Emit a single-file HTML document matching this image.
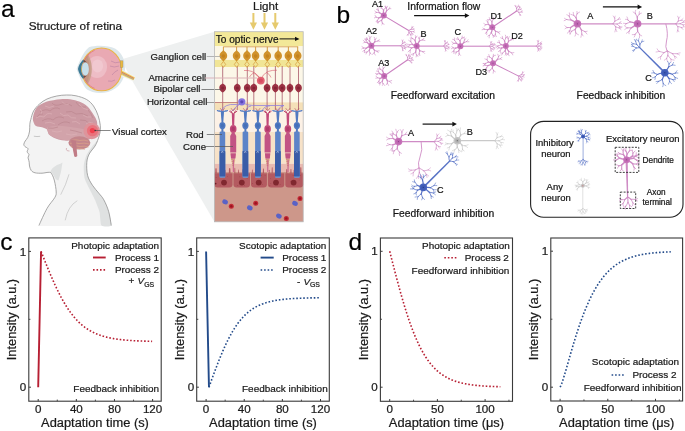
<!DOCTYPE html>
<html><head><meta charset="utf-8"><title>Retina adaptation figure</title>
<style>html,body{margin:0;padding:0;background:#fff;}svg{display:block;} text{stroke-width:0.22px;stroke:#1a1a1a;}</style></head>
<body>
<svg width="685" height="431" viewBox="0 0 685 431" font-family="&quot;Liberation Sans&quot;, Arial, sans-serif">
<rect width="685" height="431" fill="#fff"/>
<path d="M121,59.5 L214.4,31.7 L214.4,221.8 L133,82 Z" fill="#eef0f0"/>
<defs><radialGradient id="vc" cx="0.5" cy="0.5" r="0.5"><stop offset="0" stop-color="#e4233a"/><stop offset="0.3" stop-color="#ea5060"/><stop offset="0.62" stop-color="#ee8a95" stop-opacity="0.95"/><stop offset="1" stop-color="#f0a0a8" stop-opacity="0"/></radialGradient></defs>
<path d="M38.90,225.50 C40.27,222.63 44.47,212.93 47.10,208.30 C49.73,203.67 53.18,200.42 54.70,197.70 C56.22,194.98 56.23,194.78 56.20,192.00 C56.17,189.22 55.20,183.92 54.50,181.00 C53.80,178.08 52.83,175.95 52.00,174.50 C51.17,173.05 51.17,172.52 49.50,172.30 C47.83,172.08 44.40,173.12 42.00,173.20 C39.60,173.28 36.88,173.23 35.10,172.80 C33.32,172.37 32.23,171.73 31.30,170.60 C30.37,169.47 29.85,167.40 29.50,166.00 C29.15,164.60 29.38,163.37 29.20,162.20 C29.02,161.03 28.58,159.83 28.40,159.00 C28.22,158.17 28.00,157.93 28.10,157.20 C28.20,156.47 29.10,155.37 29.00,154.60 C28.90,153.83 27.80,153.17 27.50,152.60 C27.20,152.03 27.12,151.87 27.20,151.20 C27.28,150.53 28.37,149.37 28.00,148.60 C27.63,147.83 25.70,147.30 25.00,146.60 C24.30,145.90 23.77,145.33 23.80,144.40 C23.83,143.47 24.53,142.18 25.20,141.00 C25.87,139.82 27.07,138.97 27.80,137.30 C28.53,135.63 29.27,133.13 29.60,131.00 C29.93,128.87 29.60,126.43 29.80,124.50 C30.00,122.57 30.17,121.65 30.80,119.40 C31.43,117.15 32.15,113.57 33.60,111.00 C35.05,108.43 37.27,106.00 39.50,104.00 C41.73,102.00 44.12,100.33 47.00,99.00 C49.88,97.67 53.52,96.67 56.80,96.00 C60.08,95.33 63.50,95.03 66.70,95.00 C69.90,94.97 72.68,95.05 76.00,95.80 C79.32,96.55 83.68,97.80 86.60,99.50 C89.52,101.20 91.58,103.33 93.50,106.00 C95.42,108.67 96.97,112.25 98.10,115.50 C99.23,118.75 100.00,122.58 100.30,125.50 C100.60,128.42 100.35,130.50 99.90,133.00 C99.45,135.50 98.43,138.30 97.60,140.50 C96.77,142.70 96.30,143.95 94.90,146.20 C93.50,148.45 90.55,151.30 89.20,154.00 C87.85,156.70 87.07,158.83 86.80,162.40 C86.53,165.97 86.67,171.60 87.60,175.40 C88.53,179.20 90.52,182.22 92.40,185.20 C94.28,188.18 97.00,190.87 98.90,193.30 C100.80,195.73 102.18,196.80 103.80,199.80 C105.42,202.80 107.35,207.02 108.60,211.30 C109.85,215.58 110.85,223.13 111.30,225.50 L111.3,226 L38.9,226Z" fill="#f3f3f3"/>
<path d="M97.60,140.50 C97.84,140.52 95.74,144.85 94.90,146.20 C94.06,147.55 90.01,152.38 89.20,154.00 C88.39,155.62 86.96,160.26 86.80,162.40 C86.64,164.54 87.04,173.12 87.60,175.40 C88.16,177.68 91.27,183.41 92.40,185.20 C93.53,186.99 97.76,191.84 98.90,193.30 C100.04,194.76 102.83,198.00 103.80,199.80 C104.77,201.60 107.85,208.73 108.60,211.30 C109.35,213.87 112.01,224.08 111.30,225.50 C110.59,226.92 102.68,226.85 101.50,225.50 C100.32,224.15 100.15,214.55 99.50,212.00 C98.85,209.45 96.00,202.30 95.00,200.00 C94.00,197.70 90.55,191.20 89.50,189.00 C88.45,186.80 85.07,180.40 84.50,178.00 C83.93,175.60 83.60,167.30 83.80,165.00 C84.00,162.70 85.63,156.90 86.50,155.00 C87.37,153.10 91.39,147.45 92.50,146.00 C93.61,144.55 97.36,140.48 97.60,140.50Z" fill="#dfe1e1"/>
<path d="M50,172.3 Q52,167.5 57,165 Q61,163.5 62.5,162.5 Q61.5,172 58.5,180.5 Q55.5,180 54,176 Q52.5,173 50,172.3Z" fill="#dfe1e1"/>
<path d="M38.90,225.50 C40.27,222.63 44.47,212.93 47.10,208.30 C49.73,203.67 53.18,200.42 54.70,197.70 C56.22,194.98 56.23,194.78 56.20,192.00 C56.17,189.22 55.20,183.92 54.50,181.00 C53.80,178.08 52.83,175.95 52.00,174.50 C51.17,173.05 51.17,172.52 49.50,172.30 C47.83,172.08 44.40,173.12 42.00,173.20 C39.60,173.28 36.88,173.23 35.10,172.80 C33.32,172.37 32.23,171.73 31.30,170.60 C30.37,169.47 29.85,167.40 29.50,166.00 C29.15,164.60 29.38,163.37 29.20,162.20 C29.02,161.03 28.58,159.83 28.40,159.00 C28.22,158.17 28.00,157.93 28.10,157.20 C28.20,156.47 29.10,155.37 29.00,154.60 C28.90,153.83 27.80,153.17 27.50,152.60 C27.20,152.03 27.12,151.87 27.20,151.20 C27.28,150.53 28.37,149.37 28.00,148.60 C27.63,147.83 25.70,147.30 25.00,146.60 C24.30,145.90 23.77,145.33 23.80,144.40 C23.83,143.47 24.53,142.18 25.20,141.00 C25.87,139.82 27.07,138.97 27.80,137.30 C28.53,135.63 29.27,133.13 29.60,131.00 C29.93,128.87 29.60,126.43 29.80,124.50 C30.00,122.57 30.17,121.65 30.80,119.40 C31.43,117.15 32.15,113.57 33.60,111.00 C35.05,108.43 37.27,106.00 39.50,104.00 C41.73,102.00 44.12,100.33 47.00,99.00 C49.88,97.67 53.52,96.67 56.80,96.00 C60.08,95.33 63.50,95.03 66.70,95.00 C69.90,94.97 72.68,95.05 76.00,95.80 C79.32,96.55 83.68,97.80 86.60,99.50 C89.52,101.20 91.58,103.33 93.50,106.00 C95.42,108.67 96.97,112.25 98.10,115.50 C99.23,118.75 100.00,122.58 100.30,125.50 C100.60,128.42 100.35,130.50 99.90,133.00 C99.45,135.50 98.43,138.30 97.60,140.50 C96.77,142.70 96.30,143.95 94.90,146.20 C93.50,148.45 90.55,151.30 89.20,154.00 C87.85,156.70 87.07,158.83 86.80,162.40 C86.53,165.97 86.67,171.60 87.60,175.40 C88.53,179.20 90.52,182.22 92.40,185.20 C94.28,188.18 97.00,190.87 98.90,193.30 C100.80,195.73 102.18,196.80 103.80,199.80 C105.42,202.80 107.35,207.02 108.60,211.30 C109.85,215.58 110.85,223.13 111.30,225.50" fill="none" stroke="#8c8c8c" stroke-width="0.75"/>
<path d="M69,174.3 Q66,185 60.7,194.7" fill="none" stroke="#b4b4b4" stroke-width="0.55"/>
<path d="M77.3,200.7 Q68,206 65.2,220.3" fill="none" stroke="#b4b4b4" stroke-width="0.55"/>
<path d="M33.8,136.2 Q37,136.9 40.2,136.3" fill="none" stroke="#9a9a9a" stroke-width="0.5"/>
<path d="M33.00,117.60 C33.25,115.68 34.00,112.50 35.00,110.50 C36.00,108.50 37.00,107.10 39.00,105.60 C41.00,104.10 43.47,102.57 47.00,101.50 C50.53,100.43 56.37,99.57 60.20,99.20 C64.03,98.83 66.73,98.87 70.00,99.30 C73.27,99.73 76.88,100.60 79.80,101.80 C82.72,103.00 85.23,104.37 87.50,106.50 C89.77,108.63 91.85,112.18 93.40,114.60 C94.95,117.02 96.18,119.02 96.80,121.00 C97.42,122.98 97.32,124.50 97.10,126.50 C96.88,128.50 96.43,131.05 95.50,133.00 C94.57,134.95 93.08,137.07 91.50,138.20 C89.92,139.33 88.25,139.58 86.00,139.80 C83.75,140.02 80.67,139.37 78.00,139.50 C75.33,139.63 72.67,140.47 70.00,140.60 C67.33,140.73 64.50,140.68 62.00,140.30 C59.50,139.92 57.17,139.25 55.00,138.30 C52.83,137.35 50.33,136.07 49.00,134.60 C47.67,133.13 48.17,130.73 47.00,129.50 C45.83,128.27 43.83,127.78 42.00,127.20 C40.17,126.62 37.42,126.87 36.00,126.00 C34.58,125.13 34.00,123.40 33.50,122.00 C33.00,120.60 32.75,119.52 33.00,117.60Z" fill="#cc9aa3"/>
<path d="M46.6,127.4 Q56,124.5 67,126.5 Q79,128 90.5,130.5 Q92,135 88,138.5 Q78,139.5 66,140.3 Q56,139.3 49,134.6 Q47,130 46.6,127.4Z" fill="#d2a3aa"/>
<path d="M40,112 Q46,108 50,111 Q55,106 60,109 M52,103 Q55,107 62,104 Q68,102 72,106 M76,102 Q79,108 86,107 M42,121 Q48,117 53,120 Q58,115 64,118 M66,112 Q72,110 76,114 Q82,112 88,116 M58,125 Q64,120 70,123 M80,120 Q86,119 90,124 M37,117 Q39,113 43,114 M48,128 Q53,129 58,127 M70,130 Q76,131 82,133 M88,110 Q91,113 93,118" fill="none" stroke="#b8838c" stroke-width="0.6"/>
<path d="M36,118 Q40,115 44,117 Q47,112 52,114 M45,106 Q49,109 54,106 M62,101.5 Q64,105 69,104 M79,104 Q82,109 88,110 M45,123 Q50,121 55,124 M60,113 Q63,117 68,115 Q71,119 76,118 M72,122 Q76,120 80,124 M83,115 Q87,118 91,117 M86,124 Q89,121 93,123 M52,131 Q57,133 62,131 M66,134 Q71,136 77,134 M40,109 Q43,111 41,114" fill="none" stroke="#deb3b9" stroke-width="0.6"/>
<ellipse cx="79.4" cy="142.8" rx="11" ry="6.6" fill="#c4868c"/>
<path d="M71,140.5 Q76,139 80,140.5 Q84,139.5 88,141 M70,143.5 Q75,142 79,143.6 Q84,142.5 89.5,144 M71,146.5 Q76,145 80,146.6 Q84,145.6 88.5,147 M74,149 Q79,148 85,149.2" fill="none" stroke="#d9a088" stroke-width="0.75"/>
<path d="M71,140 Q73.5,139.5 76,141 L77.3,156 Q75.8,157.6 74.3,156.6 Z" fill="#c07c86"/>
<path d="M66.5,148 Q65.5,151 69.5,151" fill="none" stroke="#c48f97" stroke-width="0.6"/>
<circle cx="91.8" cy="131" r="8.3" fill="#de949b"/>
<circle cx="92.5" cy="130.7" r="5.6" fill="#e9737d"/>
<circle cx="92.4" cy="130.6" r="2.6" fill="#f0414f"/>
<circle cx="95.3" cy="130.5" r="0.8" fill="#222"/>
<path d="M89,47.2 C95,45.2 108,45 115,48.5 C123,53 125.5,62 125,70 C124.5,80 119,88.5 108,92 C99,94.5 91,92 87,89.5 C83,86 79.5,77 76.6,69 C79.5,61 83,52 89,47.2Z" fill="#dde7eb"/>
<path d="M117.5,67.5 L135.8,76.6 L133.6,81.4 L116.5,74Z" fill="#f2f2ee"/>
<path d="M118,68.6 L135,77.4 L133.3,80.3 L117,73Z" fill="#efd264"/>
<path d="M119,70.8 L134,78.4" stroke="#c84858" stroke-width="0.6"/><path d="M119,72 L133.6,79.4" stroke="#6070b8" stroke-width="0.45"/>
<ellipse cx="101.6" cy="69.4" rx="20.0" ry="21.4" fill="#e9a9b3" stroke="#e9b446" stroke-width="1.1"/>
<clipPath id="globe"><ellipse cx="101.6" cy="69.4" rx="19.4" ry="20.8"/></clipPath>
<g clip-path="url(#globe)">
<ellipse cx="97.1" cy="66.9" rx="10" ry="11" fill="#eebdc6"/>
<ellipse cx="97.6" cy="65.9" rx="5.5" ry="6.5" fill="#f1c8d0"/>
<path d="M78,45 C88,50 91.8,60 91.8,69 C91.8,78 88,88 78,94Z" fill="#c9a08e"/>
<path d="M78,45 C86,49 89.5,58 89.5,69 C89.5,80 86,89 78,94Z" fill="#c29480"/>
<path d="M94.33,50.11 L93.15,50.68 L92.00,51.33 L90.89,52.06 L89.83,52.86 L88.83,53.74 L87.88,54.69 L87.00,55.71 L86.17,56.79 L85.42,57.92 L84.74,59.10 L84.14,60.34 L83.61,61.61 M83.61,77.19 L84.14,78.46 L84.74,79.70 L85.42,80.88 L86.17,82.01 L87.00,83.09 L87.88,84.11 L88.83,85.06 L89.83,85.94 L90.89,86.74 L92.00,87.47 L93.15,88.12 L94.33,88.69" fill="none" stroke="#de6a74" stroke-width="1.3"/>
</g>
<path d="M83.5,59.5 L86.5,62 L86.5,63.5 L83.2,62Z M83.5,78.5 L86.5,76 L86.5,74.5 L83.2,76Z" fill="#7c4c3c"/>
<path d="M83.2,59.6 C80.2,63 78.4,66 78.0,69 C78.4,72 80.2,75.5 83.2,79 L83.8,77 C82,74.5 81.2,72 81.2,69 C81.2,66 82,63.5 83.8,61.5Z" fill="#3b7894"/>
<ellipse cx="85.4" cy="69" rx="3.5" ry="6.8" fill="#c7e0ea"/>
<path d="M120,62 Q115,64 111,61 M119,66 Q114,68 110,66 M118,70 Q114,72 112,75 M115,80 Q112,82 108,81" fill="none" stroke="#b07aa0" stroke-width="0.5"/>
<rect x="120.2" y="60.8" width="2.8" height="6.6" fill="#e8b840" stroke="#9a8a70" stroke-width="0.4"/>
<rect x="214.4" y="31.7" width="88.80" height="14.60" fill="#f3e898"/>
<rect x="214.4" y="46.3" width="88.80" height="13.60" fill="#fcf7e6"/>
<rect x="214.4" y="59.9" width="88.80" height="7.30" fill="#f1e596"/>
<rect x="214.4" y="67.2" width="88.80" height="35.10" fill="#fcf7e8"/>
<rect x="214.4" y="102.3" width="88.80" height="7.70" fill="#f5e0b8"/>
<rect x="214.4" y="110.0" width="88.80" height="22.00" fill="#fcf1e6"/>
<rect x="214.4" y="132.0" width="88.80" height="31.80" fill="#f7e2c8"/>
<rect x="214.4" y="163.8" width="88.80" height="8.20" fill="#e9bab0"/>
<rect x="214.4" y="172.0" width="88.80" height="49.80" fill="#cd978a"/>
<line x1="223.4" y1="46.8" x2="298.2" y2="46.8" stroke="#d7a24e" stroke-width="0.9"/>
<line x1="222.7" y1="66" x2="222.7" y2="110" stroke="#a85868" stroke-width="0.8"/>
<line x1="237.3" y1="66" x2="237.3" y2="110" stroke="#a85868" stroke-width="0.8"/>
<line x1="247.3" y1="66" x2="247.3" y2="110" stroke="#a85868" stroke-width="0.8"/>
<line x1="253.8" y1="66" x2="253.8" y2="110" stroke="#a85868" stroke-width="0.8"/>
<line x1="267.1" y1="66" x2="267.1" y2="110" stroke="#a85868" stroke-width="0.8"/>
<line x1="275.4" y1="66" x2="275.4" y2="110" stroke="#a85868" stroke-width="0.8"/>
<line x1="282.2" y1="66" x2="282.2" y2="110" stroke="#a85868" stroke-width="0.8"/>
<line x1="290.0" y1="66" x2="290.0" y2="110" stroke="#a85868" stroke-width="0.8"/>
<line x1="298.5" y1="66" x2="298.5" y2="110" stroke="#a85868" stroke-width="0.8"/>
<line x1="223.4" y1="46.8" x2="223.4" y2="52" stroke="#cf9230" stroke-width="0.9"/>
<path d="M223.4,50.0 C224.6,51.6 227.20000000000002,52.6 227.20000000000002,56.0 C227.20000000000002,58.6 225.0,59.6 223.4,61.6 C221.8,59.6 219.6,58.6 219.6,56.0 C219.6,52.6 222.20000000000002,51.6 223.4,50.0Z" fill="#d0922c"/>
<circle cx="223.4" cy="56.1" r="1.8" fill="#c4821e"/>
<path d="M223.4,61.4 L225.70000000000002,64.4 L223.4,67.4 L221.1,64.4Z" fill="none" stroke="#d9a040" stroke-width="0.75"/>
<line x1="236.6" y1="46.8" x2="236.6" y2="52" stroke="#cf9230" stroke-width="0.9"/>
<path d="M236.6,50.0 C237.79999999999998,51.6 240.4,52.6 240.4,56.0 C240.4,58.6 238.2,59.6 236.6,61.6 C235.0,59.6 232.79999999999998,58.6 232.79999999999998,56.0 C232.79999999999998,52.6 235.4,51.6 236.6,50.0Z" fill="#d0922c"/>
<circle cx="236.6" cy="56.1" r="1.8" fill="#c4821e"/>
<path d="M236.6,61.4 L238.9,64.4 L236.6,67.4 L234.29999999999998,64.4Z" fill="none" stroke="#d9a040" stroke-width="0.75"/>
<line x1="247.0" y1="46.8" x2="247.0" y2="52" stroke="#cf9230" stroke-width="0.9"/>
<path d="M247.0,50.0 C248.2,51.6 250.8,52.6 250.8,56.0 C250.8,58.6 248.6,59.6 247.0,61.6 C245.4,59.6 243.2,58.6 243.2,56.0 C243.2,52.6 245.8,51.6 247.0,50.0Z" fill="#d0922c"/>
<circle cx="247.0" cy="56.1" r="1.8" fill="#c4821e"/>
<path d="M247.0,61.4 L249.3,64.4 L247.0,67.4 L244.7,64.4Z" fill="none" stroke="#d9a040" stroke-width="0.75"/>
<line x1="255.6" y1="46.8" x2="255.6" y2="52" stroke="#cf9230" stroke-width="0.9"/>
<path d="M255.6,50.0 C256.8,51.6 259.4,52.6 259.4,56.0 C259.4,58.6 257.2,59.6 255.6,61.6 C254.0,59.6 251.79999999999998,58.6 251.79999999999998,56.0 C251.79999999999998,52.6 254.4,51.6 255.6,50.0Z" fill="#d0922c"/>
<circle cx="255.6" cy="56.1" r="1.8" fill="#c4821e"/>
<path d="M255.6,61.4 L257.9,64.4 L255.6,67.4 L253.29999999999998,64.4Z" fill="none" stroke="#d9a040" stroke-width="0.75"/>
<line x1="267.3" y1="46.8" x2="267.3" y2="52" stroke="#cf9230" stroke-width="0.9"/>
<path d="M267.3,50.0 C268.5,51.6 271.1,52.6 271.1,56.0 C271.1,58.6 268.90000000000003,59.6 267.3,61.6 C265.7,59.6 263.5,58.6 263.5,56.0 C263.5,52.6 266.1,51.6 267.3,50.0Z" fill="#d0922c"/>
<circle cx="267.3" cy="56.1" r="1.8" fill="#c4821e"/>
<path d="M267.3,61.4 L269.6,64.4 L267.3,67.4 L265.0,64.4Z" fill="none" stroke="#d9a040" stroke-width="0.75"/>
<line x1="278.2" y1="46.8" x2="278.2" y2="52" stroke="#cf9230" stroke-width="0.9"/>
<path d="M278.2,50.0 C279.4,51.6 282.0,52.6 282.0,56.0 C282.0,58.6 279.8,59.6 278.2,61.6 C276.59999999999997,59.6 274.4,58.6 274.4,56.0 C274.4,52.6 277.0,51.6 278.2,50.0Z" fill="#d0922c"/>
<circle cx="278.2" cy="56.1" r="1.8" fill="#c4821e"/>
<path d="M278.2,61.4 L280.5,64.4 L278.2,67.4 L275.9,64.4Z" fill="none" stroke="#d9a040" stroke-width="0.75"/>
<line x1="288.4" y1="46.8" x2="288.4" y2="52" stroke="#cf9230" stroke-width="0.9"/>
<path d="M288.4,50.0 C289.59999999999997,51.6 292.2,52.6 292.2,56.0 C292.2,58.6 290.0,59.6 288.4,61.6 C286.79999999999995,59.6 284.59999999999997,58.6 284.59999999999997,56.0 C284.59999999999997,52.6 287.2,51.6 288.4,50.0Z" fill="#d0922c"/>
<circle cx="288.4" cy="56.1" r="1.8" fill="#c4821e"/>
<path d="M288.4,61.4 L290.7,64.4 L288.4,67.4 L286.09999999999997,64.4Z" fill="none" stroke="#d9a040" stroke-width="0.75"/>
<line x1="297.7" y1="46.8" x2="297.7" y2="52" stroke="#cf9230" stroke-width="0.9"/>
<path d="M297.7,50.0 C298.9,51.6 301.5,52.6 301.5,56.0 C301.5,58.6 299.3,59.6 297.7,61.6 C296.09999999999997,59.6 293.9,58.6 293.9,56.0 C293.9,52.6 296.5,51.6 297.7,50.0Z" fill="#d0922c"/>
<circle cx="297.7" cy="56.1" r="1.8" fill="#c4821e"/>
<path d="M297.7,61.4 L300.0,64.4 L297.7,67.4 L295.4,64.4Z" fill="none" stroke="#d9a040" stroke-width="0.75"/>
<path d="M260.8,80 Q258,74 252,71.5 Q248,70 244,70.5 M254.5,72.6 Q251,74 249.5,77 M260.8,80 Q262.5,74 268,71.5 Q272,70 277,70.2 M266.5,72.4 Q270,74.5 271,77.5 M259.5,77 Q256,76 255,73" fill="none" stroke="#d65a6c" stroke-width="0.6"/>
<path d="M222.7,83.4 C223.7,84.2 226.1,84.6 226.1,87.9 C226.1,90.6 223.7,91.6 222.7,92.6 C221.7,91.6 219.29999999999998,90.6 219.29999999999998,87.9 C219.29999999999998,84.6 221.7,84.2 222.7,83.4Z" fill="#9b3243"/>
<circle cx="222.7" cy="87.9" r="1.5" fill="#852434"/>
<path d="M237.3,83.4 C238.3,84.2 240.70000000000002,84.6 240.70000000000002,87.9 C240.70000000000002,90.6 238.3,91.6 237.3,92.6 C236.3,91.6 233.9,90.6 233.9,87.9 C233.9,84.6 236.3,84.2 237.3,83.4Z" fill="#9b3243"/>
<circle cx="237.3" cy="87.9" r="1.5" fill="#852434"/>
<path d="M247.3,83.4 C248.3,84.2 250.70000000000002,84.6 250.70000000000002,87.9 C250.70000000000002,90.6 248.3,91.6 247.3,92.6 C246.3,91.6 243.9,90.6 243.9,87.9 C243.9,84.6 246.3,84.2 247.3,83.4Z" fill="#9b3243"/>
<circle cx="247.3" cy="87.9" r="1.5" fill="#852434"/>
<path d="M253.8,83.4 C254.8,84.2 257.2,84.6 257.2,87.9 C257.2,90.6 254.8,91.6 253.8,92.6 C252.8,91.6 250.4,90.6 250.4,87.9 C250.4,84.6 252.8,84.2 253.8,83.4Z" fill="#9b3243"/>
<circle cx="253.8" cy="87.9" r="1.5" fill="#852434"/>
<path d="M267.1,83.4 C268.1,84.2 270.5,84.6 270.5,87.9 C270.5,90.6 268.1,91.6 267.1,92.6 C266.1,91.6 263.70000000000005,90.6 263.70000000000005,87.9 C263.70000000000005,84.6 266.1,84.2 267.1,83.4Z" fill="#9b3243"/>
<circle cx="267.1" cy="87.9" r="1.5" fill="#852434"/>
<path d="M275.4,83.4 C276.4,84.2 278.79999999999995,84.6 278.79999999999995,87.9 C278.79999999999995,90.6 276.4,91.6 275.4,92.6 C274.4,91.6 272.0,90.6 272.0,87.9 C272.0,84.6 274.4,84.2 275.4,83.4Z" fill="#9b3243"/>
<circle cx="275.4" cy="87.9" r="1.5" fill="#852434"/>
<path d="M282.2,83.4 C283.2,84.2 285.59999999999997,84.6 285.59999999999997,87.9 C285.59999999999997,90.6 283.2,91.6 282.2,92.6 C281.2,91.6 278.8,90.6 278.8,87.9 C278.8,84.6 281.2,84.2 282.2,83.4Z" fill="#9b3243"/>
<circle cx="282.2" cy="87.9" r="1.5" fill="#852434"/>
<path d="M290.0,83.4 C291.0,84.2 293.4,84.6 293.4,87.9 C293.4,90.6 291.0,91.6 290.0,92.6 C289.0,91.6 286.6,90.6 286.6,87.9 C286.6,84.6 289.0,84.2 290.0,83.4Z" fill="#9b3243"/>
<circle cx="290.0" cy="87.9" r="1.5" fill="#852434"/>
<path d="M298.5,83.4 C299.5,84.2 301.9,84.6 301.9,87.9 C301.9,90.6 299.5,91.6 298.5,92.6 C297.5,91.6 295.1,90.6 295.1,87.9 C295.1,84.6 297.5,84.2 298.5,83.4Z" fill="#9b3243"/>
<circle cx="298.5" cy="87.9" r="1.5" fill="#852434"/>
<circle cx="260.8" cy="80.6" r="3.9" fill="#e06272"/>
<circle cx="260.8" cy="80.6" r="2.2" fill="#d64c60"/>
<path d="M221,111 Q225,103.5 235,104.5 Q240,105.5 241.8,101.8 M241.8,101.8 Q246,106 258,105.5 L284,105.5 M232,111 Q236,106 241.8,103 M246,111 Q246,107 251,106 M262,111 Q264,106 270,105.8 M277,111 Q280,106 284,105.5" fill="none" stroke="#8c7ee0" stroke-width="0.75"/>
<circle cx="241.8" cy="101.8" r="3.6" fill="#8674e0"/>
<circle cx="241.8" cy="101.8" r="1.6" fill="#5a48b8"/>
<path d="M214.40,173.2 L232.50,173.2 L232.50,184.20 Q232.50,187.4 229.30,187.4 L217.60,187.4 Q214.40,187.4 214.40,184.20Z" fill="#b45a60"/>
<path d="M215.20,173.5 L215.40,168.46 Q216.00,167.86 216.59,168.46 L216.79,173.5Z" fill="#b45a60"/>
<path d="M219.67,173.5 L219.87,167.56 Q220.46,166.96 221.06,167.56 L221.26,173.5Z" fill="#b45a60"/>
<path d="M224.33,173.5 L224.53,170.12 Q225.02,169.52 225.51,170.12 L225.71,173.5Z" fill="#b45a60"/>
<path d="M228.82,173.5 L229.02,168.38 Q229.68,167.78 230.34,168.38 L230.54,173.5Z" fill="#b45a60"/>
<circle cx="224.0" cy="182.6" r="2.9" fill="#80282f"/>
<circle cx="222.98" cy="177.71" r="0.35" fill="#8c3038"/>
<circle cx="224.11" cy="181.31" r="0.35" fill="#8c3038"/>
<circle cx="216.10" cy="177.38" r="0.35" fill="#8c3038"/>
<circle cx="220.12" cy="185.08" r="0.35" fill="#8c3038"/>
<circle cx="227.46" cy="176.76" r="0.35" fill="#8c3038"/>
<path d="M233.50,173.2 L250.00,173.2 L250.00,184.20 Q250.00,187.4 246.80,187.4 L236.70,187.4 Q233.50,187.4 233.50,184.20Z" fill="#b45a60"/>
<path d="M234.30,173.5 L234.50,167.97 Q234.86,167.37 235.21,167.97 L235.41,173.5Z" fill="#b45a60"/>
<path d="M238.00,173.5 L238.20,169.85 Q238.50,169.25 238.80,169.85 L239.00,173.5Z" fill="#b45a60"/>
<path d="M241.99,173.5 L242.19,169.61 Q242.58,169.01 242.97,169.61 L243.17,173.5Z" fill="#b45a60"/>
<path d="M246.34,173.5 L246.54,167.76 Q246.95,167.16 247.37,167.76 L247.57,173.5Z" fill="#b45a60"/>
<circle cx="241.8" cy="182.6" r="2.9" fill="#80282f"/>
<circle cx="242.28" cy="182.46" r="0.35" fill="#8c3038"/>
<circle cx="237.76" cy="185.35" r="0.35" fill="#8c3038"/>
<circle cx="244.32" cy="185.63" r="0.35" fill="#8c3038"/>
<circle cx="247.07" cy="178.29" r="0.35" fill="#8c3038"/>
<circle cx="239.88" cy="176.83" r="0.35" fill="#8c3038"/>
<path d="M251.00,173.2 L266.90,173.2 L266.90,184.20 Q266.90,187.4 263.70,187.4 L254.20,187.4 Q251.00,187.4 251.00,184.20Z" fill="#b45a60"/>
<path d="M251.80,173.5 L252.00,169.79 Q252.33,169.19 252.65,169.79 L252.85,173.5Z" fill="#b45a60"/>
<path d="M254.93,173.5 L255.13,168.51 Q255.44,167.91 255.74,168.51 L255.94,173.5Z" fill="#b45a60"/>
<path d="M258.62,173.5 L258.82,169.25 Q259.25,168.65 259.67,169.25 L259.87,173.5Z" fill="#b45a60"/>
<path d="M262.78,173.5 L262.98,168.85 Q263.41,168.25 263.83,168.85 L264.03,173.5Z" fill="#b45a60"/>
<circle cx="258.7" cy="182.6" r="2.9" fill="#80282f"/>
<circle cx="261.59" cy="175.63" r="0.35" fill="#8c3038"/>
<circle cx="265.08" cy="175.25" r="0.35" fill="#8c3038"/>
<circle cx="262.17" cy="184.29" r="0.35" fill="#8c3038"/>
<circle cx="252.73" cy="183.67" r="0.35" fill="#8c3038"/>
<circle cx="257.22" cy="181.36" r="0.35" fill="#8c3038"/>
<path d="M267.90,173.2 L284.30,173.2 L284.30,184.20 Q284.30,187.4 281.10,187.4 L271.10,187.4 Q267.90,187.4 267.90,184.20Z" fill="#b45a60"/>
<path d="M268.70,173.5 L268.90,170.17 Q269.22,169.57 269.54,170.17 L269.74,173.5Z" fill="#b45a60"/>
<path d="M271.63,173.5 L271.83,167.53 Q272.21,166.93 272.58,167.53 L272.78,173.5Z" fill="#b45a60"/>
<path d="M275.59,173.5 L275.79,167.60 Q276.47,167.00 277.15,167.60 L277.35,173.5Z" fill="#b45a60"/>
<path d="M279.50,173.5 L279.70,169.21 Q280.21,168.61 280.72,169.21 L280.92,173.5Z" fill="#b45a60"/>
<circle cx="276.0" cy="182.6" r="2.9" fill="#80282f"/>
<circle cx="270.85" cy="183.23" r="0.35" fill="#8c3038"/>
<circle cx="280.08" cy="184.46" r="0.35" fill="#8c3038"/>
<circle cx="269.89" cy="185.40" r="0.35" fill="#8c3038"/>
<circle cx="270.62" cy="178.75" r="0.35" fill="#8c3038"/>
<circle cx="277.59" cy="185.10" r="0.35" fill="#8c3038"/>
<path d="M285.30,173.2 L303.20,173.2 L303.20,184.20 Q303.20,187.4 300.00,187.4 L288.50,187.4 Q285.30,187.4 285.30,184.20Z" fill="#b45a60"/>
<path d="M286.10,173.5 L286.30,169.25 Q286.97,168.65 287.64,169.25 L287.84,173.5Z" fill="#b45a60"/>
<path d="M290.31,173.5 L290.51,169.33 Q290.94,168.73 291.37,169.33 L291.57,173.5Z" fill="#b45a60"/>
<path d="M293.45,173.5 L293.65,169.98 Q294.01,169.38 294.37,169.98 L294.57,173.5Z" fill="#b45a60"/>
<path d="M297.27,173.5 L297.47,167.41 Q297.84,166.81 298.20,167.41 L298.40,173.5Z" fill="#b45a60"/>
<path d="M300.08,173.5 L300.28,167.44 Q300.79,166.84 301.30,167.44 L301.50,173.5Z" fill="#b45a60"/>
<circle cx="293.6" cy="182.6" r="2.9" fill="#80282f"/>
<circle cx="290.34" cy="181.53" r="0.35" fill="#8c3038"/>
<circle cx="299.11" cy="180.01" r="0.35" fill="#8c3038"/>
<circle cx="293.08" cy="175.61" r="0.35" fill="#8c3038"/>
<circle cx="300.45" cy="175.36" r="0.35" fill="#8c3038"/>
<circle cx="294.15" cy="184.22" r="0.35" fill="#8c3038"/>
<circle cx="215.6" cy="183.6" r="0.9" fill="#6a1e26"/>
<ellipse cx="225.1" cy="201.9" rx="2.9" ry="2.3" transform="rotate(25 225.1 201.9)" fill="#5a62c6"/>
<ellipse cx="249.8" cy="207.9" rx="2.9" ry="2.3" transform="rotate(25 249.8 207.9)" fill="#5a62c6"/>
<ellipse cx="278.9" cy="216.1" rx="2.9" ry="2.3" transform="rotate(25 278.9 216.1)" fill="#5a62c6"/>
<ellipse cx="295.0" cy="203.4" rx="2.9" ry="2.3" transform="rotate(25 295.0 203.4)" fill="#5a62c6"/>
<circle cx="231.3" cy="206.3" r="2.5" fill="#c22a36"/><circle cx="231.3" cy="206.3" r="1.2" fill="#9a1420"/>
<circle cx="255.7" cy="203.2" r="2.5" fill="#c22a36"/><circle cx="255.7" cy="203.2" r="1.2" fill="#9a1420"/>
<circle cx="286.3" cy="218.4" r="2.5" fill="#c22a36"/><circle cx="286.3" cy="218.4" r="1.2" fill="#9a1420"/>
<circle cx="300.0" cy="198.5" r="2.5" fill="#c22a36"/><circle cx="300.0" cy="198.5" r="1.2" fill="#9a1420"/>
<path d="M216.9,110.6 Q222.4,112.5 227.9,110.6" fill="none" stroke="#5179c1" stroke-width="1.1"/>
<line x1="218.40" y1="111.6" x2="217.40" y2="110.0" stroke="#5179c1" stroke-width="0.6"/>
<line x1="219.84" y1="111.6" x2="219.20" y2="110.0" stroke="#5179c1" stroke-width="0.6"/>
<line x1="221.28" y1="111.6" x2="221.00" y2="110.0" stroke="#5179c1" stroke-width="0.6"/>
<line x1="223.52" y1="111.6" x2="223.80" y2="110.0" stroke="#5179c1" stroke-width="0.6"/>
<line x1="224.96" y1="111.6" x2="225.60" y2="110.0" stroke="#5179c1" stroke-width="0.6"/>
<line x1="226.40" y1="111.6" x2="227.40" y2="110.0" stroke="#5179c1" stroke-width="0.6"/>
<path d="M220.8,112 L224.0,112 L223.3,122 L221.5,122Z" fill="#5179c1"/>
<ellipse cx="222.4" cy="125.6" rx="3.1" ry="3.7" fill="#5179c1"/>
<ellipse cx="222.4" cy="125.6" rx="1.7" ry="2.1" fill="#4670b8"/>
<rect x="221.4" y="128" width="2.0" height="4" fill="#5179c1"/>
<rect x="219.6" y="131.5" width="5.6" height="20" rx="1.2" fill="#5c83c8"/>
<rect x="219.5" y="151" width="5.8" height="26.7" rx="1.0" fill="#6d9ad6"/>
<rect x="219.5" y="151" width="5.8" height="25.6" rx="0.6" fill="#3a5ca7"/>
<path d="M221.1,152.5 q1,-1.6 2.2,-0.3" fill="none" stroke="#e8eefa" stroke-width="0.7"/>
<path d="M239.9,110.6 Q245.4,112.5 250.9,110.6" fill="none" stroke="#5179c1" stroke-width="1.1"/>
<line x1="241.40" y1="111.6" x2="240.40" y2="110.0" stroke="#5179c1" stroke-width="0.6"/>
<line x1="242.84" y1="111.6" x2="242.20" y2="110.0" stroke="#5179c1" stroke-width="0.6"/>
<line x1="244.28" y1="111.6" x2="244.00" y2="110.0" stroke="#5179c1" stroke-width="0.6"/>
<line x1="246.52" y1="111.6" x2="246.80" y2="110.0" stroke="#5179c1" stroke-width="0.6"/>
<line x1="247.96" y1="111.6" x2="248.60" y2="110.0" stroke="#5179c1" stroke-width="0.6"/>
<line x1="249.40" y1="111.6" x2="250.40" y2="110.0" stroke="#5179c1" stroke-width="0.6"/>
<path d="M243.8,112 L247.0,112 L246.3,122 L244.5,122Z" fill="#5179c1"/>
<ellipse cx="245.4" cy="125.6" rx="3.1" ry="3.7" fill="#5179c1"/>
<ellipse cx="245.4" cy="125.6" rx="1.7" ry="2.1" fill="#4670b8"/>
<rect x="244.4" y="128" width="2.0" height="4" fill="#5179c1"/>
<rect x="242.6" y="131.5" width="5.6" height="20" rx="1.2" fill="#5c83c8"/>
<rect x="242.5" y="151" width="5.8" height="26.7" rx="1.0" fill="#6d9ad6"/>
<rect x="242.5" y="151" width="5.8" height="25.6" rx="0.6" fill="#3a5ca7"/>
<path d="M244.1,152.5 q1,-1.6 2.2,-0.3" fill="none" stroke="#e8eefa" stroke-width="0.7"/>
<path d="M252.39999999999998,110.6 Q257.9,112.5 263.4,110.6" fill="none" stroke="#5179c1" stroke-width="1.1"/>
<line x1="253.90" y1="111.6" x2="252.90" y2="110.0" stroke="#5179c1" stroke-width="0.6"/>
<line x1="255.34" y1="111.6" x2="254.70" y2="110.0" stroke="#5179c1" stroke-width="0.6"/>
<line x1="256.78" y1="111.6" x2="256.50" y2="110.0" stroke="#5179c1" stroke-width="0.6"/>
<line x1="259.02" y1="111.6" x2="259.30" y2="110.0" stroke="#5179c1" stroke-width="0.6"/>
<line x1="260.46" y1="111.6" x2="261.10" y2="110.0" stroke="#5179c1" stroke-width="0.6"/>
<line x1="261.90" y1="111.6" x2="262.90" y2="110.0" stroke="#5179c1" stroke-width="0.6"/>
<path d="M256.29999999999995,112 L259.5,112 L258.79999999999995,122 L257.0,122Z" fill="#5179c1"/>
<ellipse cx="257.9" cy="125.6" rx="3.1" ry="3.7" fill="#5179c1"/>
<ellipse cx="257.9" cy="125.6" rx="1.7" ry="2.1" fill="#4670b8"/>
<rect x="256.9" y="128" width="2.0" height="4" fill="#5179c1"/>
<rect x="255.09999999999997" y="131.5" width="5.6" height="20" rx="1.2" fill="#5c83c8"/>
<rect x="254.99999999999997" y="151" width="5.8" height="26.7" rx="1.0" fill="#6d9ad6"/>
<rect x="254.99999999999997" y="151" width="5.8" height="25.6" rx="0.6" fill="#3a5ca7"/>
<path d="M256.59999999999997,152.5 q1,-1.6 2.2,-0.3" fill="none" stroke="#e8eefa" stroke-width="0.7"/>
<path d="M272.4,110.6 Q277.9,112.5 283.4,110.6" fill="none" stroke="#5179c1" stroke-width="1.1"/>
<line x1="273.90" y1="111.6" x2="272.90" y2="110.0" stroke="#5179c1" stroke-width="0.6"/>
<line x1="275.34" y1="111.6" x2="274.70" y2="110.0" stroke="#5179c1" stroke-width="0.6"/>
<line x1="276.78" y1="111.6" x2="276.50" y2="110.0" stroke="#5179c1" stroke-width="0.6"/>
<line x1="279.02" y1="111.6" x2="279.30" y2="110.0" stroke="#5179c1" stroke-width="0.6"/>
<line x1="280.46" y1="111.6" x2="281.10" y2="110.0" stroke="#5179c1" stroke-width="0.6"/>
<line x1="281.90" y1="111.6" x2="282.90" y2="110.0" stroke="#5179c1" stroke-width="0.6"/>
<path d="M276.29999999999995,112 L279.5,112 L278.79999999999995,122 L277.0,122Z" fill="#5179c1"/>
<ellipse cx="277.9" cy="125.6" rx="3.1" ry="3.7" fill="#5179c1"/>
<ellipse cx="277.9" cy="125.6" rx="1.7" ry="2.1" fill="#4670b8"/>
<rect x="276.9" y="128" width="2.0" height="4" fill="#5179c1"/>
<rect x="275.09999999999997" y="131.5" width="5.6" height="20" rx="1.2" fill="#5c83c8"/>
<rect x="275.0" y="151" width="5.8" height="26.7" rx="1.0" fill="#6d9ad6"/>
<rect x="275.0" y="151" width="5.8" height="25.6" rx="0.6" fill="#3a5ca7"/>
<path d="M276.59999999999997,152.5 q1,-1.6 2.2,-0.3" fill="none" stroke="#e8eefa" stroke-width="0.7"/>
<path d="M291.4,110.6 Q296.9,112.5 302.4,110.6" fill="none" stroke="#5179c1" stroke-width="1.1"/>
<line x1="292.90" y1="111.6" x2="291.90" y2="110.0" stroke="#5179c1" stroke-width="0.6"/>
<line x1="294.34" y1="111.6" x2="293.70" y2="110.0" stroke="#5179c1" stroke-width="0.6"/>
<line x1="295.78" y1="111.6" x2="295.50" y2="110.0" stroke="#5179c1" stroke-width="0.6"/>
<line x1="298.02" y1="111.6" x2="298.30" y2="110.0" stroke="#5179c1" stroke-width="0.6"/>
<line x1="299.46" y1="111.6" x2="300.10" y2="110.0" stroke="#5179c1" stroke-width="0.6"/>
<line x1="300.90" y1="111.6" x2="301.90" y2="110.0" stroke="#5179c1" stroke-width="0.6"/>
<path d="M295.29999999999995,112 L298.5,112 L297.79999999999995,122 L296.0,122Z" fill="#5179c1"/>
<ellipse cx="296.9" cy="125.6" rx="3.1" ry="3.7" fill="#5179c1"/>
<ellipse cx="296.9" cy="125.6" rx="1.7" ry="2.1" fill="#4670b8"/>
<rect x="295.9" y="128" width="2.0" height="4" fill="#5179c1"/>
<rect x="294.09999999999997" y="131.5" width="5.6" height="20" rx="1.2" fill="#5c83c8"/>
<rect x="294.0" y="151" width="5.8" height="26.7" rx="1.0" fill="#6d9ad6"/>
<rect x="294.0" y="151" width="5.8" height="25.6" rx="0.6" fill="#3a5ca7"/>
<path d="M295.59999999999997,152.5 q1,-1.6 2.2,-0.3" fill="none" stroke="#e8eefa" stroke-width="0.7"/>
<path d="M220.20,108.2 L222.40,111 L224.60,108.2" fill="none" stroke="#b04a5a" stroke-width="0.6"/>
<path d="M243.20,108.2 L245.40,111 L247.60,108.2" fill="none" stroke="#b04a5a" stroke-width="0.6"/>
<path d="M255.70,108.2 L257.90,111 L260.10,108.2" fill="none" stroke="#b04a5a" stroke-width="0.6"/>
<path d="M275.70,108.2 L277.90,111 L280.10,108.2" fill="none" stroke="#b04a5a" stroke-width="0.6"/>
<path d="M294.70,108.2 L296.90,111 L299.10,108.2" fill="none" stroke="#b04a5a" stroke-width="0.6"/>
<path d="M231.00,108.2 L233.20,111 L235.40,108.2" fill="none" stroke="#b04a5a" stroke-width="0.6"/>
<path d="M265.40,108.2 L267.60,111 L269.80,108.2" fill="none" stroke="#b04a5a" stroke-width="0.6"/>
<path d="M285.70,108.2 L287.90,111 L290.10,108.2" fill="none" stroke="#b04a5a" stroke-width="0.6"/>
<path d="M229.2,111 L233.2,114 L237.2,111 M230.7,110.5 L232.2,113 M235.7,110.5 L234.2,113" fill="none" stroke="#b8325e" stroke-width="0.9"/>
<path d="M231.79999999999998,113.5 L234.6,113.5 L234.2,125 L232.2,125Z" fill="#c24879"/>
<ellipse cx="233.2" cy="128.9" rx="3.3" ry="4.0" fill="#c24879"/>
<ellipse cx="233.2" cy="128.9" rx="1.8" ry="2.2" fill="#b03a6a"/>
<path d="M232.0,132.5 L234.39999999999998,132.5 L236.2,136 L236.2,152.6 L230.2,152.6 L230.2,136Z" fill="#c25384"/>
<path d="M230.6,154 L235.79999999999998,154 L233.79999999999998,166 L233.6,173 L232.79999999999998,173 L232.39999999999998,166Z" fill="#dfa3a0"/>
<path d="M230.5,153.2 L235.89999999999998,153.2 L235.39999999999998,158.5 L231.0,158.5Z" fill="#c25282"/>
<line x1="231.20" y1="159.50" x2="235.20" y2="160.10" stroke="#c98a60" stroke-width="0.7"/>
<line x1="231.55" y1="161.40" x2="234.85" y2="162.00" stroke="#c98a60" stroke-width="0.7"/>
<line x1="231.90" y1="163.30" x2="234.50" y2="163.90" stroke="#c98a60" stroke-width="0.7"/>
<line x1="232.25" y1="165.20" x2="234.15" y2="165.80" stroke="#c98a60" stroke-width="0.7"/>
<line x1="233.39999999999998" y1="160" x2="233.39999999999998" y2="172" stroke="#c6508a" stroke-width="0.8"/>
<path d="M263.6,111 L267.6,114 L271.6,111 M265.1,110.5 L266.6,113 M270.1,110.5 L268.6,113" fill="none" stroke="#b8325e" stroke-width="0.9"/>
<path d="M266.20000000000005,113.5 L269.0,113.5 L268.6,125 L266.6,125Z" fill="#c24879"/>
<ellipse cx="267.6" cy="128.9" rx="3.3" ry="4.0" fill="#c24879"/>
<ellipse cx="267.6" cy="128.9" rx="1.8" ry="2.2" fill="#b03a6a"/>
<path d="M266.40000000000003,132.5 L268.8,132.5 L270.6,136 L270.6,152.6 L264.6,152.6 L264.6,136Z" fill="#c25384"/>
<path d="M265.0,154 L270.20000000000005,154 L268.20000000000005,166 L268.0,173 L267.20000000000005,173 L266.8,166Z" fill="#dfa3a0"/>
<path d="M264.90000000000003,153.2 L270.3,153.2 L269.8,158.5 L265.40000000000003,158.5Z" fill="#c25282"/>
<line x1="265.60" y1="159.50" x2="269.60" y2="160.10" stroke="#c98a60" stroke-width="0.7"/>
<line x1="265.95" y1="161.40" x2="269.25" y2="162.00" stroke="#c98a60" stroke-width="0.7"/>
<line x1="266.30" y1="163.30" x2="268.90" y2="163.90" stroke="#c98a60" stroke-width="0.7"/>
<line x1="266.65" y1="165.20" x2="268.55" y2="165.80" stroke="#c98a60" stroke-width="0.7"/>
<line x1="267.8" y1="160" x2="267.8" y2="172" stroke="#c6508a" stroke-width="0.8"/>
<path d="M283.9,111 L287.9,114 L291.9,111 M285.4,110.5 L286.9,113 M290.4,110.5 L288.9,113" fill="none" stroke="#b8325e" stroke-width="0.9"/>
<path d="M286.5,113.5 L289.29999999999995,113.5 L288.9,125 L286.9,125Z" fill="#c24879"/>
<ellipse cx="287.9" cy="128.9" rx="3.3" ry="4.0" fill="#c24879"/>
<ellipse cx="287.9" cy="128.9" rx="1.8" ry="2.2" fill="#b03a6a"/>
<path d="M286.7,132.5 L289.09999999999997,132.5 L290.9,136 L290.9,152.6 L284.9,152.6 L284.9,136Z" fill="#c25384"/>
<path d="M285.29999999999995,154 L290.5,154 L288.5,166 L288.29999999999995,173 L287.5,173 L287.09999999999997,166Z" fill="#dfa3a0"/>
<path d="M285.2,153.2 L290.59999999999997,153.2 L290.09999999999997,158.5 L285.7,158.5Z" fill="#c25282"/>
<line x1="285.90" y1="159.50" x2="289.90" y2="160.10" stroke="#c98a60" stroke-width="0.7"/>
<line x1="286.25" y1="161.40" x2="289.55" y2="162.00" stroke="#c98a60" stroke-width="0.7"/>
<line x1="286.60" y1="163.30" x2="289.20" y2="163.90" stroke="#c98a60" stroke-width="0.7"/>
<line x1="286.95" y1="165.20" x2="288.85" y2="165.80" stroke="#c98a60" stroke-width="0.7"/>
<line x1="288.09999999999997" y1="160" x2="288.09999999999997" y2="172" stroke="#c6508a" stroke-width="0.8"/>
<text x="253.00" y="9.60" font-size="11.6" text-anchor="start" fill="#1a1a1a">Light</text>
<path d="M252.4,13 L254.4,13 L254.4,22.5 L257.0,22.5 L253.4,29.8 L249.8,22.5 L252.4,22.5Z" fill="#e6ca6e"/>
<path d="M263.5,13 L265.5,13 L265.5,22.5 L268.1,22.5 L264.5,29.8 L260.9,22.5 L263.5,22.5Z" fill="#e6ca6e"/>
<path d="M274.3,13 L276.3,13 L276.3,22.5 L278.90000000000003,22.5 L275.3,29.8 L271.7,22.5 L274.3,22.5Z" fill="#e6ca6e"/>
<text x="215.70" y="42.90" font-size="10.1" text-anchor="start" fill="#111">To optic nerve</text>
<line x1="279.5" y1="38.9" x2="296" y2="38.9" stroke="#111" stroke-width="1"/>
<path d="M299.5,38.9 L295,36.8 L295,41Z" fill="#111"/>
<text x="150.60" y="60.20" font-size="9.65" text-anchor="start" fill="#1a1a1a">Ganglion cell</text>
<line x1="206.8" y1="56.5" x2="221" y2="56.5" stroke="#9a9a9a" stroke-width="0.7"/>
<text x="148.40" y="81.00" font-size="9.65" text-anchor="start" fill="#1a1a1a">Amacrine cell</text>
<line x1="205" y1="78.0" x2="257" y2="78.0" stroke="#dcb2b8" stroke-width="1.0"/>
<text x="153.40" y="92.00" font-size="9.65" text-anchor="start" fill="#1a1a1a">Bipolar cell</text>
<line x1="201.5" y1="89.5" x2="221" y2="89.5" stroke="#555" stroke-width="0.7"/>
<text x="146.90" y="104.70" font-size="9.65" text-anchor="start" fill="#1a1a1a">Horizontal cell</text>
<line x1="207" y1="102.5" x2="214.4" y2="102.5" stroke="#777" stroke-width="0.7"/><line x1="214.4" y1="102.5" x2="238" y2="102.5" stroke="#b86e70" stroke-width="0.8"/>
<text x="186.00" y="138.30" font-size="9.65" text-anchor="start" fill="#1a1a1a">Rod</text>
<line x1="206.8" y1="134.5" x2="222" y2="134.5" stroke="#555" stroke-width="0.7"/>
<text x="183.00" y="149.80" font-size="9.65" text-anchor="start" fill="#1a1a1a">Cone</text>
<line x1="206" y1="146.5" x2="233" y2="146.5" stroke="#555" stroke-width="0.7"/>
<text x="112.00" y="134.50" font-size="9.65" text-anchor="start" fill="#1a1a1a">Visual cortex</text>
<line x1="95.3" y1="130.5" x2="110.7" y2="130.5" stroke="#555" stroke-width="0.7"/>
<text x="28.70" y="30.20" font-size="11.75" text-anchor="start" fill="#1a1a1a">Structure of retina</text>
<rect x="214.4" y="31.7" width="88.80" height="190.10" fill="none" stroke="#b8b8b8" stroke-width="0.8"/>
<path d="M383.04,17.23Q382.31,18.93 381.55,20.42" stroke="#cf8cc5" stroke-width="1.25" fill="none" stroke-linecap="round"/>
<path d="M381.55,20.42Q382.14,22.17 382.41,23.22" stroke="#cf8cc5" stroke-width="0.85" fill="none" stroke-linecap="round"/>
<path d="M382.41,23.22Q382.76,24.13 384.09,24.29" stroke="#cf8cc5" stroke-width="0.60" fill="none" stroke-linecap="round"/>
<path d="M382.41,23.22Q382.70,24.61 381.84,24.89" stroke="#cf8cc5" stroke-width="0.60" fill="none" stroke-linecap="round"/>
<path d="M381.55,20.42Q379.77,20.51 378.82,21.77" stroke="#cf8cc5" stroke-width="0.85" fill="none" stroke-linecap="round"/>
<path d="M378.82,21.77Q377.97,22.21 377.87,23.27" stroke="#cf8cc5" stroke-width="0.60" fill="none" stroke-linecap="round"/>
<path d="M378.82,21.77Q377.68,22.25 376.69,21.92" stroke="#cf8cc5" stroke-width="0.60" fill="none" stroke-linecap="round"/>
<path d="M382.17,16.37Q380.47,17.36 378.76,17.97" stroke="#cf8cc5" stroke-width="1.25" fill="none" stroke-linecap="round"/>
<path d="M378.76,17.97Q378.73,19.73 377.50,20.30" stroke="#cf8cc5" stroke-width="0.85" fill="none" stroke-linecap="round"/>
<path d="M377.50,20.30Q377.21,21.15 377.36,22.64" stroke="#cf8cc5" stroke-width="0.60" fill="none" stroke-linecap="round"/>
<path d="M377.50,20.30Q377.08,20.68 376.02,21.30" stroke="#cf8cc5" stroke-width="0.60" fill="none" stroke-linecap="round"/>
<path d="M378.76,17.97Q377.99,17.96 376.11,17.13" stroke="#cf8cc5" stroke-width="0.85" fill="none" stroke-linecap="round"/>
<path d="M376.11,17.13Q375.73,17.49 374.38,17.93" stroke="#cf8cc5" stroke-width="0.60" fill="none" stroke-linecap="round"/>
<path d="M376.11,17.13Q375.07,16.39 375.05,15.35" stroke="#cf8cc5" stroke-width="0.60" fill="none" stroke-linecap="round"/>
<path d="M382.30,14.60Q380.46,13.50 379.61,12.81" stroke="#cf8cc5" stroke-width="1.25" fill="none" stroke-linecap="round"/>
<path d="M379.61,12.81Q377.56,12.29 376.42,12.37" stroke="#cf8cc5" stroke-width="0.85" fill="none" stroke-linecap="round"/>
<path d="M376.42,12.37Q376.03,12.46 374.92,13.33" stroke="#cf8cc5" stroke-width="0.60" fill="none" stroke-linecap="round"/>
<path d="M376.42,12.37Q375.25,11.96 374.83,10.99" stroke="#cf8cc5" stroke-width="0.60" fill="none" stroke-linecap="round"/>
<path d="M379.61,12.81Q378.42,11.36 378.14,10.09" stroke="#cf8cc5" stroke-width="0.85" fill="none" stroke-linecap="round"/>
<path d="M378.14,10.09Q377.81,10.06 376.35,9.31" stroke="#cf8cc5" stroke-width="0.60" fill="none" stroke-linecap="round"/>
<path d="M378.14,10.09Q377.79,8.72 378.12,7.60" stroke="#cf8cc5" stroke-width="0.60" fill="none" stroke-linecap="round"/>
<path d="M383.72,13.80Q383.15,12.51 383.54,10.04" stroke="#cf8cc5" stroke-width="1.25" fill="none" stroke-linecap="round"/>
<path d="M383.54,10.04Q382.95,8.89 381.70,8.15" stroke="#cf8cc5" stroke-width="0.85" fill="none" stroke-linecap="round"/>
<path d="M381.70,8.15Q380.33,8.10 379.94,7.85" stroke="#cf8cc5" stroke-width="0.60" fill="none" stroke-linecap="round"/>
<path d="M381.70,8.15Q381.21,7.02 381.03,6.01" stroke="#cf8cc5" stroke-width="0.60" fill="none" stroke-linecap="round"/>
<path d="M383.54,10.04Q384.60,9.41 385.49,7.90" stroke="#cf8cc5" stroke-width="0.85" fill="none" stroke-linecap="round"/>
<path d="M385.49,7.90Q386.04,7.35 385.61,6.04" stroke="#cf8cc5" stroke-width="0.60" fill="none" stroke-linecap="round"/>
<path d="M385.49,7.90Q386.66,8.09 387.25,7.22" stroke="#cf8cc5" stroke-width="0.60" fill="none" stroke-linecap="round"/>
<path d="M384.70,14.04Q386.20,12.34 386.79,10.39" stroke="#cf8cc5" stroke-width="1.25" fill="none" stroke-linecap="round"/>
<path d="M386.79,10.39Q386.08,9.73 386.48,7.96" stroke="#cf8cc5" stroke-width="0.85" fill="none" stroke-linecap="round"/>
<path d="M386.48,7.96Q385.37,7.52 384.84,6.30" stroke="#cf8cc5" stroke-width="0.60" fill="none" stroke-linecap="round"/>
<path d="M386.48,7.96Q386.54,7.34 387.37,6.19" stroke="#cf8cc5" stroke-width="0.60" fill="none" stroke-linecap="round"/>
<path d="M386.79,10.39Q387.95,10.10 388.96,8.96" stroke="#cf8cc5" stroke-width="0.85" fill="none" stroke-linecap="round"/>
<path d="M388.96,8.96Q389.91,7.72 389.85,7.20" stroke="#cf8cc5" stroke-width="0.60" fill="none" stroke-linecap="round"/>
<path d="M388.96,8.96Q389.86,8.24 390.88,8.57" stroke="#cf8cc5" stroke-width="0.60" fill="none" stroke-linecap="round"/>
<path d="M383.80,15.60L408.70,30.50" stroke="#ca80c0" stroke-width="1.05" fill="none"/>
<path d="M408.70,30.50Q409.67,29.54 411.04,29.30" stroke="#cf8cc5" stroke-width="0.85" fill="none" stroke-linecap="round"/>
<path d="M411.04,29.30Q411.55,28.36 412.12,27.51" stroke="#cf8cc5" stroke-width="0.70" fill="none" stroke-linecap="round"/>
<path d="M412.12,27.51Q412.32,26.66 412.07,26.23" stroke="#cf8cc5" stroke-width="0.55" fill="none" stroke-linecap="round"/>
<path d="M412.12,27.51Q413.26,27.69 413.53,26.79" stroke="#cf8cc5" stroke-width="0.55" fill="none" stroke-linecap="round"/>
<path d="M411.04,29.30Q412.26,29.37 412.91,29.26" stroke="#cf8cc5" stroke-width="0.70" fill="none" stroke-linecap="round"/>
<path d="M412.91,29.26Q413.98,29.22 414.15,28.37" stroke="#cf8cc5" stroke-width="0.55" fill="none" stroke-linecap="round"/>
<path d="M412.91,29.26Q412.93,30.07 414.13,29.74" stroke="#cf8cc5" stroke-width="0.55" fill="none" stroke-linecap="round"/>
<path d="M408.70,30.50Q409.94,31.24 411.09,31.75" stroke="#cf8cc5" stroke-width="0.85" fill="none" stroke-linecap="round"/>
<path d="M411.09,31.75Q412.38,31.45 413.44,31.62" stroke="#cf8cc5" stroke-width="0.70" fill="none" stroke-linecap="round"/>
<path d="M413.44,31.62Q414.50,30.74 414.53,30.72" stroke="#cf8cc5" stroke-width="0.55" fill="none" stroke-linecap="round"/>
<path d="M413.44,31.62Q413.69,31.63 414.76,32.34" stroke="#cf8cc5" stroke-width="0.55" fill="none" stroke-linecap="round"/>
<path d="M411.09,31.75Q411.44,32.64 412.01,33.57" stroke="#cf8cc5" stroke-width="0.70" fill="none" stroke-linecap="round"/>
<path d="M412.01,33.57Q412.81,33.95 413.39,34.26" stroke="#cf8cc5" stroke-width="0.55" fill="none" stroke-linecap="round"/>
<path d="M412.01,33.57Q412.42,34.42 412.06,35.17" stroke="#cf8cc5" stroke-width="0.55" fill="none" stroke-linecap="round"/>
<path d="M408.70,30.50Q408.46,31.04 409.05,32.59" stroke="#cf8cc5" stroke-width="0.85" fill="none" stroke-linecap="round"/>
<path d="M409.05,32.59Q409.34,33.93 410.35,34.27" stroke="#cf8cc5" stroke-width="0.70" fill="none" stroke-linecap="round"/>
<path d="M410.35,34.27Q411.44,34.85 411.78,34.98" stroke="#cf8cc5" stroke-width="0.55" fill="none" stroke-linecap="round"/>
<path d="M410.35,34.27Q410.04,35.34 410.61,35.95" stroke="#cf8cc5" stroke-width="0.55" fill="none" stroke-linecap="round"/>
<path d="M409.05,32.59Q408.91,33.11 408.01,34.39" stroke="#cf8cc5" stroke-width="0.70" fill="none" stroke-linecap="round"/>
<path d="M408.01,34.39Q407.89,35.28 408.01,35.68" stroke="#cf8cc5" stroke-width="0.55" fill="none" stroke-linecap="round"/>
<path d="M408.01,34.39Q407.91,34.57 406.97,35.22" stroke="#cf8cc5" stroke-width="0.55" fill="none" stroke-linecap="round"/>
<circle cx="383.80" cy="15.60" r="3.00" fill="#c772b9"/>
<circle cx="383.80" cy="15.60" r="1.80" fill="#8e3a88" opacity="0.18"/>
<circle cx="383.80" cy="15.60" r="0.48" fill="#8e3a88"/>
<path d="M372.41,47.29Q373.04,48.28 374.54,50.44" stroke="#cf8cc5" stroke-width="1.25" fill="none" stroke-linecap="round"/>
<path d="M374.54,50.44Q376.17,51.08 377.06,51.25" stroke="#cf8cc5" stroke-width="0.85" fill="none" stroke-linecap="round"/>
<path d="M377.06,51.25Q378.34,50.60 379.22,50.79" stroke="#cf8cc5" stroke-width="0.60" fill="none" stroke-linecap="round"/>
<path d="M377.06,51.25Q378.17,51.42 378.30,52.65" stroke="#cf8cc5" stroke-width="0.60" fill="none" stroke-linecap="round"/>
<path d="M374.54,50.44Q374.59,51.44 374.20,52.84" stroke="#cf8cc5" stroke-width="0.85" fill="none" stroke-linecap="round"/>
<path d="M374.20,52.84Q374.16,53.41 375.27,55.05" stroke="#cf8cc5" stroke-width="0.60" fill="none" stroke-linecap="round"/>
<path d="M374.20,52.84Q372.90,54.14 372.57,54.27" stroke="#cf8cc5" stroke-width="0.60" fill="none" stroke-linecap="round"/>
<path d="M370.62,47.42Q369.88,48.34 369.32,50.14" stroke="#cf8cc5" stroke-width="1.25" fill="none" stroke-linecap="round"/>
<path d="M369.32,50.14Q369.28,51.86 370.04,53.11" stroke="#cf8cc5" stroke-width="0.85" fill="none" stroke-linecap="round"/>
<path d="M370.04,53.11Q371.19,53.53 371.58,54.18" stroke="#cf8cc5" stroke-width="0.60" fill="none" stroke-linecap="round"/>
<path d="M370.04,53.11Q369.70,54.04 369.40,55.26" stroke="#cf8cc5" stroke-width="0.60" fill="none" stroke-linecap="round"/>
<path d="M369.32,50.14Q368.63,51.70 366.83,52.12" stroke="#cf8cc5" stroke-width="0.85" fill="none" stroke-linecap="round"/>
<path d="M366.83,52.12Q366.27,53.28 366.04,53.99" stroke="#cf8cc5" stroke-width="0.60" fill="none" stroke-linecap="round"/>
<path d="M366.83,52.12Q365.60,52.00 365.00,52.21" stroke="#cf8cc5" stroke-width="0.60" fill="none" stroke-linecap="round"/>
<path d="M369.77,46.57Q367.96,46.86 366.15,48.29" stroke="#cf8cc5" stroke-width="1.25" fill="none" stroke-linecap="round"/>
<path d="M366.15,48.29Q365.35,49.11 364.50,50.59" stroke="#cf8cc5" stroke-width="0.85" fill="none" stroke-linecap="round"/>
<path d="M364.50,50.59Q364.78,51.14 364.42,52.65" stroke="#cf8cc5" stroke-width="0.60" fill="none" stroke-linecap="round"/>
<path d="M364.50,50.59Q363.86,50.38 362.75,51.27" stroke="#cf8cc5" stroke-width="0.60" fill="none" stroke-linecap="round"/>
<path d="M366.15,48.29Q364.96,47.62 363.43,48.03" stroke="#cf8cc5" stroke-width="0.85" fill="none" stroke-linecap="round"/>
<path d="M363.43,48.03Q362.32,48.44 361.74,48.90" stroke="#cf8cc5" stroke-width="0.60" fill="none" stroke-linecap="round"/>
<path d="M363.43,48.03Q363.25,46.84 361.97,46.46" stroke="#cf8cc5" stroke-width="0.60" fill="none" stroke-linecap="round"/>
<path d="M369.98,44.70Q368.28,43.96 367.32,42.63" stroke="#cf8cc5" stroke-width="1.25" fill="none" stroke-linecap="round"/>
<path d="M367.32,42.63Q365.89,42.73 365.02,42.19" stroke="#cf8cc5" stroke-width="0.85" fill="none" stroke-linecap="round"/>
<path d="M365.02,42.19Q363.55,42.03 363.26,42.99" stroke="#cf8cc5" stroke-width="0.60" fill="none" stroke-linecap="round"/>
<path d="M365.02,42.19Q364.71,41.27 363.21,40.35" stroke="#cf8cc5" stroke-width="0.60" fill="none" stroke-linecap="round"/>
<path d="M367.32,42.63Q367.06,41.81 366.11,40.20" stroke="#cf8cc5" stroke-width="0.85" fill="none" stroke-linecap="round"/>
<path d="M366.11,40.20Q365.35,39.63 364.52,39.11" stroke="#cf8cc5" stroke-width="0.60" fill="none" stroke-linecap="round"/>
<path d="M366.11,40.20Q366.79,39.71 366.39,38.27" stroke="#cf8cc5" stroke-width="0.60" fill="none" stroke-linecap="round"/>
<path d="M370.71,44.14Q370.53,42.36 369.46,41.12" stroke="#cf8cc5" stroke-width="1.25" fill="none" stroke-linecap="round"/>
<path d="M369.46,41.12Q368.59,40.40 367.25,39.19" stroke="#cf8cc5" stroke-width="0.85" fill="none" stroke-linecap="round"/>
<path d="M367.25,39.19Q365.97,39.36 365.28,39.08" stroke="#cf8cc5" stroke-width="0.60" fill="none" stroke-linecap="round"/>
<path d="M367.25,39.19Q367.51,38.20 366.84,37.40" stroke="#cf8cc5" stroke-width="0.60" fill="none" stroke-linecap="round"/>
<path d="M369.46,41.12Q370.22,39.78 369.84,38.31" stroke="#cf8cc5" stroke-width="0.85" fill="none" stroke-linecap="round"/>
<path d="M369.84,38.31Q369.92,37.45 368.90,35.96" stroke="#cf8cc5" stroke-width="0.60" fill="none" stroke-linecap="round"/>
<path d="M369.84,38.31Q371.00,37.77 371.21,36.54" stroke="#cf8cc5" stroke-width="0.60" fill="none" stroke-linecap="round"/>
<path d="M372.58,44.44Q373.51,43.46 374.77,41.91" stroke="#cf8cc5" stroke-width="1.25" fill="none" stroke-linecap="round"/>
<path d="M374.77,41.91Q375.16,41.22 375.04,39.57" stroke="#cf8cc5" stroke-width="0.85" fill="none" stroke-linecap="round"/>
<path d="M375.04,39.57Q375.12,38.43 374.22,37.21" stroke="#cf8cc5" stroke-width="0.60" fill="none" stroke-linecap="round"/>
<path d="M375.04,39.57Q375.28,38.66 376.48,38.11" stroke="#cf8cc5" stroke-width="0.60" fill="none" stroke-linecap="round"/>
<path d="M374.77,41.91Q376.63,41.44 378.03,40.88" stroke="#cf8cc5" stroke-width="0.85" fill="none" stroke-linecap="round"/>
<path d="M378.03,40.88Q378.70,40.45 379.29,39.54" stroke="#cf8cc5" stroke-width="0.60" fill="none" stroke-linecap="round"/>
<path d="M378.03,40.88Q378.87,40.87 379.93,41.29" stroke="#cf8cc5" stroke-width="0.60" fill="none" stroke-linecap="round"/>
<path d="M371.40,45.80L400.70,45.80" stroke="#ca80c0" stroke-width="1.05" fill="none"/>
<path d="M400.70,45.80Q401.56,44.72 402.38,43.62" stroke="#cf8cc5" stroke-width="0.85" fill="none" stroke-linecap="round"/>
<path d="M402.38,43.62Q402.21,41.95 402.55,41.12" stroke="#cf8cc5" stroke-width="0.70" fill="none" stroke-linecap="round"/>
<path d="M402.55,41.12Q402.03,40.28 401.92,40.00" stroke="#cf8cc5" stroke-width="0.55" fill="none" stroke-linecap="round"/>
<path d="M402.55,41.12Q402.59,40.60 403.09,39.91" stroke="#cf8cc5" stroke-width="0.55" fill="none" stroke-linecap="round"/>
<path d="M402.38,43.62Q402.79,43.28 403.92,42.83" stroke="#cf8cc5" stroke-width="0.70" fill="none" stroke-linecap="round"/>
<path d="M403.92,42.83Q404.70,42.07 404.75,41.52" stroke="#cf8cc5" stroke-width="0.55" fill="none" stroke-linecap="round"/>
<path d="M403.92,42.83Q405.00,42.61 405.46,42.64" stroke="#cf8cc5" stroke-width="0.55" fill="none" stroke-linecap="round"/>
<path d="M400.70,45.80Q402.33,46.24 402.97,45.87" stroke="#cf8cc5" stroke-width="0.85" fill="none" stroke-linecap="round"/>
<path d="M402.97,45.87Q403.78,45.43 405.23,44.88" stroke="#cf8cc5" stroke-width="0.70" fill="none" stroke-linecap="round"/>
<path d="M405.23,44.88Q405.64,43.86 406.32,43.71" stroke="#cf8cc5" stroke-width="0.55" fill="none" stroke-linecap="round"/>
<path d="M405.23,44.88Q406.07,44.36 406.42,45.03" stroke="#cf8cc5" stroke-width="0.55" fill="none" stroke-linecap="round"/>
<path d="M402.97,45.87Q403.39,46.40 404.72,46.98" stroke="#cf8cc5" stroke-width="0.70" fill="none" stroke-linecap="round"/>
<path d="M404.72,46.98Q405.87,47.47 406.07,47.08" stroke="#cf8cc5" stroke-width="0.55" fill="none" stroke-linecap="round"/>
<path d="M404.72,46.98Q404.38,47.43 405.18,48.18" stroke="#cf8cc5" stroke-width="0.55" fill="none" stroke-linecap="round"/>
<path d="M400.70,45.80Q401.27,46.38 402.42,47.85" stroke="#cf8cc5" stroke-width="0.85" fill="none" stroke-linecap="round"/>
<path d="M402.42,47.85Q403.68,48.04 404.37,48.33" stroke="#cf8cc5" stroke-width="0.70" fill="none" stroke-linecap="round"/>
<path d="M404.37,48.33Q404.55,47.74 405.82,47.85" stroke="#cf8cc5" stroke-width="0.55" fill="none" stroke-linecap="round"/>
<path d="M404.37,48.33Q404.43,48.38 405.45,49.47" stroke="#cf8cc5" stroke-width="0.55" fill="none" stroke-linecap="round"/>
<path d="M402.42,47.85Q402.00,48.87 402.74,50.04" stroke="#cf8cc5" stroke-width="0.70" fill="none" stroke-linecap="round"/>
<path d="M402.74,50.04Q402.74,50.23 403.53,50.94" stroke="#cf8cc5" stroke-width="0.55" fill="none" stroke-linecap="round"/>
<path d="M402.74,50.04Q402.69,51.07 402.34,51.18" stroke="#cf8cc5" stroke-width="0.55" fill="none" stroke-linecap="round"/>
<circle cx="371.40" cy="45.80" r="3.00" fill="#c772b9"/>
<circle cx="371.40" cy="45.80" r="1.80" fill="#8e3a88" opacity="0.18"/>
<circle cx="371.40" cy="45.80" r="0.48" fill="#8e3a88"/>
<path d="M385.19,77.51Q386.66,78.73 387.29,80.70" stroke="#cf8cc5" stroke-width="1.25" fill="none" stroke-linecap="round"/>
<path d="M387.29,80.70Q388.16,81.32 389.70,81.38" stroke="#cf8cc5" stroke-width="0.85" fill="none" stroke-linecap="round"/>
<path d="M389.70,81.38Q390.35,80.69 391.70,80.49" stroke="#cf8cc5" stroke-width="0.60" fill="none" stroke-linecap="round"/>
<path d="M389.70,81.38Q390.68,81.68 391.39,83.15" stroke="#cf8cc5" stroke-width="0.60" fill="none" stroke-linecap="round"/>
<path d="M387.29,80.70Q387.78,82.33 387.39,83.21" stroke="#cf8cc5" stroke-width="0.85" fill="none" stroke-linecap="round"/>
<path d="M387.39,83.21Q388.26,84.82 388.54,85.36" stroke="#cf8cc5" stroke-width="0.60" fill="none" stroke-linecap="round"/>
<path d="M387.39,83.21Q387.24,83.98 386.25,84.79" stroke="#cf8cc5" stroke-width="0.60" fill="none" stroke-linecap="round"/>
<path d="M383.58,77.69Q382.87,79.24 382.32,81.12" stroke="#cf8cc5" stroke-width="1.25" fill="none" stroke-linecap="round"/>
<path d="M382.32,81.12Q382.25,82.80 383.10,83.70" stroke="#cf8cc5" stroke-width="0.85" fill="none" stroke-linecap="round"/>
<path d="M383.10,83.70Q384.20,84.72 384.85,85.60" stroke="#cf8cc5" stroke-width="0.60" fill="none" stroke-linecap="round"/>
<path d="M383.10,83.70Q382.99,84.50 382.46,85.43" stroke="#cf8cc5" stroke-width="0.60" fill="none" stroke-linecap="round"/>
<path d="M382.32,81.12Q381.38,81.67 380.38,82.81" stroke="#cf8cc5" stroke-width="0.85" fill="none" stroke-linecap="round"/>
<path d="M380.38,82.81Q379.94,83.44 379.75,84.97" stroke="#cf8cc5" stroke-width="0.60" fill="none" stroke-linecap="round"/>
<path d="M380.38,82.81Q379.11,82.59 378.47,83.11" stroke="#cf8cc5" stroke-width="0.60" fill="none" stroke-linecap="round"/>
<path d="M382.63,76.89Q381.53,78.16 380.06,78.34" stroke="#cf8cc5" stroke-width="1.25" fill="none" stroke-linecap="round"/>
<path d="M380.06,78.34Q379.97,79.26 378.84,81.27" stroke="#cf8cc5" stroke-width="0.85" fill="none" stroke-linecap="round"/>
<path d="M378.84,81.27Q379.59,82.60 379.54,83.59" stroke="#cf8cc5" stroke-width="0.60" fill="none" stroke-linecap="round"/>
<path d="M378.84,81.27Q378.51,82.44 377.30,82.68" stroke="#cf8cc5" stroke-width="0.60" fill="none" stroke-linecap="round"/>
<path d="M380.06,78.34Q379.23,77.92 377.55,77.80" stroke="#cf8cc5" stroke-width="0.85" fill="none" stroke-linecap="round"/>
<path d="M377.55,77.80Q377.23,78.17 375.77,78.29" stroke="#cf8cc5" stroke-width="0.60" fill="none" stroke-linecap="round"/>
<path d="M377.55,77.80Q377.06,77.18 376.29,76.36" stroke="#cf8cc5" stroke-width="0.60" fill="none" stroke-linecap="round"/>
<path d="M382.62,75.15Q381.41,74.16 379.65,73.55" stroke="#cf8cc5" stroke-width="1.25" fill="none" stroke-linecap="round"/>
<path d="M379.65,73.55Q378.64,73.33 377.18,74.05" stroke="#cf8cc5" stroke-width="0.85" fill="none" stroke-linecap="round"/>
<path d="M377.18,74.05Q376.77,74.79 376.01,75.40" stroke="#cf8cc5" stroke-width="0.60" fill="none" stroke-linecap="round"/>
<path d="M377.18,74.05Q376.29,73.54 375.54,73.41" stroke="#cf8cc5" stroke-width="0.60" fill="none" stroke-linecap="round"/>
<path d="M379.65,73.55Q379.59,72.13 378.33,71.63" stroke="#cf8cc5" stroke-width="0.85" fill="none" stroke-linecap="round"/>
<path d="M378.33,71.63Q377.52,70.79 376.48,70.98" stroke="#cf8cc5" stroke-width="0.60" fill="none" stroke-linecap="round"/>
<path d="M378.33,71.63Q378.67,70.01 378.22,69.58" stroke="#cf8cc5" stroke-width="0.60" fill="none" stroke-linecap="round"/>
<path d="M383.66,74.28Q383.68,72.61 382.58,70.89" stroke="#cf8cc5" stroke-width="1.25" fill="none" stroke-linecap="round"/>
<path d="M382.58,70.89Q381.08,69.41 380.07,69.05" stroke="#cf8cc5" stroke-width="0.85" fill="none" stroke-linecap="round"/>
<path d="M380.07,69.05Q379.11,68.66 377.57,68.85" stroke="#cf8cc5" stroke-width="0.60" fill="none" stroke-linecap="round"/>
<path d="M380.07,69.05Q379.41,67.98 379.32,66.70" stroke="#cf8cc5" stroke-width="0.60" fill="none" stroke-linecap="round"/>
<path d="M382.58,70.89Q382.66,69.27 383.26,68.36" stroke="#cf8cc5" stroke-width="0.85" fill="none" stroke-linecap="round"/>
<path d="M383.26,68.36Q382.83,67.04 382.65,66.71" stroke="#cf8cc5" stroke-width="0.60" fill="none" stroke-linecap="round"/>
<path d="M383.26,68.36Q383.55,68.00 385.03,66.99" stroke="#cf8cc5" stroke-width="0.60" fill="none" stroke-linecap="round"/>
<path d="M384.20,76.00L407.40,60.00" stroke="#ca80c0" stroke-width="1.05" fill="none"/>
<path d="M407.40,60.00Q407.85,59.16 407.66,57.36" stroke="#cf8cc5" stroke-width="0.85" fill="none" stroke-linecap="round"/>
<path d="M407.66,57.36Q407.58,56.86 406.53,55.47" stroke="#cf8cc5" stroke-width="0.70" fill="none" stroke-linecap="round"/>
<path d="M406.53,55.47Q405.90,55.73 405.49,54.81" stroke="#cf8cc5" stroke-width="0.55" fill="none" stroke-linecap="round"/>
<path d="M406.53,55.47Q406.95,54.76 406.29,54.17" stroke="#cf8cc5" stroke-width="0.55" fill="none" stroke-linecap="round"/>
<path d="M407.66,57.36Q408.65,56.33 408.66,55.70" stroke="#cf8cc5" stroke-width="0.70" fill="none" stroke-linecap="round"/>
<path d="M408.66,55.70Q409.04,54.94 408.69,54.20" stroke="#cf8cc5" stroke-width="0.55" fill="none" stroke-linecap="round"/>
<path d="M408.66,55.70Q408.67,54.75 409.80,54.77" stroke="#cf8cc5" stroke-width="0.55" fill="none" stroke-linecap="round"/>
<path d="M407.40,60.00Q408.19,59.41 409.49,58.36" stroke="#cf8cc5" stroke-width="0.85" fill="none" stroke-linecap="round"/>
<path d="M409.49,58.36Q409.13,57.74 409.90,56.63" stroke="#cf8cc5" stroke-width="0.70" fill="none" stroke-linecap="round"/>
<path d="M409.90,56.63Q409.51,55.42 409.74,55.38" stroke="#cf8cc5" stroke-width="0.55" fill="none" stroke-linecap="round"/>
<path d="M409.90,56.63Q409.93,56.34 410.83,55.70" stroke="#cf8cc5" stroke-width="0.55" fill="none" stroke-linecap="round"/>
<path d="M409.49,58.36Q410.10,58.44 411.53,58.19" stroke="#cf8cc5" stroke-width="0.70" fill="none" stroke-linecap="round"/>
<path d="M411.53,58.19Q411.72,58.34 412.71,57.46" stroke="#cf8cc5" stroke-width="0.55" fill="none" stroke-linecap="round"/>
<path d="M411.53,58.19Q412.78,58.69 412.84,58.99" stroke="#cf8cc5" stroke-width="0.55" fill="none" stroke-linecap="round"/>
<path d="M407.40,60.00Q408.52,60.35 409.39,60.65" stroke="#cf8cc5" stroke-width="0.85" fill="none" stroke-linecap="round"/>
<path d="M409.39,60.65Q411.00,59.87 411.81,60.01" stroke="#cf8cc5" stroke-width="0.70" fill="none" stroke-linecap="round"/>
<path d="M411.81,60.01Q412.46,59.46 412.74,59.35" stroke="#cf8cc5" stroke-width="0.55" fill="none" stroke-linecap="round"/>
<path d="M411.81,60.01Q412.64,60.59 413.40,60.54" stroke="#cf8cc5" stroke-width="0.55" fill="none" stroke-linecap="round"/>
<path d="M409.39,60.65Q409.78,61.32 411.09,62.09" stroke="#cf8cc5" stroke-width="0.70" fill="none" stroke-linecap="round"/>
<path d="M411.09,62.09Q411.97,61.69 412.26,62.27" stroke="#cf8cc5" stroke-width="0.55" fill="none" stroke-linecap="round"/>
<path d="M411.09,62.09Q411.54,62.39 411.61,63.16" stroke="#cf8cc5" stroke-width="0.55" fill="none" stroke-linecap="round"/>
<circle cx="384.20" cy="76.00" r="3.00" fill="#c772b9"/>
<circle cx="384.20" cy="76.00" r="1.80" fill="#8e3a88" opacity="0.18"/>
<circle cx="384.20" cy="76.00" r="0.48" fill="#8e3a88"/>
<path d="M417.67,47.61Q419.23,48.93 419.72,50.79" stroke="#cf8cc5" stroke-width="1.25" fill="none" stroke-linecap="round"/>
<path d="M419.72,50.79Q421.44,51.01 422.78,51.71" stroke="#cf8cc5" stroke-width="0.85" fill="none" stroke-linecap="round"/>
<path d="M422.78,51.71Q424.12,51.04 424.80,51.29" stroke="#cf8cc5" stroke-width="0.60" fill="none" stroke-linecap="round"/>
<path d="M422.78,51.71Q423.52,52.27 424.61,53.42" stroke="#cf8cc5" stroke-width="0.60" fill="none" stroke-linecap="round"/>
<path d="M419.72,50.79Q419.06,52.37 419.24,53.82" stroke="#cf8cc5" stroke-width="0.85" fill="none" stroke-linecap="round"/>
<path d="M419.24,53.82Q419.73,54.25 419.86,55.59" stroke="#cf8cc5" stroke-width="0.60" fill="none" stroke-linecap="round"/>
<path d="M419.24,53.82Q418.33,55.11 418.14,55.25" stroke="#cf8cc5" stroke-width="0.60" fill="none" stroke-linecap="round"/>
<path d="M416.38,47.87Q415.94,50.10 415.64,52.07" stroke="#cf8cc5" stroke-width="1.25" fill="none" stroke-linecap="round"/>
<path d="M415.64,52.07Q415.65,53.67 416.59,55.05" stroke="#cf8cc5" stroke-width="0.85" fill="none" stroke-linecap="round"/>
<path d="M416.59,55.05Q416.79,56.15 417.97,56.34" stroke="#cf8cc5" stroke-width="0.60" fill="none" stroke-linecap="round"/>
<path d="M416.59,55.05Q416.30,55.63 416.12,56.89" stroke="#cf8cc5" stroke-width="0.60" fill="none" stroke-linecap="round"/>
<path d="M415.64,52.07Q414.01,53.35 413.35,53.87" stroke="#cf8cc5" stroke-width="0.85" fill="none" stroke-linecap="round"/>
<path d="M413.35,53.87Q412.59,55.13 412.96,55.81" stroke="#cf8cc5" stroke-width="0.60" fill="none" stroke-linecap="round"/>
<path d="M413.35,53.87Q411.80,54.12 411.23,54.41" stroke="#cf8cc5" stroke-width="0.60" fill="none" stroke-linecap="round"/>
<path d="M415.01,46.73Q413.27,47.34 411.63,47.99" stroke="#cf8cc5" stroke-width="1.25" fill="none" stroke-linecap="round"/>
<path d="M411.63,47.99Q410.32,49.23 409.99,50.53" stroke="#cf8cc5" stroke-width="0.85" fill="none" stroke-linecap="round"/>
<path d="M409.99,50.53Q410.61,51.25 410.19,53.00" stroke="#cf8cc5" stroke-width="0.60" fill="none" stroke-linecap="round"/>
<path d="M409.99,50.53Q409.09,50.59 408.02,51.79" stroke="#cf8cc5" stroke-width="0.60" fill="none" stroke-linecap="round"/>
<path d="M411.63,47.99Q409.91,47.24 408.39,46.85" stroke="#cf8cc5" stroke-width="0.85" fill="none" stroke-linecap="round"/>
<path d="M408.39,46.85Q406.86,46.86 405.89,47.34" stroke="#cf8cc5" stroke-width="0.60" fill="none" stroke-linecap="round"/>
<path d="M408.39,46.85Q407.54,45.76 406.78,45.25" stroke="#cf8cc5" stroke-width="0.60" fill="none" stroke-linecap="round"/>
<path d="M415.04,45.41Q413.47,45.44 412.36,44.30" stroke="#cf8cc5" stroke-width="1.25" fill="none" stroke-linecap="round"/>
<path d="M412.36,44.30Q411.57,44.39 409.75,44.82" stroke="#cf8cc5" stroke-width="0.85" fill="none" stroke-linecap="round"/>
<path d="M409.75,44.82Q408.74,45.12 408.58,46.13" stroke="#cf8cc5" stroke-width="0.60" fill="none" stroke-linecap="round"/>
<path d="M409.75,44.82Q408.27,44.19 407.35,44.17" stroke="#cf8cc5" stroke-width="0.60" fill="none" stroke-linecap="round"/>
<path d="M412.36,44.30Q411.26,43.14 410.66,41.35" stroke="#cf8cc5" stroke-width="0.85" fill="none" stroke-linecap="round"/>
<path d="M410.66,41.35Q409.78,41.40 408.67,40.40" stroke="#cf8cc5" stroke-width="0.60" fill="none" stroke-linecap="round"/>
<path d="M410.66,41.35Q411.21,40.11 410.95,39.20" stroke="#cf8cc5" stroke-width="0.60" fill="none" stroke-linecap="round"/>
<path d="M416.20,44.37Q415.67,42.67 415.02,40.32" stroke="#cf8cc5" stroke-width="1.25" fill="none" stroke-linecap="round"/>
<path d="M415.02,40.32Q413.76,39.05 412.22,38.39" stroke="#cf8cc5" stroke-width="0.85" fill="none" stroke-linecap="round"/>
<path d="M412.22,38.39Q410.98,37.90 410.13,37.97" stroke="#cf8cc5" stroke-width="0.60" fill="none" stroke-linecap="round"/>
<path d="M412.22,38.39Q411.95,37.15 411.22,36.78" stroke="#cf8cc5" stroke-width="0.60" fill="none" stroke-linecap="round"/>
<path d="M415.02,40.32Q415.43,38.79 415.73,37.55" stroke="#cf8cc5" stroke-width="0.85" fill="none" stroke-linecap="round"/>
<path d="M415.73,37.55Q415.38,36.51 415.34,35.64" stroke="#cf8cc5" stroke-width="0.60" fill="none" stroke-linecap="round"/>
<path d="M415.73,37.55Q415.91,37.07 416.93,36.05" stroke="#cf8cc5" stroke-width="0.60" fill="none" stroke-linecap="round"/>
<path d="M417.56,44.52Q418.13,43.02 419.37,41.17" stroke="#cf8cc5" stroke-width="1.25" fill="none" stroke-linecap="round"/>
<path d="M419.37,41.17Q419.80,39.99 419.18,38.43" stroke="#cf8cc5" stroke-width="0.85" fill="none" stroke-linecap="round"/>
<path d="M419.18,38.43Q418.57,37.43 418.18,36.98" stroke="#cf8cc5" stroke-width="0.60" fill="none" stroke-linecap="round"/>
<path d="M419.18,38.43Q420.21,36.78 420.36,36.19" stroke="#cf8cc5" stroke-width="0.60" fill="none" stroke-linecap="round"/>
<path d="M419.37,41.17Q421.00,40.04 422.54,39.87" stroke="#cf8cc5" stroke-width="0.85" fill="none" stroke-linecap="round"/>
<path d="M422.54,39.87Q423.83,39.56 423.97,38.35" stroke="#cf8cc5" stroke-width="0.60" fill="none" stroke-linecap="round"/>
<path d="M422.54,39.87Q423.23,40.58 424.96,40.59" stroke="#cf8cc5" stroke-width="0.60" fill="none" stroke-linecap="round"/>
<path d="M416.70,46.10L443.80,46.10" stroke="#ca80c0" stroke-width="1.05" fill="none"/>
<path d="M443.80,46.10Q444.66,44.94 445.20,43.84" stroke="#cf8cc5" stroke-width="0.85" fill="none" stroke-linecap="round"/>
<path d="M445.20,43.84Q445.45,42.69 444.97,41.52" stroke="#cf8cc5" stroke-width="0.70" fill="none" stroke-linecap="round"/>
<path d="M444.97,41.52Q444.02,40.83 444.26,40.46" stroke="#cf8cc5" stroke-width="0.55" fill="none" stroke-linecap="round"/>
<path d="M444.97,41.52Q445.57,40.66 445.46,40.44" stroke="#cf8cc5" stroke-width="0.55" fill="none" stroke-linecap="round"/>
<path d="M445.20,43.84Q446.52,43.67 446.64,42.93" stroke="#cf8cc5" stroke-width="0.70" fill="none" stroke-linecap="round"/>
<path d="M446.64,42.93Q446.53,42.13 447.54,41.74" stroke="#cf8cc5" stroke-width="0.55" fill="none" stroke-linecap="round"/>
<path d="M446.64,42.93Q447.79,42.73 447.84,42.84" stroke="#cf8cc5" stroke-width="0.55" fill="none" stroke-linecap="round"/>
<path d="M443.80,46.10Q444.74,46.52 446.58,45.91" stroke="#cf8cc5" stroke-width="0.85" fill="none" stroke-linecap="round"/>
<path d="M446.58,45.91Q447.25,45.26 448.29,44.64" stroke="#cf8cc5" stroke-width="0.70" fill="none" stroke-linecap="round"/>
<path d="M448.29,44.64Q448.92,43.77 448.67,43.54" stroke="#cf8cc5" stroke-width="0.55" fill="none" stroke-linecap="round"/>
<path d="M448.29,44.64Q449.48,45.09 449.55,44.59" stroke="#cf8cc5" stroke-width="0.55" fill="none" stroke-linecap="round"/>
<path d="M446.58,45.91Q447.64,46.81 448.52,47.16" stroke="#cf8cc5" stroke-width="0.70" fill="none" stroke-linecap="round"/>
<path d="M448.52,47.16Q449.62,46.76 449.93,47.08" stroke="#cf8cc5" stroke-width="0.55" fill="none" stroke-linecap="round"/>
<path d="M448.52,47.16Q448.69,47.77 449.08,48.71" stroke="#cf8cc5" stroke-width="0.55" fill="none" stroke-linecap="round"/>
<path d="M443.80,46.10Q445.09,46.92 445.19,48.00" stroke="#cf8cc5" stroke-width="0.85" fill="none" stroke-linecap="round"/>
<path d="M445.19,48.00Q446.31,48.79 446.90,48.39" stroke="#cf8cc5" stroke-width="0.70" fill="none" stroke-linecap="round"/>
<path d="M446.90,48.39Q447.64,48.49 448.26,48.00" stroke="#cf8cc5" stroke-width="0.55" fill="none" stroke-linecap="round"/>
<path d="M446.90,48.39Q447.57,48.96 448.11,49.24" stroke="#cf8cc5" stroke-width="0.55" fill="none" stroke-linecap="round"/>
<path d="M445.19,48.00Q445.18,49.41 445.54,49.78" stroke="#cf8cc5" stroke-width="0.70" fill="none" stroke-linecap="round"/>
<path d="M445.54,49.78Q445.81,49.85 446.55,50.87" stroke="#cf8cc5" stroke-width="0.55" fill="none" stroke-linecap="round"/>
<path d="M445.54,49.78Q445.76,50.43 445.31,51.37" stroke="#cf8cc5" stroke-width="0.55" fill="none" stroke-linecap="round"/>
<circle cx="416.70" cy="46.10" r="3.00" fill="#c772b9"/>
<circle cx="416.70" cy="46.10" r="1.80" fill="#8e3a88" opacity="0.18"/>
<circle cx="416.70" cy="46.10" r="0.48" fill="#8e3a88"/>
<path d="M459.80,47.90Q459.86,48.76 458.76,50.79" stroke="#cf8cc5" stroke-width="1.25" fill="none" stroke-linecap="round"/>
<path d="M458.76,50.79Q459.41,52.94 459.20,53.89" stroke="#cf8cc5" stroke-width="0.85" fill="none" stroke-linecap="round"/>
<path d="M459.20,53.89Q460.17,54.34 460.64,55.31" stroke="#cf8cc5" stroke-width="0.60" fill="none" stroke-linecap="round"/>
<path d="M459.20,53.89Q459.32,55.25 458.58,55.71" stroke="#cf8cc5" stroke-width="0.60" fill="none" stroke-linecap="round"/>
<path d="M458.76,50.79Q458.14,51.43 456.49,52.04" stroke="#cf8cc5" stroke-width="0.85" fill="none" stroke-linecap="round"/>
<path d="M456.49,52.04Q455.96,52.51 455.63,53.98" stroke="#cf8cc5" stroke-width="0.60" fill="none" stroke-linecap="round"/>
<path d="M456.49,52.04Q455.56,52.47 454.46,51.88" stroke="#cf8cc5" stroke-width="0.60" fill="none" stroke-linecap="round"/>
<path d="M458.73,46.86Q457.57,48.08 455.54,48.12" stroke="#cf8cc5" stroke-width="1.25" fill="none" stroke-linecap="round"/>
<path d="M455.54,48.12Q454.03,49.13 453.68,51.01" stroke="#cf8cc5" stroke-width="0.85" fill="none" stroke-linecap="round"/>
<path d="M453.68,51.01Q454.04,52.53 453.94,53.53" stroke="#cf8cc5" stroke-width="0.60" fill="none" stroke-linecap="round"/>
<path d="M453.68,51.01Q453.21,51.06 451.81,52.08" stroke="#cf8cc5" stroke-width="0.60" fill="none" stroke-linecap="round"/>
<path d="M455.54,48.12Q454.31,48.40 453.16,47.87" stroke="#cf8cc5" stroke-width="0.85" fill="none" stroke-linecap="round"/>
<path d="M453.16,47.87Q452.22,47.92 451.28,48.74" stroke="#cf8cc5" stroke-width="0.60" fill="none" stroke-linecap="round"/>
<path d="M453.16,47.87Q452.15,46.89 451.78,46.37" stroke="#cf8cc5" stroke-width="0.60" fill="none" stroke-linecap="round"/>
<path d="M458.93,45.17Q458.06,44.02 456.22,43.27" stroke="#cf8cc5" stroke-width="1.25" fill="none" stroke-linecap="round"/>
<path d="M456.22,43.27Q455.50,43.66 453.80,43.34" stroke="#cf8cc5" stroke-width="0.85" fill="none" stroke-linecap="round"/>
<path d="M453.80,43.34Q453.04,43.71 452.29,44.37" stroke="#cf8cc5" stroke-width="0.60" fill="none" stroke-linecap="round"/>
<path d="M453.80,43.34Q453.08,42.32 451.79,41.81" stroke="#cf8cc5" stroke-width="0.60" fill="none" stroke-linecap="round"/>
<path d="M456.22,43.27Q455.94,41.38 454.59,40.32" stroke="#cf8cc5" stroke-width="0.85" fill="none" stroke-linecap="round"/>
<path d="M454.59,40.32Q454.22,39.25 452.71,39.27" stroke="#cf8cc5" stroke-width="0.60" fill="none" stroke-linecap="round"/>
<path d="M454.59,40.32Q454.54,39.05 454.33,37.87" stroke="#cf8cc5" stroke-width="0.60" fill="none" stroke-linecap="round"/>
<path d="M460.25,44.41Q460.32,42.27 459.93,40.72" stroke="#cf8cc5" stroke-width="1.25" fill="none" stroke-linecap="round"/>
<path d="M459.93,40.72Q458.85,40.13 458.16,39.19" stroke="#cf8cc5" stroke-width="0.85" fill="none" stroke-linecap="round"/>
<path d="M458.16,39.19Q457.30,39.32 456.15,38.95" stroke="#cf8cc5" stroke-width="0.60" fill="none" stroke-linecap="round"/>
<path d="M458.16,39.19Q458.29,38.58 457.64,37.26" stroke="#cf8cc5" stroke-width="0.60" fill="none" stroke-linecap="round"/>
<path d="M459.93,40.72Q460.40,39.61 462.04,38.09" stroke="#cf8cc5" stroke-width="0.85" fill="none" stroke-linecap="round"/>
<path d="M462.04,38.09Q462.13,36.63 462.17,36.03" stroke="#cf8cc5" stroke-width="0.60" fill="none" stroke-linecap="round"/>
<path d="M462.04,38.09Q463.01,38.05 464.39,37.02" stroke="#cf8cc5" stroke-width="0.60" fill="none" stroke-linecap="round"/>
<path d="M461.65,44.90Q462.57,43.84 463.93,42.52" stroke="#cf8cc5" stroke-width="1.25" fill="none" stroke-linecap="round"/>
<path d="M463.93,42.52Q463.70,40.80 464.52,39.86" stroke="#cf8cc5" stroke-width="0.85" fill="none" stroke-linecap="round"/>
<path d="M464.52,39.86Q463.81,39.11 464.03,37.55" stroke="#cf8cc5" stroke-width="0.60" fill="none" stroke-linecap="round"/>
<path d="M464.52,39.86Q465.72,38.71 465.98,38.46" stroke="#cf8cc5" stroke-width="0.60" fill="none" stroke-linecap="round"/>
<path d="M463.93,42.52Q465.51,42.14 466.52,41.64" stroke="#cf8cc5" stroke-width="0.85" fill="none" stroke-linecap="round"/>
<path d="M466.52,41.64Q467.18,41.00 468.09,39.68" stroke="#cf8cc5" stroke-width="0.60" fill="none" stroke-linecap="round"/>
<path d="M466.52,41.64Q467.31,41.88 468.92,41.76" stroke="#cf8cc5" stroke-width="0.60" fill="none" stroke-linecap="round"/>
<path d="M460.40,46.20L489.50,46.20" stroke="#ca80c0" stroke-width="1.05" fill="none"/>
<path d="M489.50,46.20Q489.62,46.00 490.88,44.60" stroke="#cf8cc5" stroke-width="0.85" fill="none" stroke-linecap="round"/>
<path d="M490.88,44.60Q491.11,43.53 490.97,42.83" stroke="#cf8cc5" stroke-width="0.70" fill="none" stroke-linecap="round"/>
<path d="M490.97,42.83Q491.33,42.01 490.59,41.62" stroke="#cf8cc5" stroke-width="0.55" fill="none" stroke-linecap="round"/>
<path d="M490.97,42.83Q491.65,42.64 491.88,41.43" stroke="#cf8cc5" stroke-width="0.55" fill="none" stroke-linecap="round"/>
<path d="M490.88,44.60Q492.17,44.51 492.55,44.20" stroke="#cf8cc5" stroke-width="0.70" fill="none" stroke-linecap="round"/>
<path d="M492.55,44.20Q493.40,43.86 493.42,43.31" stroke="#cf8cc5" stroke-width="0.55" fill="none" stroke-linecap="round"/>
<path d="M492.55,44.20Q493.82,44.60 493.99,44.85" stroke="#cf8cc5" stroke-width="0.55" fill="none" stroke-linecap="round"/>
<path d="M489.50,46.20Q490.50,46.80 492.08,46.30" stroke="#cf8cc5" stroke-width="0.85" fill="none" stroke-linecap="round"/>
<path d="M492.08,46.30Q493.60,45.85 494.03,45.03" stroke="#cf8cc5" stroke-width="0.70" fill="none" stroke-linecap="round"/>
<path d="M494.03,45.03Q494.52,43.90 494.61,43.53" stroke="#cf8cc5" stroke-width="0.55" fill="none" stroke-linecap="round"/>
<path d="M494.03,45.03Q494.17,45.37 495.43,44.68" stroke="#cf8cc5" stroke-width="0.55" fill="none" stroke-linecap="round"/>
<path d="M492.08,46.30Q492.84,47.08 493.83,47.48" stroke="#cf8cc5" stroke-width="0.70" fill="none" stroke-linecap="round"/>
<path d="M493.83,47.48Q494.31,47.74 495.10,47.80" stroke="#cf8cc5" stroke-width="0.55" fill="none" stroke-linecap="round"/>
<path d="M493.83,47.48Q494.27,48.02 494.61,48.73" stroke="#cf8cc5" stroke-width="0.55" fill="none" stroke-linecap="round"/>
<path d="M489.50,46.20Q489.70,47.84 490.88,48.28" stroke="#cf8cc5" stroke-width="0.85" fill="none" stroke-linecap="round"/>
<path d="M490.88,48.28Q491.71,49.18 492.77,49.04" stroke="#cf8cc5" stroke-width="0.70" fill="none" stroke-linecap="round"/>
<path d="M492.77,49.04Q493.36,48.59 494.20,49.11" stroke="#cf8cc5" stroke-width="0.55" fill="none" stroke-linecap="round"/>
<path d="M492.77,49.04Q493.15,49.39 493.42,50.09" stroke="#cf8cc5" stroke-width="0.55" fill="none" stroke-linecap="round"/>
<path d="M490.88,48.28Q490.61,48.71 491.07,50.24" stroke="#cf8cc5" stroke-width="0.70" fill="none" stroke-linecap="round"/>
<path d="M491.07,50.24Q491.69,50.55 491.95,51.57" stroke="#cf8cc5" stroke-width="0.55" fill="none" stroke-linecap="round"/>
<path d="M491.07,50.24Q490.70,51.16 490.55,51.29" stroke="#cf8cc5" stroke-width="0.55" fill="none" stroke-linecap="round"/>
<circle cx="460.40" cy="46.20" r="3.00" fill="#c772b9"/>
<circle cx="460.40" cy="46.20" r="1.80" fill="#8e3a88" opacity="0.18"/>
<circle cx="460.40" cy="46.20" r="0.48" fill="#8e3a88"/>
<path d="M493.44,28.70Q494.46,29.92 495.61,31.37" stroke="#cf8cc5" stroke-width="1.25" fill="none" stroke-linecap="round"/>
<path d="M495.61,31.37Q497.02,31.20 498.11,32.21" stroke="#cf8cc5" stroke-width="0.85" fill="none" stroke-linecap="round"/>
<path d="M498.11,32.21Q498.64,32.20 500.03,31.60" stroke="#cf8cc5" stroke-width="0.60" fill="none" stroke-linecap="round"/>
<path d="M498.11,32.21Q499.48,32.79 499.76,33.96" stroke="#cf8cc5" stroke-width="0.60" fill="none" stroke-linecap="round"/>
<path d="M495.61,31.37Q495.68,32.43 495.35,34.63" stroke="#cf8cc5" stroke-width="0.85" fill="none" stroke-linecap="round"/>
<path d="M495.35,34.63Q495.65,35.30 496.43,36.63" stroke="#cf8cc5" stroke-width="0.60" fill="none" stroke-linecap="round"/>
<path d="M495.35,34.63Q495.17,35.27 494.30,36.28" stroke="#cf8cc5" stroke-width="0.60" fill="none" stroke-linecap="round"/>
<path d="M491.97,29.07Q492.16,30.67 491.27,32.77" stroke="#cf8cc5" stroke-width="1.25" fill="none" stroke-linecap="round"/>
<path d="M491.27,32.77Q492.65,34.55 493.22,35.64" stroke="#cf8cc5" stroke-width="0.85" fill="none" stroke-linecap="round"/>
<path d="M493.22,35.64Q493.69,35.80 494.98,36.43" stroke="#cf8cc5" stroke-width="0.60" fill="none" stroke-linecap="round"/>
<path d="M493.22,35.64Q493.51,36.80 493.32,37.42" stroke="#cf8cc5" stroke-width="0.60" fill="none" stroke-linecap="round"/>
<path d="M491.27,32.77Q490.28,34.61 489.32,35.45" stroke="#cf8cc5" stroke-width="0.85" fill="none" stroke-linecap="round"/>
<path d="M489.32,35.45Q489.18,36.79 489.16,37.86" stroke="#cf8cc5" stroke-width="0.60" fill="none" stroke-linecap="round"/>
<path d="M489.32,35.45Q488.08,35.45 487.69,36.10" stroke="#cf8cc5" stroke-width="0.60" fill="none" stroke-linecap="round"/>
<path d="M490.72,28.16Q489.28,29.15 487.75,29.76" stroke="#cf8cc5" stroke-width="1.25" fill="none" stroke-linecap="round"/>
<path d="M487.75,29.76Q487.21,31.54 486.64,32.23" stroke="#cf8cc5" stroke-width="0.85" fill="none" stroke-linecap="round"/>
<path d="M486.64,32.23Q487.07,33.05 486.73,34.53" stroke="#cf8cc5" stroke-width="0.60" fill="none" stroke-linecap="round"/>
<path d="M486.64,32.23Q485.52,32.25 485.31,33.45" stroke="#cf8cc5" stroke-width="0.60" fill="none" stroke-linecap="round"/>
<path d="M487.75,29.76Q485.60,29.70 484.39,29.19" stroke="#cf8cc5" stroke-width="0.85" fill="none" stroke-linecap="round"/>
<path d="M484.39,29.19Q482.81,29.63 482.06,29.73" stroke="#cf8cc5" stroke-width="0.60" fill="none" stroke-linecap="round"/>
<path d="M484.39,29.19Q483.05,28.66 482.88,28.07" stroke="#cf8cc5" stroke-width="0.60" fill="none" stroke-linecap="round"/>
<path d="M490.88,26.20Q489.27,25.15 488.50,24.36" stroke="#cf8cc5" stroke-width="1.25" fill="none" stroke-linecap="round"/>
<path d="M488.50,24.36Q487.35,24.50 485.65,24.73" stroke="#cf8cc5" stroke-width="0.85" fill="none" stroke-linecap="round"/>
<path d="M485.65,24.73Q484.71,25.59 484.50,26.05" stroke="#cf8cc5" stroke-width="0.60" fill="none" stroke-linecap="round"/>
<path d="M485.65,24.73Q484.27,23.79 483.85,23.54" stroke="#cf8cc5" stroke-width="0.60" fill="none" stroke-linecap="round"/>
<path d="M488.50,24.36Q487.65,23.12 487.72,22.03" stroke="#cf8cc5" stroke-width="0.85" fill="none" stroke-linecap="round"/>
<path d="M487.72,22.03Q487.52,21.78 486.39,20.63" stroke="#cf8cc5" stroke-width="0.60" fill="none" stroke-linecap="round"/>
<path d="M487.72,22.03Q487.55,21.29 488.13,20.15" stroke="#cf8cc5" stroke-width="0.60" fill="none" stroke-linecap="round"/>
<path d="M492.19,25.50Q491.71,23.38 491.94,21.43" stroke="#cf8cc5" stroke-width="1.25" fill="none" stroke-linecap="round"/>
<path d="M491.94,21.43Q490.68,20.10 489.91,19.67" stroke="#cf8cc5" stroke-width="0.85" fill="none" stroke-linecap="round"/>
<path d="M489.91,19.67Q488.39,19.66 487.33,19.65" stroke="#cf8cc5" stroke-width="0.60" fill="none" stroke-linecap="round"/>
<path d="M489.91,19.67Q489.72,18.64 489.32,17.62" stroke="#cf8cc5" stroke-width="0.60" fill="none" stroke-linecap="round"/>
<path d="M491.94,21.43Q492.74,20.60 493.22,19.37" stroke="#cf8cc5" stroke-width="0.85" fill="none" stroke-linecap="round"/>
<path d="M493.22,19.37Q493.25,18.74 493.37,17.38" stroke="#cf8cc5" stroke-width="0.60" fill="none" stroke-linecap="round"/>
<path d="M493.22,19.37Q493.84,18.65 494.87,18.72" stroke="#cf8cc5" stroke-width="0.60" fill="none" stroke-linecap="round"/>
<path d="M492.30,27.30L516.30,11.20" stroke="#ca80c0" stroke-width="1.05" fill="none"/>
<path d="M516.30,11.20Q516.94,9.25 516.63,8.31" stroke="#cf8cc5" stroke-width="0.85" fill="none" stroke-linecap="round"/>
<path d="M516.63,8.31Q516.27,6.93 515.84,6.44" stroke="#cf8cc5" stroke-width="0.70" fill="none" stroke-linecap="round"/>
<path d="M515.84,6.44Q514.92,6.02 514.66,5.70" stroke="#cf8cc5" stroke-width="0.55" fill="none" stroke-linecap="round"/>
<path d="M515.84,6.44Q516.05,5.75 515.75,5.26" stroke="#cf8cc5" stroke-width="0.55" fill="none" stroke-linecap="round"/>
<path d="M516.63,8.31Q517.17,6.88 518.05,6.51" stroke="#cf8cc5" stroke-width="0.70" fill="none" stroke-linecap="round"/>
<path d="M518.05,6.51Q518.44,5.95 518.46,5.09" stroke="#cf8cc5" stroke-width="0.55" fill="none" stroke-linecap="round"/>
<path d="M518.05,6.51Q519.02,6.20 519.36,6.20" stroke="#cf8cc5" stroke-width="0.55" fill="none" stroke-linecap="round"/>
<path d="M516.30,11.20Q517.18,9.99 518.50,9.77" stroke="#cf8cc5" stroke-width="0.85" fill="none" stroke-linecap="round"/>
<path d="M518.50,9.77Q519.09,8.67 519.46,7.71" stroke="#cf8cc5" stroke-width="0.70" fill="none" stroke-linecap="round"/>
<path d="M519.46,7.71Q519.07,6.87 519.45,6.46" stroke="#cf8cc5" stroke-width="0.55" fill="none" stroke-linecap="round"/>
<path d="M519.46,7.71Q519.54,6.91 520.54,7.08" stroke="#cf8cc5" stroke-width="0.55" fill="none" stroke-linecap="round"/>
<path d="M518.50,9.77Q519.52,9.97 520.37,9.40" stroke="#cf8cc5" stroke-width="0.70" fill="none" stroke-linecap="round"/>
<path d="M520.37,9.40Q520.61,8.71 521.36,8.48" stroke="#cf8cc5" stroke-width="0.55" fill="none" stroke-linecap="round"/>
<path d="M520.37,9.40Q520.75,9.22 521.71,9.97" stroke="#cf8cc5" stroke-width="0.55" fill="none" stroke-linecap="round"/>
<path d="M516.30,11.20Q517.92,11.43 518.75,12.28" stroke="#cf8cc5" stroke-width="0.85" fill="none" stroke-linecap="round"/>
<path d="M518.75,12.28Q520.07,12.67 521.17,11.99" stroke="#cf8cc5" stroke-width="0.70" fill="none" stroke-linecap="round"/>
<path d="M521.17,11.99Q521.27,11.33 522.43,10.86" stroke="#cf8cc5" stroke-width="0.55" fill="none" stroke-linecap="round"/>
<path d="M521.17,11.99Q522.18,12.73 522.74,12.32" stroke="#cf8cc5" stroke-width="0.55" fill="none" stroke-linecap="round"/>
<path d="M518.75,12.28Q519.38,13.95 519.92,14.45" stroke="#cf8cc5" stroke-width="0.70" fill="none" stroke-linecap="round"/>
<path d="M519.92,14.45Q521.01,14.72 520.97,15.28" stroke="#cf8cc5" stroke-width="0.55" fill="none" stroke-linecap="round"/>
<path d="M519.92,14.45Q519.94,14.67 520.05,15.63" stroke="#cf8cc5" stroke-width="0.55" fill="none" stroke-linecap="round"/>
<circle cx="492.30" cy="27.30" r="3.00" fill="#c772b9"/>
<circle cx="492.30" cy="27.30" r="1.80" fill="#8e3a88" opacity="0.18"/>
<circle cx="492.30" cy="27.30" r="0.48" fill="#8e3a88"/>
<path d="M506.69,47.66Q507.49,49.81 508.79,51.33" stroke="#cf8cc5" stroke-width="1.25" fill="none" stroke-linecap="round"/>
<path d="M508.79,51.33Q509.68,51.51 511.51,52.83" stroke="#cf8cc5" stroke-width="0.85" fill="none" stroke-linecap="round"/>
<path d="M511.51,52.83Q512.39,52.71 513.87,52.60" stroke="#cf8cc5" stroke-width="0.60" fill="none" stroke-linecap="round"/>
<path d="M511.51,52.83Q512.71,53.74 512.84,54.89" stroke="#cf8cc5" stroke-width="0.60" fill="none" stroke-linecap="round"/>
<path d="M508.79,51.33Q508.83,52.93 508.13,53.64" stroke="#cf8cc5" stroke-width="0.85" fill="none" stroke-linecap="round"/>
<path d="M508.13,53.64Q508.66,55.26 509.05,55.79" stroke="#cf8cc5" stroke-width="0.60" fill="none" stroke-linecap="round"/>
<path d="M508.13,53.64Q507.85,54.62 506.66,55.27" stroke="#cf8cc5" stroke-width="0.60" fill="none" stroke-linecap="round"/>
<path d="M505.57,47.89Q505.91,49.33 505.19,50.83" stroke="#cf8cc5" stroke-width="1.25" fill="none" stroke-linecap="round"/>
<path d="M505.19,50.83Q505.95,52.39 505.95,53.21" stroke="#cf8cc5" stroke-width="0.85" fill="none" stroke-linecap="round"/>
<path d="M505.95,53.21Q506.38,53.32 507.10,54.52" stroke="#cf8cc5" stroke-width="0.60" fill="none" stroke-linecap="round"/>
<path d="M505.95,53.21Q506.17,54.02 505.28,55.13" stroke="#cf8cc5" stroke-width="0.60" fill="none" stroke-linecap="round"/>
<path d="M505.19,50.83Q503.62,52.00 502.68,53.04" stroke="#cf8cc5" stroke-width="0.85" fill="none" stroke-linecap="round"/>
<path d="M502.68,53.04Q502.03,53.74 501.72,55.00" stroke="#cf8cc5" stroke-width="0.60" fill="none" stroke-linecap="round"/>
<path d="M502.68,53.04Q501.86,53.17 500.79,53.16" stroke="#cf8cc5" stroke-width="0.60" fill="none" stroke-linecap="round"/>
<path d="M504.16,46.84Q502.96,47.96 501.39,48.08" stroke="#cf8cc5" stroke-width="1.25" fill="none" stroke-linecap="round"/>
<path d="M501.39,48.08Q501.27,49.39 500.17,50.51" stroke="#cf8cc5" stroke-width="0.85" fill="none" stroke-linecap="round"/>
<path d="M500.17,50.51Q500.63,51.19 500.48,52.22" stroke="#cf8cc5" stroke-width="0.60" fill="none" stroke-linecap="round"/>
<path d="M500.17,50.51Q499.50,51.31 498.51,51.56" stroke="#cf8cc5" stroke-width="0.60" fill="none" stroke-linecap="round"/>
<path d="M501.39,48.08Q500.77,48.42 498.99,47.77" stroke="#cf8cc5" stroke-width="0.85" fill="none" stroke-linecap="round"/>
<path d="M498.99,47.77Q498.30,48.28 497.16,49.02" stroke="#cf8cc5" stroke-width="0.60" fill="none" stroke-linecap="round"/>
<path d="M498.99,47.77Q498.18,46.75 497.15,45.99" stroke="#cf8cc5" stroke-width="0.60" fill="none" stroke-linecap="round"/>
<path d="M504.08,45.57Q502.12,44.64 501.01,44.64" stroke="#cf8cc5" stroke-width="1.25" fill="none" stroke-linecap="round"/>
<path d="M501.01,44.64Q499.54,45.69 497.99,46.01" stroke="#cf8cc5" stroke-width="0.85" fill="none" stroke-linecap="round"/>
<path d="M497.99,46.01Q496.63,47.42 496.36,47.81" stroke="#cf8cc5" stroke-width="0.60" fill="none" stroke-linecap="round"/>
<path d="M497.99,46.01Q497.20,46.22 495.60,46.05" stroke="#cf8cc5" stroke-width="0.60" fill="none" stroke-linecap="round"/>
<path d="M501.01,44.64Q499.74,43.87 499.47,42.77" stroke="#cf8cc5" stroke-width="0.85" fill="none" stroke-linecap="round"/>
<path d="M499.47,42.77Q498.12,42.11 497.34,42.27" stroke="#cf8cc5" stroke-width="0.60" fill="none" stroke-linecap="round"/>
<path d="M499.47,42.77Q499.22,41.49 498.99,40.46" stroke="#cf8cc5" stroke-width="0.60" fill="none" stroke-linecap="round"/>
<path d="M505.39,44.35Q504.99,42.51 504.55,40.80" stroke="#cf8cc5" stroke-width="1.25" fill="none" stroke-linecap="round"/>
<path d="M504.55,40.80Q503.22,39.34 502.53,38.31" stroke="#cf8cc5" stroke-width="0.85" fill="none" stroke-linecap="round"/>
<path d="M502.53,38.31Q500.96,38.39 500.53,37.87" stroke="#cf8cc5" stroke-width="0.60" fill="none" stroke-linecap="round"/>
<path d="M502.53,38.31Q502.90,37.07 502.32,36.23" stroke="#cf8cc5" stroke-width="0.60" fill="none" stroke-linecap="round"/>
<path d="M504.55,40.80Q505.31,39.38 505.94,37.68" stroke="#cf8cc5" stroke-width="0.85" fill="none" stroke-linecap="round"/>
<path d="M505.94,37.68Q506.00,36.17 505.45,35.13" stroke="#cf8cc5" stroke-width="0.60" fill="none" stroke-linecap="round"/>
<path d="M505.94,37.68Q506.85,37.03 507.72,36.33" stroke="#cf8cc5" stroke-width="0.60" fill="none" stroke-linecap="round"/>
<path d="M506.69,44.54Q507.85,43.26 508.52,41.35" stroke="#cf8cc5" stroke-width="1.25" fill="none" stroke-linecap="round"/>
<path d="M508.52,41.35Q508.35,39.98 508.18,38.52" stroke="#cf8cc5" stroke-width="0.85" fill="none" stroke-linecap="round"/>
<path d="M508.18,38.52Q507.34,38.43 507.08,37.17" stroke="#cf8cc5" stroke-width="0.60" fill="none" stroke-linecap="round"/>
<path d="M508.18,38.52Q509.04,37.27 509.30,36.71" stroke="#cf8cc5" stroke-width="0.60" fill="none" stroke-linecap="round"/>
<path d="M508.52,41.35Q510.03,40.06 511.07,39.90" stroke="#cf8cc5" stroke-width="0.85" fill="none" stroke-linecap="round"/>
<path d="M511.07,39.90Q511.79,39.38 512.25,37.68" stroke="#cf8cc5" stroke-width="0.60" fill="none" stroke-linecap="round"/>
<path d="M511.07,39.90Q512.73,39.21 513.57,39.65" stroke="#cf8cc5" stroke-width="0.60" fill="none" stroke-linecap="round"/>
<path d="M505.80,46.10L536.40,46.10" stroke="#ca80c0" stroke-width="1.05" fill="none"/>
<path d="M536.40,46.10Q536.88,45.59 538.13,43.89" stroke="#cf8cc5" stroke-width="0.85" fill="none" stroke-linecap="round"/>
<path d="M538.13,43.89Q537.64,43.08 538.13,41.66" stroke="#cf8cc5" stroke-width="0.70" fill="none" stroke-linecap="round"/>
<path d="M538.13,41.66Q537.96,41.35 537.24,40.40" stroke="#cf8cc5" stroke-width="0.55" fill="none" stroke-linecap="round"/>
<path d="M538.13,41.66Q539.09,40.47 538.88,40.21" stroke="#cf8cc5" stroke-width="0.55" fill="none" stroke-linecap="round"/>
<path d="M538.13,43.89Q539.58,43.40 540.45,43.04" stroke="#cf8cc5" stroke-width="0.70" fill="none" stroke-linecap="round"/>
<path d="M540.45,43.04Q540.46,42.68 541.47,41.70" stroke="#cf8cc5" stroke-width="0.55" fill="none" stroke-linecap="round"/>
<path d="M540.45,43.04Q540.83,42.97 541.64,43.36" stroke="#cf8cc5" stroke-width="0.55" fill="none" stroke-linecap="round"/>
<path d="M536.40,46.10Q538.04,46.62 538.74,46.12" stroke="#cf8cc5" stroke-width="0.85" fill="none" stroke-linecap="round"/>
<path d="M538.74,46.12Q539.22,44.95 540.73,44.74" stroke="#cf8cc5" stroke-width="0.70" fill="none" stroke-linecap="round"/>
<path d="M540.73,44.74Q541.51,44.64 541.53,43.36" stroke="#cf8cc5" stroke-width="0.55" fill="none" stroke-linecap="round"/>
<path d="M540.73,44.74Q541.66,45.26 542.02,44.76" stroke="#cf8cc5" stroke-width="0.55" fill="none" stroke-linecap="round"/>
<path d="M538.74,46.12Q539.28,46.11 540.65,46.95" stroke="#cf8cc5" stroke-width="0.70" fill="none" stroke-linecap="round"/>
<path d="M540.65,46.95Q541.98,46.44 542.17,46.82" stroke="#cf8cc5" stroke-width="0.55" fill="none" stroke-linecap="round"/>
<path d="M540.65,46.95Q541.49,47.67 541.70,48.30" stroke="#cf8cc5" stroke-width="0.55" fill="none" stroke-linecap="round"/>
<path d="M536.40,46.10Q536.92,47.29 538.02,48.13" stroke="#cf8cc5" stroke-width="0.85" fill="none" stroke-linecap="round"/>
<path d="M538.02,48.13Q539.29,48.41 539.86,48.92" stroke="#cf8cc5" stroke-width="0.70" fill="none" stroke-linecap="round"/>
<path d="M539.86,48.92Q540.36,48.45 541.46,48.75" stroke="#cf8cc5" stroke-width="0.55" fill="none" stroke-linecap="round"/>
<path d="M539.86,48.92Q540.73,49.17 540.69,50.02" stroke="#cf8cc5" stroke-width="0.55" fill="none" stroke-linecap="round"/>
<path d="M538.02,48.13Q538.10,48.76 538.31,49.83" stroke="#cf8cc5" stroke-width="0.70" fill="none" stroke-linecap="round"/>
<path d="M538.31,49.83Q538.25,51.03 539.30,51.05" stroke="#cf8cc5" stroke-width="0.55" fill="none" stroke-linecap="round"/>
<path d="M538.31,49.83Q538.04,50.66 537.68,51.30" stroke="#cf8cc5" stroke-width="0.55" fill="none" stroke-linecap="round"/>
<circle cx="505.80" cy="46.10" r="3.00" fill="#c772b9"/>
<circle cx="505.80" cy="46.10" r="1.80" fill="#8e3a88" opacity="0.18"/>
<circle cx="505.80" cy="46.10" r="0.48" fill="#8e3a88"/>
<path d="M492.75,65.08Q492.51,66.63 492.30,68.18" stroke="#cf8cc5" stroke-width="1.25" fill="none" stroke-linecap="round"/>
<path d="M492.30,68.18Q492.69,69.16 493.64,70.72" stroke="#cf8cc5" stroke-width="0.85" fill="none" stroke-linecap="round"/>
<path d="M493.64,70.72Q494.68,71.63 495.30,71.85" stroke="#cf8cc5" stroke-width="0.60" fill="none" stroke-linecap="round"/>
<path d="M493.64,70.72Q493.07,71.65 493.13,73.21" stroke="#cf8cc5" stroke-width="0.60" fill="none" stroke-linecap="round"/>
<path d="M492.30,68.18Q490.82,69.39 490.05,70.18" stroke="#cf8cc5" stroke-width="0.85" fill="none" stroke-linecap="round"/>
<path d="M490.05,70.18Q489.21,71.05 489.05,72.41" stroke="#cf8cc5" stroke-width="0.60" fill="none" stroke-linecap="round"/>
<path d="M490.05,70.18Q488.51,70.88 487.63,71.04" stroke="#cf8cc5" stroke-width="0.60" fill="none" stroke-linecap="round"/>
<path d="M491.36,64.05Q489.72,65.21 488.00,65.59" stroke="#cf8cc5" stroke-width="1.25" fill="none" stroke-linecap="round"/>
<path d="M488.00,65.59Q486.83,66.70 486.58,67.87" stroke="#cf8cc5" stroke-width="0.85" fill="none" stroke-linecap="round"/>
<path d="M486.58,67.87Q486.66,68.94 486.30,69.70" stroke="#cf8cc5" stroke-width="0.60" fill="none" stroke-linecap="round"/>
<path d="M486.58,67.87Q486.01,68.32 484.99,68.91" stroke="#cf8cc5" stroke-width="0.60" fill="none" stroke-linecap="round"/>
<path d="M488.00,65.59Q486.10,65.61 485.15,65.14" stroke="#cf8cc5" stroke-width="0.85" fill="none" stroke-linecap="round"/>
<path d="M485.15,65.14Q483.93,65.91 483.10,65.93" stroke="#cf8cc5" stroke-width="0.60" fill="none" stroke-linecap="round"/>
<path d="M485.15,65.14Q483.91,63.90 483.66,63.52" stroke="#cf8cc5" stroke-width="0.60" fill="none" stroke-linecap="round"/>
<path d="M491.27,62.81Q490.02,62.46 488.42,62.01" stroke="#cf8cc5" stroke-width="1.25" fill="none" stroke-linecap="round"/>
<path d="M488.42,62.01Q487.04,63.10 485.36,63.49" stroke="#cf8cc5" stroke-width="0.85" fill="none" stroke-linecap="round"/>
<path d="M485.36,63.49Q484.67,64.97 483.91,65.30" stroke="#cf8cc5" stroke-width="0.60" fill="none" stroke-linecap="round"/>
<path d="M485.36,63.49Q484.66,63.49 483.04,63.55" stroke="#cf8cc5" stroke-width="0.60" fill="none" stroke-linecap="round"/>
<path d="M488.42,62.01Q487.64,60.66 487.06,59.85" stroke="#cf8cc5" stroke-width="0.85" fill="none" stroke-linecap="round"/>
<path d="M487.06,59.85Q485.56,59.19 484.92,58.91" stroke="#cf8cc5" stroke-width="0.60" fill="none" stroke-linecap="round"/>
<path d="M487.06,59.85Q486.73,59.46 487.30,57.88" stroke="#cf8cc5" stroke-width="0.60" fill="none" stroke-linecap="round"/>
<path d="M492.64,61.54Q492.43,59.70 492.05,58.72" stroke="#cf8cc5" stroke-width="1.25" fill="none" stroke-linecap="round"/>
<path d="M492.05,58.72Q490.94,57.70 489.46,56.85" stroke="#cf8cc5" stroke-width="0.85" fill="none" stroke-linecap="round"/>
<path d="M489.46,56.85Q488.31,56.29 487.26,56.69" stroke="#cf8cc5" stroke-width="0.60" fill="none" stroke-linecap="round"/>
<path d="M489.46,56.85Q489.03,55.59 488.78,54.56" stroke="#cf8cc5" stroke-width="0.60" fill="none" stroke-linecap="round"/>
<path d="M492.05,58.72Q492.59,57.88 493.32,56.13" stroke="#cf8cc5" stroke-width="0.85" fill="none" stroke-linecap="round"/>
<path d="M493.32,56.13Q492.97,55.54 493.40,54.27" stroke="#cf8cc5" stroke-width="0.60" fill="none" stroke-linecap="round"/>
<path d="M493.32,56.13Q494.17,55.15 495.50,55.23" stroke="#cf8cc5" stroke-width="0.60" fill="none" stroke-linecap="round"/>
<path d="M494.34,62.09Q496.20,60.98 497.44,59.30" stroke="#cf8cc5" stroke-width="1.25" fill="none" stroke-linecap="round"/>
<path d="M497.44,59.30Q498.51,57.65 498.55,56.57" stroke="#cf8cc5" stroke-width="0.85" fill="none" stroke-linecap="round"/>
<path d="M498.55,56.57Q498.40,55.76 497.77,54.24" stroke="#cf8cc5" stroke-width="0.60" fill="none" stroke-linecap="round"/>
<path d="M498.55,56.57Q499.38,55.36 499.99,55.20" stroke="#cf8cc5" stroke-width="0.60" fill="none" stroke-linecap="round"/>
<path d="M497.44,59.30Q499.46,59.29 500.43,58.77" stroke="#cf8cc5" stroke-width="0.85" fill="none" stroke-linecap="round"/>
<path d="M500.43,58.77Q501.19,58.33 501.92,57.32" stroke="#cf8cc5" stroke-width="0.60" fill="none" stroke-linecap="round"/>
<path d="M500.43,58.77Q501.67,59.59 501.90,59.69" stroke="#cf8cc5" stroke-width="0.60" fill="none" stroke-linecap="round"/>
<path d="M493.00,63.30L518.70,76.10" stroke="#ca80c0" stroke-width="1.05" fill="none"/>
<path d="M518.70,76.10Q520.37,75.05 521.22,74.68" stroke="#cf8cc5" stroke-width="0.85" fill="none" stroke-linecap="round"/>
<path d="M521.22,74.68Q521.33,74.34 522.54,72.92" stroke="#cf8cc5" stroke-width="0.70" fill="none" stroke-linecap="round"/>
<path d="M522.54,72.92Q522.49,72.37 522.62,71.60" stroke="#cf8cc5" stroke-width="0.55" fill="none" stroke-linecap="round"/>
<path d="M522.54,72.92Q523.58,72.52 523.83,72.09" stroke="#cf8cc5" stroke-width="0.55" fill="none" stroke-linecap="round"/>
<path d="M521.22,74.68Q522.70,74.46 523.39,75.00" stroke="#cf8cc5" stroke-width="0.70" fill="none" stroke-linecap="round"/>
<path d="M523.39,75.00Q523.56,75.29 524.69,74.44" stroke="#cf8cc5" stroke-width="0.55" fill="none" stroke-linecap="round"/>
<path d="M523.39,75.00Q523.95,75.27 524.32,75.75" stroke="#cf8cc5" stroke-width="0.55" fill="none" stroke-linecap="round"/>
<path d="M518.70,76.10Q519.64,76.00 520.67,76.93" stroke="#cf8cc5" stroke-width="0.85" fill="none" stroke-linecap="round"/>
<path d="M520.67,76.93Q521.26,77.25 522.75,76.66" stroke="#cf8cc5" stroke-width="0.70" fill="none" stroke-linecap="round"/>
<path d="M522.75,76.66Q523.57,75.89 523.63,75.79" stroke="#cf8cc5" stroke-width="0.55" fill="none" stroke-linecap="round"/>
<path d="M522.75,76.66Q523.36,76.90 524.13,77.15" stroke="#cf8cc5" stroke-width="0.55" fill="none" stroke-linecap="round"/>
<path d="M520.67,76.93Q520.74,78.16 521.87,78.62" stroke="#cf8cc5" stroke-width="0.70" fill="none" stroke-linecap="round"/>
<path d="M521.87,78.62Q522.30,79.21 522.96,79.05" stroke="#cf8cc5" stroke-width="0.55" fill="none" stroke-linecap="round"/>
<path d="M521.87,78.62Q521.90,78.98 521.98,80.02" stroke="#cf8cc5" stroke-width="0.55" fill="none" stroke-linecap="round"/>
<path d="M518.70,76.10Q518.33,76.81 519.01,78.40" stroke="#cf8cc5" stroke-width="0.85" fill="none" stroke-linecap="round"/>
<path d="M519.01,78.40Q520.30,79.46 520.67,79.91" stroke="#cf8cc5" stroke-width="0.70" fill="none" stroke-linecap="round"/>
<path d="M520.67,79.91Q521.82,79.85 521.88,80.09" stroke="#cf8cc5" stroke-width="0.55" fill="none" stroke-linecap="round"/>
<path d="M520.67,79.91Q521.14,80.62 521.32,81.23" stroke="#cf8cc5" stroke-width="0.55" fill="none" stroke-linecap="round"/>
<path d="M519.01,78.40Q518.63,79.24 518.27,80.18" stroke="#cf8cc5" stroke-width="0.70" fill="none" stroke-linecap="round"/>
<path d="M518.27,80.18Q518.12,81.46 518.31,81.57" stroke="#cf8cc5" stroke-width="0.55" fill="none" stroke-linecap="round"/>
<path d="M518.27,80.18Q517.63,81.12 517.19,81.32" stroke="#cf8cc5" stroke-width="0.55" fill="none" stroke-linecap="round"/>
<circle cx="493.00" cy="63.30" r="3.00" fill="#c772b9"/>
<circle cx="493.00" cy="63.30" r="1.80" fill="#8e3a88" opacity="0.18"/>
<circle cx="493.00" cy="63.30" r="0.48" fill="#8e3a88"/>
<text x="372.00" y="7.40" font-size="9.1" text-anchor="start" fill="#111">A1</text>
<text x="366.00" y="34.00" font-size="9.1" text-anchor="start" fill="#111">A2</text>
<text x="378.20" y="65.70" font-size="9.1" text-anchor="start" fill="#111">A3</text>
<text x="420.60" y="36.60" font-size="9.1" text-anchor="start" fill="#111">B</text>
<text x="454.60" y="35.00" font-size="9.1" text-anchor="start" fill="#111">C</text>
<text x="490.50" y="18.50" font-size="9.1" text-anchor="start" fill="#111">D1</text>
<text x="511.20" y="38.50" font-size="9.1" text-anchor="start" fill="#111">D2</text>
<text x="475.50" y="75.00" font-size="9.1" text-anchor="start" fill="#111">D3</text>
<text x="407.30" y="9.60" font-size="10.35" text-anchor="start" fill="#111">Information flow</text>
<line x1="414.1" y1="15.6" x2="465.4" y2="15.6" stroke="#111" stroke-width="1.2"/><path d="M469.4,15.6 L464.9,13.3 L464.9,17.9Z" fill="#111"/>
<text x="390.80" y="98.70" font-size="10.3" text-anchor="start" fill="#111">Feedforward excitation</text>
<line x1="602.9" y1="6.9" x2="638.1" y2="6.9" stroke="#111" stroke-width="1.2"/><path d="M642.1,6.9 L637.6,4.6000000000000005 L637.6,9.2Z" fill="#111"/>
<path d="M578.65,25.71Q579.93,27.38 581.27,29.73" stroke="#cf8cc5" stroke-width="1.25" fill="none" stroke-linecap="round"/>
<path d="M581.27,29.73Q583.14,30.70 584.99,31.65" stroke="#cf8cc5" stroke-width="0.85" fill="none" stroke-linecap="round"/>
<path d="M584.99,31.65Q585.92,31.56 587.16,31.27" stroke="#cf8cc5" stroke-width="0.60" fill="none" stroke-linecap="round"/>
<path d="M584.99,31.65Q585.65,32.52 586.95,34.03" stroke="#cf8cc5" stroke-width="0.60" fill="none" stroke-linecap="round"/>
<path d="M581.27,29.73Q581.83,32.40 581.82,34.16" stroke="#cf8cc5" stroke-width="0.85" fill="none" stroke-linecap="round"/>
<path d="M581.82,34.16Q582.28,35.06 583.16,35.96" stroke="#cf8cc5" stroke-width="0.60" fill="none" stroke-linecap="round"/>
<path d="M581.82,34.16Q581.18,35.31 580.87,37.28" stroke="#cf8cc5" stroke-width="0.60" fill="none" stroke-linecap="round"/>
<path d="M576.55,25.91Q576.34,27.65 575.10,29.50" stroke="#cf8cc5" stroke-width="1.25" fill="none" stroke-linecap="round"/>
<path d="M575.10,29.50Q575.46,30.83 575.86,32.91" stroke="#cf8cc5" stroke-width="0.85" fill="none" stroke-linecap="round"/>
<path d="M575.86,32.91Q576.82,34.18 578.42,34.77" stroke="#cf8cc5" stroke-width="0.60" fill="none" stroke-linecap="round"/>
<path d="M575.86,32.91Q575.95,34.81 575.09,36.10" stroke="#cf8cc5" stroke-width="0.60" fill="none" stroke-linecap="round"/>
<path d="M575.10,29.50Q573.66,29.93 571.68,31.26" stroke="#cf8cc5" stroke-width="0.85" fill="none" stroke-linecap="round"/>
<path d="M571.68,31.26Q570.53,33.11 570.10,33.95" stroke="#cf8cc5" stroke-width="0.60" fill="none" stroke-linecap="round"/>
<path d="M571.68,31.26Q570.22,30.90 569.08,30.66" stroke="#cf8cc5" stroke-width="0.60" fill="none" stroke-linecap="round"/>
<path d="M575.41,24.90Q572.88,25.66 570.63,27.55" stroke="#cf8cc5" stroke-width="1.25" fill="none" stroke-linecap="round"/>
<path d="M570.63,27.55Q570.63,29.48 569.44,31.42" stroke="#cf8cc5" stroke-width="0.85" fill="none" stroke-linecap="round"/>
<path d="M569.44,31.42Q570.11,32.45 570.17,34.14" stroke="#cf8cc5" stroke-width="0.60" fill="none" stroke-linecap="round"/>
<path d="M569.44,31.42Q568.49,31.92 567.24,33.18" stroke="#cf8cc5" stroke-width="0.60" fill="none" stroke-linecap="round"/>
<path d="M570.63,27.55Q569.40,27.37 567.13,27.56" stroke="#cf8cc5" stroke-width="0.85" fill="none" stroke-linecap="round"/>
<path d="M567.13,27.56Q565.56,27.68 564.93,28.85" stroke="#cf8cc5" stroke-width="0.60" fill="none" stroke-linecap="round"/>
<path d="M567.13,27.56Q565.78,26.84 564.72,25.67" stroke="#cf8cc5" stroke-width="0.60" fill="none" stroke-linecap="round"/>
<path d="M575.44,22.63Q573.72,21.17 570.90,19.93" stroke="#cf8cc5" stroke-width="1.25" fill="none" stroke-linecap="round"/>
<path d="M570.90,19.93Q568.81,20.19 566.51,19.52" stroke="#cf8cc5" stroke-width="0.85" fill="none" stroke-linecap="round"/>
<path d="M566.51,19.52Q565.03,20.57 564.17,20.71" stroke="#cf8cc5" stroke-width="0.60" fill="none" stroke-linecap="round"/>
<path d="M566.51,19.52Q565.89,19.28 564.54,18.37" stroke="#cf8cc5" stroke-width="0.60" fill="none" stroke-linecap="round"/>
<path d="M570.90,19.93Q569.50,17.71 569.18,16.07" stroke="#cf8cc5" stroke-width="0.85" fill="none" stroke-linecap="round"/>
<path d="M569.18,16.07Q567.62,14.90 566.86,14.75" stroke="#cf8cc5" stroke-width="0.60" fill="none" stroke-linecap="round"/>
<path d="M569.18,16.07Q569.89,14.77 569.43,12.88" stroke="#cf8cc5" stroke-width="0.60" fill="none" stroke-linecap="round"/>
<path d="M576.87,21.58Q576.94,19.62 575.91,17.59" stroke="#cf8cc5" stroke-width="1.25" fill="none" stroke-linecap="round"/>
<path d="M575.91,17.59Q574.51,16.92 573.80,15.43" stroke="#cf8cc5" stroke-width="0.85" fill="none" stroke-linecap="round"/>
<path d="M573.80,15.43Q572.43,14.80 570.81,14.35" stroke="#cf8cc5" stroke-width="0.60" fill="none" stroke-linecap="round"/>
<path d="M573.80,15.43Q573.28,13.92 573.22,12.34" stroke="#cf8cc5" stroke-width="0.60" fill="none" stroke-linecap="round"/>
<path d="M575.91,17.59Q575.95,15.85 577.15,13.66" stroke="#cf8cc5" stroke-width="0.85" fill="none" stroke-linecap="round"/>
<path d="M577.15,13.66Q577.16,12.72 576.95,11.43" stroke="#cf8cc5" stroke-width="0.60" fill="none" stroke-linecap="round"/>
<path d="M577.15,13.66Q578.05,12.76 579.53,12.09" stroke="#cf8cc5" stroke-width="0.60" fill="none" stroke-linecap="round"/>
<path d="M577.40,23.80L613.10,23.80" stroke="#cf8cc5" stroke-width="1.25" fill="none"/>
<path d="M613.10,23.80Q614.12,22.08 614.90,21.14" stroke="#cf8cc5" stroke-width="0.85" fill="none" stroke-linecap="round"/>
<path d="M614.90,21.14Q614.66,19.23 614.62,18.00" stroke="#cf8cc5" stroke-width="0.70" fill="none" stroke-linecap="round"/>
<path d="M614.62,18.00Q613.45,16.63 613.17,16.00" stroke="#cf8cc5" stroke-width="0.55" fill="none" stroke-linecap="round"/>
<path d="M614.62,18.00Q614.36,17.64 615.07,16.11" stroke="#cf8cc5" stroke-width="0.55" fill="none" stroke-linecap="round"/>
<path d="M614.90,21.14Q616.13,20.72 618.25,19.33" stroke="#cf8cc5" stroke-width="0.70" fill="none" stroke-linecap="round"/>
<path d="M618.25,19.33Q619.09,18.08 619.55,17.37" stroke="#cf8cc5" stroke-width="0.55" fill="none" stroke-linecap="round"/>
<path d="M618.25,19.33Q618.97,18.63 620.58,19.10" stroke="#cf8cc5" stroke-width="0.55" fill="none" stroke-linecap="round"/>
<path d="M613.10,23.80Q614.79,23.93 617.06,24.02" stroke="#cf8cc5" stroke-width="0.85" fill="none" stroke-linecap="round"/>
<path d="M617.06,24.02Q617.98,23.42 619.80,23.02" stroke="#cf8cc5" stroke-width="0.70" fill="none" stroke-linecap="round"/>
<path d="M619.80,23.02Q619.83,22.49 620.97,21.33" stroke="#cf8cc5" stroke-width="0.55" fill="none" stroke-linecap="round"/>
<path d="M619.80,23.02Q620.65,22.99 621.80,23.55" stroke="#cf8cc5" stroke-width="0.55" fill="none" stroke-linecap="round"/>
<path d="M617.06,24.02Q618.58,24.90 619.71,26.57" stroke="#cf8cc5" stroke-width="0.70" fill="none" stroke-linecap="round"/>
<path d="M619.71,26.57Q620.52,26.98 622.09,26.94" stroke="#cf8cc5" stroke-width="0.55" fill="none" stroke-linecap="round"/>
<path d="M619.71,26.57Q619.64,27.89 620.29,28.23" stroke="#cf8cc5" stroke-width="0.55" fill="none" stroke-linecap="round"/>
<path d="M613.10,23.80Q614.72,25.21 615.72,26.87" stroke="#cf8cc5" stroke-width="0.85" fill="none" stroke-linecap="round"/>
<path d="M615.72,26.87Q617.73,27.46 619.19,28.00" stroke="#cf8cc5" stroke-width="0.70" fill="none" stroke-linecap="round"/>
<path d="M619.19,28.00Q620.15,28.03 621.29,27.65" stroke="#cf8cc5" stroke-width="0.55" fill="none" stroke-linecap="round"/>
<path d="M619.19,28.00Q619.88,28.49 621.07,29.63" stroke="#cf8cc5" stroke-width="0.55" fill="none" stroke-linecap="round"/>
<path d="M615.72,26.87Q615.59,28.22 615.69,29.44" stroke="#cf8cc5" stroke-width="0.70" fill="none" stroke-linecap="round"/>
<path d="M615.69,29.44Q616.50,30.52 616.88,31.59" stroke="#cf8cc5" stroke-width="0.55" fill="none" stroke-linecap="round"/>
<path d="M615.69,29.44Q615.11,30.50 614.86,31.90" stroke="#cf8cc5" stroke-width="0.55" fill="none" stroke-linecap="round"/>
<circle cx="577.40" cy="23.80" r="3.80" fill="#c772b9"/>
<circle cx="577.40" cy="23.80" r="2.28" fill="#8e3a88" opacity="0.18"/>
<circle cx="577.40" cy="23.80" r="0.61" fill="#8e3a88"/>
<path d="M637.63,26.08Q637.29,28.36 637.71,31.54" stroke="#cf8cc5" stroke-width="1.25" fill="none" stroke-linecap="round"/>
<path d="M637.71,31.54Q639.13,32.68 639.62,34.47" stroke="#cf8cc5" stroke-width="0.85" fill="none" stroke-linecap="round"/>
<path d="M639.62,34.47Q640.80,35.71 641.74,35.91" stroke="#cf8cc5" stroke-width="0.60" fill="none" stroke-linecap="round"/>
<path d="M639.62,34.47Q639.80,35.54 639.47,37.69" stroke="#cf8cc5" stroke-width="0.60" fill="none" stroke-linecap="round"/>
<path d="M637.71,31.54Q636.17,32.59 635.09,34.38" stroke="#cf8cc5" stroke-width="0.85" fill="none" stroke-linecap="round"/>
<path d="M635.09,34.38Q635.18,36.07 634.22,37.10" stroke="#cf8cc5" stroke-width="0.60" fill="none" stroke-linecap="round"/>
<path d="M635.09,34.38Q633.92,34.66 632.28,34.67" stroke="#cf8cc5" stroke-width="0.60" fill="none" stroke-linecap="round"/>
<path d="M635.68,25.03Q633.19,26.82 631.14,27.93" stroke="#cf8cc5" stroke-width="1.25" fill="none" stroke-linecap="round"/>
<path d="M631.14,27.93Q629.69,30.01 629.10,31.31" stroke="#cf8cc5" stroke-width="0.85" fill="none" stroke-linecap="round"/>
<path d="M629.10,31.31Q628.50,32.56 628.98,33.72" stroke="#cf8cc5" stroke-width="0.60" fill="none" stroke-linecap="round"/>
<path d="M629.10,31.31Q627.81,32.29 626.50,33.23" stroke="#cf8cc5" stroke-width="0.60" fill="none" stroke-linecap="round"/>
<path d="M631.14,27.93Q629.66,27.67 627.18,27.86" stroke="#cf8cc5" stroke-width="0.85" fill="none" stroke-linecap="round"/>
<path d="M627.18,27.86Q625.75,28.77 624.80,29.44" stroke="#cf8cc5" stroke-width="0.60" fill="none" stroke-linecap="round"/>
<path d="M627.18,27.86Q626.27,27.15 624.95,26.37" stroke="#cf8cc5" stroke-width="0.60" fill="none" stroke-linecap="round"/>
<path d="M635.39,23.25Q632.56,22.51 630.09,21.94" stroke="#cf8cc5" stroke-width="1.25" fill="none" stroke-linecap="round"/>
<path d="M630.09,21.94Q628.63,22.83 626.09,23.69" stroke="#cf8cc5" stroke-width="0.85" fill="none" stroke-linecap="round"/>
<path d="M626.09,23.69Q625.94,24.27 624.85,25.64" stroke="#cf8cc5" stroke-width="0.60" fill="none" stroke-linecap="round"/>
<path d="M626.09,23.69Q624.60,23.31 623.53,23.27" stroke="#cf8cc5" stroke-width="0.60" fill="none" stroke-linecap="round"/>
<path d="M630.09,21.94Q629.02,21.26 627.87,19.87" stroke="#cf8cc5" stroke-width="0.85" fill="none" stroke-linecap="round"/>
<path d="M627.87,19.87Q626.92,19.03 625.51,19.27" stroke="#cf8cc5" stroke-width="0.60" fill="none" stroke-linecap="round"/>
<path d="M627.87,19.87Q627.92,18.32 626.97,16.88" stroke="#cf8cc5" stroke-width="0.60" fill="none" stroke-linecap="round"/>
<path d="M637.48,21.52Q637.40,19.35 637.25,16.98" stroke="#cf8cc5" stroke-width="1.25" fill="none" stroke-linecap="round"/>
<path d="M637.25,16.98Q636.25,15.45 635.31,13.38" stroke="#cf8cc5" stroke-width="0.85" fill="none" stroke-linecap="round"/>
<path d="M635.31,13.38Q634.56,13.06 633.12,11.98" stroke="#cf8cc5" stroke-width="0.60" fill="none" stroke-linecap="round"/>
<path d="M635.31,13.38Q634.90,11.76 635.64,10.15" stroke="#cf8cc5" stroke-width="0.60" fill="none" stroke-linecap="round"/>
<path d="M637.25,16.98Q637.87,15.79 639.27,14.13" stroke="#cf8cc5" stroke-width="0.85" fill="none" stroke-linecap="round"/>
<path d="M639.27,14.13Q638.77,13.44 639.36,11.63" stroke="#cf8cc5" stroke-width="0.60" fill="none" stroke-linecap="round"/>
<path d="M639.27,14.13Q639.98,13.33 641.38,13.12" stroke="#cf8cc5" stroke-width="0.60" fill="none" stroke-linecap="round"/>
<path d="M637.60,23.80L676.00,23.80" stroke="#cf8cc5" stroke-width="1.25" fill="none"/>
<path d="M676.00,23.80Q677.53,22.17 678.23,21.05" stroke="#cf8cc5" stroke-width="0.85" fill="none" stroke-linecap="round"/>
<path d="M678.23,21.05Q678.32,20.14 678.63,18.09" stroke="#cf8cc5" stroke-width="0.70" fill="none" stroke-linecap="round"/>
<path d="M678.63,18.09Q677.78,16.97 677.60,16.22" stroke="#cf8cc5" stroke-width="0.55" fill="none" stroke-linecap="round"/>
<path d="M678.63,18.09Q679.49,17.29 680.09,16.69" stroke="#cf8cc5" stroke-width="0.55" fill="none" stroke-linecap="round"/>
<path d="M678.23,21.05Q679.34,20.57 681.25,20.26" stroke="#cf8cc5" stroke-width="0.70" fill="none" stroke-linecap="round"/>
<path d="M681.25,20.26Q682.18,19.03 682.96,18.54" stroke="#cf8cc5" stroke-width="0.55" fill="none" stroke-linecap="round"/>
<path d="M681.25,20.26Q682.21,20.21 683.16,20.85" stroke="#cf8cc5" stroke-width="0.55" fill="none" stroke-linecap="round"/>
<path d="M676.00,23.80Q678.12,24.07 680.20,23.73" stroke="#cf8cc5" stroke-width="0.85" fill="none" stroke-linecap="round"/>
<path d="M680.20,23.73Q681.84,22.85 683.14,22.21" stroke="#cf8cc5" stroke-width="0.70" fill="none" stroke-linecap="round"/>
<path d="M683.14,22.21Q683.38,21.77 684.58,20.28" stroke="#cf8cc5" stroke-width="0.55" fill="none" stroke-linecap="round"/>
<path d="M683.14,22.21Q683.65,22.00 685.00,22.16" stroke="#cf8cc5" stroke-width="0.55" fill="none" stroke-linecap="round"/>
<path d="M680.20,23.73Q681.52,24.47 683.05,24.85" stroke="#cf8cc5" stroke-width="0.70" fill="none" stroke-linecap="round"/>
<path d="M683.05,24.85Q684.50,24.47 685.58,24.52" stroke="#cf8cc5" stroke-width="0.55" fill="none" stroke-linecap="round"/>
<path d="M683.05,24.85Q684.23,26.13 684.30,26.84" stroke="#cf8cc5" stroke-width="0.55" fill="none" stroke-linecap="round"/>
<path d="M676.00,23.80Q676.64,25.76 677.82,26.59" stroke="#cf8cc5" stroke-width="0.85" fill="none" stroke-linecap="round"/>
<path d="M677.82,26.59Q680.11,26.65 681.41,27.58" stroke="#cf8cc5" stroke-width="0.70" fill="none" stroke-linecap="round"/>
<path d="M681.41,27.58Q683.15,27.59 683.79,26.72" stroke="#cf8cc5" stroke-width="0.55" fill="none" stroke-linecap="round"/>
<path d="M681.41,27.58Q681.98,27.89 683.00,29.38" stroke="#cf8cc5" stroke-width="0.55" fill="none" stroke-linecap="round"/>
<path d="M677.82,26.59Q678.32,28.44 677.75,30.26" stroke="#cf8cc5" stroke-width="0.70" fill="none" stroke-linecap="round"/>
<path d="M677.75,30.26Q678.26,30.69 678.90,31.76" stroke="#cf8cc5" stroke-width="0.55" fill="none" stroke-linecap="round"/>
<path d="M677.75,30.26Q677.43,30.71 677.11,32.06" stroke="#cf8cc5" stroke-width="0.55" fill="none" stroke-linecap="round"/>
<circle cx="637.60" cy="23.80" r="3.80" fill="#c772b9"/>
<circle cx="637.60" cy="23.80" r="2.28" fill="#8e3a88" opacity="0.18"/>
<circle cx="637.60" cy="23.80" r="0.61" fill="#8e3a88"/>
<path d="M665.8,23.8 Q668.5,34 666.5,41 Q664.8,47 667.2,51.5" stroke="#cf8cc5" stroke-width="0.9" fill="none"/>
<path d="M667.60,51.00Q670.34,52.82 672.37,53.58" stroke="#cf8cc5" stroke-width="0.85" fill="none" stroke-linecap="round"/>
<path d="M672.37,53.58Q674.24,53.61 677.25,53.73" stroke="#cf8cc5" stroke-width="0.70" fill="none" stroke-linecap="round"/>
<path d="M677.25,53.73Q679.17,52.81 680.13,52.83" stroke="#cf8cc5" stroke-width="0.55" fill="none" stroke-linecap="round"/>
<path d="M677.25,53.73Q678.42,54.45 679.48,54.99" stroke="#cf8cc5" stroke-width="0.55" fill="none" stroke-linecap="round"/>
<path d="M672.37,53.58Q673.30,55.49 674.76,56.41" stroke="#cf8cc5" stroke-width="0.70" fill="none" stroke-linecap="round"/>
<path d="M674.76,56.41Q676.21,56.53 676.95,57.53" stroke="#cf8cc5" stroke-width="0.55" fill="none" stroke-linecap="round"/>
<path d="M674.76,56.41Q674.36,58.05 675.15,58.80" stroke="#cf8cc5" stroke-width="0.55" fill="none" stroke-linecap="round"/>
<path d="M667.60,51.00Q668.31,53.63 667.85,55.37" stroke="#cf8cc5" stroke-width="0.85" fill="none" stroke-linecap="round"/>
<path d="M667.85,55.37Q669.47,57.50 670.98,59.21" stroke="#cf8cc5" stroke-width="0.70" fill="none" stroke-linecap="round"/>
<path d="M670.98,59.21Q672.82,60.24 674.20,60.15" stroke="#cf8cc5" stroke-width="0.55" fill="none" stroke-linecap="round"/>
<path d="M670.98,59.21Q670.88,60.12 671.11,61.83" stroke="#cf8cc5" stroke-width="0.55" fill="none" stroke-linecap="round"/>
<path d="M667.85,55.37Q667.00,57.11 666.62,58.60" stroke="#cf8cc5" stroke-width="0.70" fill="none" stroke-linecap="round"/>
<path d="M666.62,58.60Q666.89,59.82 667.55,61.50" stroke="#cf8cc5" stroke-width="0.55" fill="none" stroke-linecap="round"/>
<path d="M666.62,58.60Q665.23,59.37 664.28,60.19" stroke="#cf8cc5" stroke-width="0.55" fill="none" stroke-linecap="round"/>
<path d="M667.60,51.00Q666.32,51.27 663.91,52.69" stroke="#cf8cc5" stroke-width="0.85" fill="none" stroke-linecap="round"/>
<path d="M663.91,52.69Q661.83,54.89 660.91,56.39" stroke="#cf8cc5" stroke-width="0.70" fill="none" stroke-linecap="round"/>
<path d="M660.91,56.39Q660.12,57.30 660.51,59.30" stroke="#cf8cc5" stroke-width="0.55" fill="none" stroke-linecap="round"/>
<path d="M660.91,56.39Q659.08,57.52 657.97,58.03" stroke="#cf8cc5" stroke-width="0.55" fill="none" stroke-linecap="round"/>
<path d="M663.91,52.69Q661.35,51.85 659.17,51.36" stroke="#cf8cc5" stroke-width="0.70" fill="none" stroke-linecap="round"/>
<path d="M659.17,51.36Q657.15,51.99 656.08,52.02" stroke="#cf8cc5" stroke-width="0.55" fill="none" stroke-linecap="round"/>
<path d="M659.17,51.36Q657.57,50.64 657.09,48.85" stroke="#cf8cc5" stroke-width="0.55" fill="none" stroke-linecap="round"/>
<path d="M667.03,73.18Q670.12,73.25 672.28,74.31" stroke="#5873c6" stroke-width="1.25" fill="none" stroke-linecap="round"/>
<path d="M672.28,74.31Q674.00,73.21 675.64,72.99" stroke="#5873c6" stroke-width="0.85" fill="none" stroke-linecap="round"/>
<path d="M675.64,72.99Q675.99,71.77 677.00,70.66" stroke="#5873c6" stroke-width="0.60" fill="none" stroke-linecap="round"/>
<path d="M675.64,72.99Q677.04,72.91 677.94,73.02" stroke="#5873c6" stroke-width="0.60" fill="none" stroke-linecap="round"/>
<path d="M672.28,74.31Q673.47,75.30 675.01,77.34" stroke="#5873c6" stroke-width="0.85" fill="none" stroke-linecap="round"/>
<path d="M675.01,77.34Q676.52,78.02 677.66,78.40" stroke="#5873c6" stroke-width="0.60" fill="none" stroke-linecap="round"/>
<path d="M675.01,77.34Q675.33,78.49 675.02,79.95" stroke="#5873c6" stroke-width="0.60" fill="none" stroke-linecap="round"/>
<path d="M666.16,74.53Q667.38,75.98 669.04,78.43" stroke="#5873c6" stroke-width="1.25" fill="none" stroke-linecap="round"/>
<path d="M669.04,78.43Q671.08,78.97 672.90,79.64" stroke="#5873c6" stroke-width="0.85" fill="none" stroke-linecap="round"/>
<path d="M672.90,79.64Q673.70,79.19 675.26,79.16" stroke="#5873c6" stroke-width="0.60" fill="none" stroke-linecap="round"/>
<path d="M672.90,79.64Q673.12,80.16 674.26,81.65" stroke="#5873c6" stroke-width="0.60" fill="none" stroke-linecap="round"/>
<path d="M669.04,78.43Q669.44,80.48 669.66,81.76" stroke="#5873c6" stroke-width="0.85" fill="none" stroke-linecap="round"/>
<path d="M669.66,81.76Q670.34,82.44 671.54,83.58" stroke="#5873c6" stroke-width="0.60" fill="none" stroke-linecap="round"/>
<path d="M669.66,81.76Q668.72,82.54 668.37,84.27" stroke="#5873c6" stroke-width="0.60" fill="none" stroke-linecap="round"/>
<path d="M663.98,74.83Q663.49,76.82 662.22,79.43" stroke="#5873c6" stroke-width="1.25" fill="none" stroke-linecap="round"/>
<path d="M662.22,79.43Q662.84,82.08 663.24,83.66" stroke="#5873c6" stroke-width="0.85" fill="none" stroke-linecap="round"/>
<path d="M663.24,83.66Q664.01,84.56 665.84,85.66" stroke="#5873c6" stroke-width="0.60" fill="none" stroke-linecap="round"/>
<path d="M663.24,83.66Q663.23,85.76 662.78,86.73" stroke="#5873c6" stroke-width="0.60" fill="none" stroke-linecap="round"/>
<path d="M662.22,79.43Q660.31,81.02 658.31,81.44" stroke="#5873c6" stroke-width="0.85" fill="none" stroke-linecap="round"/>
<path d="M658.31,81.44Q658.12,82.34 656.79,83.54" stroke="#5873c6" stroke-width="0.60" fill="none" stroke-linecap="round"/>
<path d="M658.31,81.44Q657.12,81.11 656.02,81.50" stroke="#5873c6" stroke-width="0.60" fill="none" stroke-linecap="round"/>
<path d="M662.58,73.22Q659.62,73.37 657.35,74.46" stroke="#5873c6" stroke-width="1.25" fill="none" stroke-linecap="round"/>
<path d="M657.35,74.46Q656.33,76.04 655.20,76.87" stroke="#5873c6" stroke-width="0.85" fill="none" stroke-linecap="round"/>
<path d="M655.20,76.87Q655.57,78.14 654.98,79.54" stroke="#5873c6" stroke-width="0.60" fill="none" stroke-linecap="round"/>
<path d="M655.20,76.87Q654.07,77.88 652.19,77.94" stroke="#5873c6" stroke-width="0.60" fill="none" stroke-linecap="round"/>
<path d="M657.35,74.46Q655.97,74.06 654.12,72.88" stroke="#5873c6" stroke-width="0.85" fill="none" stroke-linecap="round"/>
<path d="M654.12,72.88Q652.64,72.83 651.65,73.01" stroke="#5873c6" stroke-width="0.60" fill="none" stroke-linecap="round"/>
<path d="M654.12,72.88Q653.56,72.00 652.87,70.35" stroke="#5873c6" stroke-width="0.60" fill="none" stroke-linecap="round"/>
<path d="M666.07,70.80Q667.77,68.57 668.66,66.93" stroke="#5873c6" stroke-width="1.25" fill="none" stroke-linecap="round"/>
<path d="M668.66,66.93Q668.94,65.44 669.07,63.86" stroke="#5873c6" stroke-width="0.85" fill="none" stroke-linecap="round"/>
<path d="M669.07,63.86Q668.33,62.57 667.66,61.41" stroke="#5873c6" stroke-width="0.60" fill="none" stroke-linecap="round"/>
<path d="M669.07,63.86Q669.69,63.41 670.60,62.27" stroke="#5873c6" stroke-width="0.60" fill="none" stroke-linecap="round"/>
<path d="M668.66,66.93Q670.19,66.14 672.43,64.92" stroke="#5873c6" stroke-width="0.85" fill="none" stroke-linecap="round"/>
<path d="M672.43,64.92Q672.87,63.17 673.49,62.43" stroke="#5873c6" stroke-width="0.60" fill="none" stroke-linecap="round"/>
<path d="M672.43,64.92Q674.01,65.15 675.14,65.30" stroke="#5873c6" stroke-width="0.60" fill="none" stroke-linecap="round"/>
<path d="M665.40,72.10 L640.14,47.16 L639.26,48.04 L664.20,73.30Z" fill="#5873c6"/>
<path d="M639.70,47.60Q637.42,47.97 636.27,47.97" stroke="#5873c6" stroke-width="0.85" fill="none" stroke-linecap="round"/>
<path d="M636.27,47.97Q635.10,49.13 634.18,49.95" stroke="#5873c6" stroke-width="0.70" fill="none" stroke-linecap="round"/>
<path d="M634.18,49.95Q634.27,51.49 633.17,51.84" stroke="#5873c6" stroke-width="0.55" fill="none" stroke-linecap="round"/>
<path d="M634.18,49.95Q632.93,50.68 632.49,50.59" stroke="#5873c6" stroke-width="0.55" fill="none" stroke-linecap="round"/>
<path d="M636.27,47.97Q635.18,47.30 632.96,46.25" stroke="#5873c6" stroke-width="0.70" fill="none" stroke-linecap="round"/>
<path d="M632.96,46.25Q631.49,46.62 631.17,46.26" stroke="#5873c6" stroke-width="0.55" fill="none" stroke-linecap="round"/>
<path d="M632.96,46.25Q632.43,45.43 631.74,44.18" stroke="#5873c6" stroke-width="0.55" fill="none" stroke-linecap="round"/>
<path d="M639.70,47.60Q637.73,46.01 636.70,44.43" stroke="#5873c6" stroke-width="0.85" fill="none" stroke-linecap="round"/>
<path d="M636.70,44.43Q635.38,43.78 633.16,43.73" stroke="#5873c6" stroke-width="0.70" fill="none" stroke-linecap="round"/>
<path d="M633.16,43.73Q632.06,44.48 631.40,44.58" stroke="#5873c6" stroke-width="0.55" fill="none" stroke-linecap="round"/>
<path d="M633.16,43.73Q631.97,43.03 631.26,42.27" stroke="#5873c6" stroke-width="0.55" fill="none" stroke-linecap="round"/>
<path d="M636.70,44.43Q636.18,43.26 635.64,41.22" stroke="#5873c6" stroke-width="0.70" fill="none" stroke-linecap="round"/>
<path d="M635.64,41.22Q634.45,40.88 634.30,39.48" stroke="#5873c6" stroke-width="0.55" fill="none" stroke-linecap="round"/>
<path d="M635.64,41.22Q635.97,40.73 636.34,39.19" stroke="#5873c6" stroke-width="0.55" fill="none" stroke-linecap="round"/>
<path d="M639.70,47.60Q640.05,46.11 639.92,44.21" stroke="#5873c6" stroke-width="0.85" fill="none" stroke-linecap="round"/>
<path d="M639.92,44.21Q639.21,42.46 638.46,40.91" stroke="#5873c6" stroke-width="0.70" fill="none" stroke-linecap="round"/>
<path d="M638.46,40.91Q637.49,40.31 636.83,39.89" stroke="#5873c6" stroke-width="0.55" fill="none" stroke-linecap="round"/>
<path d="M638.46,40.91Q638.66,39.64 638.83,38.66" stroke="#5873c6" stroke-width="0.55" fill="none" stroke-linecap="round"/>
<path d="M639.92,44.21Q641.21,43.18 641.79,41.81" stroke="#5873c6" stroke-width="0.70" fill="none" stroke-linecap="round"/>
<path d="M641.79,41.81Q642.05,41.07 642.27,39.80" stroke="#5873c6" stroke-width="0.55" fill="none" stroke-linecap="round"/>
<path d="M641.79,41.81Q642.64,41.76 643.92,41.26" stroke="#5873c6" stroke-width="0.55" fill="none" stroke-linecap="round"/>
<circle cx="664.80" cy="72.70" r="3.80" fill="#4461bd"/>
<circle cx="664.80" cy="72.70" r="2.28" fill="#253c8c" opacity="0.18"/>
<circle cx="664.80" cy="72.70" r="0.61" fill="#253c8c"/>
<text x="645.30" y="80.60" font-size="9.1" text-anchor="start" fill="#111">C</text>
<text x="587.20" y="18.60" font-size="9.1" text-anchor="start" fill="#111">A</text>
<text x="646.80" y="18.60" font-size="9.1" text-anchor="start" fill="#111">B</text>
<text x="576.60" y="98.90" font-size="10.3" text-anchor="start" fill="#111">Feedback inhibition</text>
<line x1="422.6" y1="124.1" x2="452.9" y2="124.1" stroke="#111" stroke-width="1.2"/><path d="M456.9,124.1 L452.4,121.8 L452.4,126.39999999999999Z" fill="#111"/>
<path d="M398.11,143.85Q397.26,145.79 397.28,148.66" stroke="#cf8cc5" stroke-width="1.25" fill="none" stroke-linecap="round"/>
<path d="M397.28,148.66Q397.92,150.71 399.41,152.18" stroke="#cf8cc5" stroke-width="0.85" fill="none" stroke-linecap="round"/>
<path d="M399.41,152.18Q400.48,152.71 401.46,153.36" stroke="#cf8cc5" stroke-width="0.60" fill="none" stroke-linecap="round"/>
<path d="M399.41,152.18Q398.96,153.26 399.48,155.48" stroke="#cf8cc5" stroke-width="0.60" fill="none" stroke-linecap="round"/>
<path d="M397.28,148.66Q395.46,149.50 394.37,150.75" stroke="#cf8cc5" stroke-width="0.85" fill="none" stroke-linecap="round"/>
<path d="M394.37,150.75Q393.47,151.95 393.27,153.82" stroke="#cf8cc5" stroke-width="0.60" fill="none" stroke-linecap="round"/>
<path d="M394.37,150.75Q393.51,151.20 391.56,150.84" stroke="#cf8cc5" stroke-width="0.60" fill="none" stroke-linecap="round"/>
<path d="M396.52,142.73Q395.19,144.32 393.04,144.73" stroke="#cf8cc5" stroke-width="1.25" fill="none" stroke-linecap="round"/>
<path d="M393.04,144.73Q392.96,146.88 391.99,148.67" stroke="#cf8cc5" stroke-width="0.85" fill="none" stroke-linecap="round"/>
<path d="M391.99,148.67Q392.87,149.73 393.19,151.52" stroke="#cf8cc5" stroke-width="0.60" fill="none" stroke-linecap="round"/>
<path d="M391.99,148.67Q390.50,149.27 390.12,150.25" stroke="#cf8cc5" stroke-width="0.60" fill="none" stroke-linecap="round"/>
<path d="M393.04,144.73Q391.43,145.07 389.47,144.59" stroke="#cf8cc5" stroke-width="0.85" fill="none" stroke-linecap="round"/>
<path d="M389.47,144.59Q388.52,145.51 386.39,145.73" stroke="#cf8cc5" stroke-width="0.60" fill="none" stroke-linecap="round"/>
<path d="M389.47,144.59Q388.58,144.04 387.40,143.38" stroke="#cf8cc5" stroke-width="0.60" fill="none" stroke-linecap="round"/>
<path d="M396.54,140.44Q394.53,139.97 393.26,138.49" stroke="#cf8cc5" stroke-width="1.25" fill="none" stroke-linecap="round"/>
<path d="M393.26,138.49Q390.77,138.46 389.25,138.68" stroke="#cf8cc5" stroke-width="0.85" fill="none" stroke-linecap="round"/>
<path d="M389.25,138.68Q388.53,138.96 386.62,139.97" stroke="#cf8cc5" stroke-width="0.60" fill="none" stroke-linecap="round"/>
<path d="M389.25,138.68Q387.82,138.29 386.53,137.21" stroke="#cf8cc5" stroke-width="0.60" fill="none" stroke-linecap="round"/>
<path d="M393.26,138.49Q392.18,137.61 392.05,135.57" stroke="#cf8cc5" stroke-width="0.85" fill="none" stroke-linecap="round"/>
<path d="M392.05,135.57Q390.78,135.26 389.91,134.45" stroke="#cf8cc5" stroke-width="0.60" fill="none" stroke-linecap="round"/>
<path d="M392.05,135.57Q392.45,134.61 392.84,132.95" stroke="#cf8cc5" stroke-width="0.60" fill="none" stroke-linecap="round"/>
<path d="M397.75,139.45Q397.17,137.57 396.33,135.37" stroke="#cf8cc5" stroke-width="1.25" fill="none" stroke-linecap="round"/>
<path d="M396.33,135.37Q394.47,134.95 393.49,134.00" stroke="#cf8cc5" stroke-width="0.85" fill="none" stroke-linecap="round"/>
<path d="M393.49,134.00Q392.17,133.77 390.21,134.13" stroke="#cf8cc5" stroke-width="0.60" fill="none" stroke-linecap="round"/>
<path d="M393.49,134.00Q392.57,131.94 392.00,131.06" stroke="#cf8cc5" stroke-width="0.60" fill="none" stroke-linecap="round"/>
<path d="M396.33,135.37Q396.34,133.17 397.13,132.06" stroke="#cf8cc5" stroke-width="0.85" fill="none" stroke-linecap="round"/>
<path d="M397.13,132.06Q395.90,130.78 395.75,129.22" stroke="#cf8cc5" stroke-width="0.60" fill="none" stroke-linecap="round"/>
<path d="M397.13,132.06Q398.29,130.89 398.68,130.20" stroke="#cf8cc5" stroke-width="0.60" fill="none" stroke-linecap="round"/>
<path d="M399.62,139.62Q400.96,137.70 401.83,135.72" stroke="#cf8cc5" stroke-width="1.25" fill="none" stroke-linecap="round"/>
<path d="M401.83,135.72Q401.90,134.20 401.91,132.15" stroke="#cf8cc5" stroke-width="0.85" fill="none" stroke-linecap="round"/>
<path d="M401.91,132.15Q401.09,130.43 400.35,129.58" stroke="#cf8cc5" stroke-width="0.60" fill="none" stroke-linecap="round"/>
<path d="M401.91,132.15Q402.87,131.29 403.24,129.38" stroke="#cf8cc5" stroke-width="0.60" fill="none" stroke-linecap="round"/>
<path d="M401.83,135.72Q403.22,135.46 405.41,134.34" stroke="#cf8cc5" stroke-width="0.85" fill="none" stroke-linecap="round"/>
<path d="M405.41,134.34Q405.63,133.03 406.72,132.01" stroke="#cf8cc5" stroke-width="0.60" fill="none" stroke-linecap="round"/>
<path d="M405.41,134.34Q407.00,134.56 408.07,134.67" stroke="#cf8cc5" stroke-width="0.60" fill="none" stroke-linecap="round"/>
<path d="M398.50,141.60L434.20,141.60" stroke="#cf8cc5" stroke-width="1.25" fill="none"/>
<path d="M434.20,141.60Q435.65,139.68 436.56,138.80" stroke="#cf8cc5" stroke-width="0.85" fill="none" stroke-linecap="round"/>
<path d="M436.56,138.80Q437.02,136.92 437.22,135.84" stroke="#cf8cc5" stroke-width="0.70" fill="none" stroke-linecap="round"/>
<path d="M437.22,135.84Q436.69,135.18 436.58,133.97" stroke="#cf8cc5" stroke-width="0.55" fill="none" stroke-linecap="round"/>
<path d="M437.22,135.84Q438.15,134.52 438.89,133.88" stroke="#cf8cc5" stroke-width="0.55" fill="none" stroke-linecap="round"/>
<path d="M436.56,138.80Q437.67,138.38 439.65,137.90" stroke="#cf8cc5" stroke-width="0.70" fill="none" stroke-linecap="round"/>
<path d="M439.65,137.90Q440.30,137.28 440.85,136.22" stroke="#cf8cc5" stroke-width="0.55" fill="none" stroke-linecap="round"/>
<path d="M439.65,137.90Q440.14,138.29 441.77,138.74" stroke="#cf8cc5" stroke-width="0.55" fill="none" stroke-linecap="round"/>
<path d="M434.20,141.60Q436.74,141.00 438.34,141.39" stroke="#cf8cc5" stroke-width="0.85" fill="none" stroke-linecap="round"/>
<path d="M438.34,141.39Q439.24,140.63 440.90,139.98" stroke="#cf8cc5" stroke-width="0.70" fill="none" stroke-linecap="round"/>
<path d="M440.90,139.98Q441.13,139.05 441.93,138.28" stroke="#cf8cc5" stroke-width="0.55" fill="none" stroke-linecap="round"/>
<path d="M440.90,139.98Q441.69,139.73 442.78,140.10" stroke="#cf8cc5" stroke-width="0.55" fill="none" stroke-linecap="round"/>
<path d="M438.34,141.39Q439.82,141.62 440.73,142.97" stroke="#cf8cc5" stroke-width="0.70" fill="none" stroke-linecap="round"/>
<path d="M440.73,142.97Q442.29,143.55 442.80,143.42" stroke="#cf8cc5" stroke-width="0.55" fill="none" stroke-linecap="round"/>
<path d="M440.73,142.97Q441.35,143.82 441.37,144.62" stroke="#cf8cc5" stroke-width="0.55" fill="none" stroke-linecap="round"/>
<path d="M434.20,141.60Q435.10,143.69 436.36,144.81" stroke="#cf8cc5" stroke-width="0.85" fill="none" stroke-linecap="round"/>
<path d="M436.36,144.81Q437.10,145.54 438.70,146.42" stroke="#cf8cc5" stroke-width="0.70" fill="none" stroke-linecap="round"/>
<path d="M438.70,146.42Q439.73,146.63 440.55,146.73" stroke="#cf8cc5" stroke-width="0.55" fill="none" stroke-linecap="round"/>
<path d="M438.70,146.42Q438.59,147.32 439.36,148.17" stroke="#cf8cc5" stroke-width="0.55" fill="none" stroke-linecap="round"/>
<path d="M436.36,144.81Q436.58,146.17 436.21,148.11" stroke="#cf8cc5" stroke-width="0.70" fill="none" stroke-linecap="round"/>
<path d="M436.21,148.11Q437.06,148.49 437.56,150.02" stroke="#cf8cc5" stroke-width="0.55" fill="none" stroke-linecap="round"/>
<path d="M436.21,148.11Q435.96,148.84 435.31,150.27" stroke="#cf8cc5" stroke-width="0.55" fill="none" stroke-linecap="round"/>
<circle cx="398.50" cy="141.60" r="3.80" fill="#c772b9"/>
<circle cx="398.50" cy="141.60" r="2.28" fill="#8e3a88" opacity="0.18"/>
<circle cx="398.50" cy="141.60" r="0.61" fill="#8e3a88"/>
<path d="M458.96,142.26Q460.97,143.69 462.02,145.13" stroke="#c9c9c9" stroke-width="1.25" fill="none" stroke-linecap="round"/>
<path d="M462.02,145.13Q463.56,145.88 465.08,145.80" stroke="#c9c9c9" stroke-width="0.85" fill="none" stroke-linecap="round"/>
<path d="M465.08,145.80Q467.07,145.11 468.15,144.73" stroke="#c9c9c9" stroke-width="0.60" fill="none" stroke-linecap="round"/>
<path d="M465.08,145.80Q465.89,146.06 467.60,147.50" stroke="#c9c9c9" stroke-width="0.60" fill="none" stroke-linecap="round"/>
<path d="M462.02,145.13Q462.66,147.78 462.50,149.34" stroke="#c9c9c9" stroke-width="0.85" fill="none" stroke-linecap="round"/>
<path d="M462.50,149.34Q462.85,150.74 464.11,150.98" stroke="#c9c9c9" stroke-width="0.60" fill="none" stroke-linecap="round"/>
<path d="M462.50,149.34Q461.56,149.94 461.78,151.62" stroke="#c9c9c9" stroke-width="0.60" fill="none" stroke-linecap="round"/>
<path d="M457.31,142.98Q456.92,144.89 457.34,147.27" stroke="#c9c9c9" stroke-width="1.25" fill="none" stroke-linecap="round"/>
<path d="M457.34,147.27Q458.45,148.99 458.81,150.14" stroke="#c9c9c9" stroke-width="0.85" fill="none" stroke-linecap="round"/>
<path d="M458.81,150.14Q460.34,151.01 461.21,151.67" stroke="#c9c9c9" stroke-width="0.60" fill="none" stroke-linecap="round"/>
<path d="M458.81,150.14Q458.52,151.31 458.84,152.71" stroke="#c9c9c9" stroke-width="0.60" fill="none" stroke-linecap="round"/>
<path d="M457.34,147.27Q455.54,148.51 454.78,149.81" stroke="#c9c9c9" stroke-width="0.85" fill="none" stroke-linecap="round"/>
<path d="M454.78,149.81Q454.56,150.59 453.87,152.36" stroke="#c9c9c9" stroke-width="0.60" fill="none" stroke-linecap="round"/>
<path d="M454.78,149.81Q452.87,150.12 452.05,150.91" stroke="#c9c9c9" stroke-width="0.60" fill="none" stroke-linecap="round"/>
<path d="M455.31,141.81Q453.00,142.18 451.81,143.74" stroke="#c9c9c9" stroke-width="1.25" fill="none" stroke-linecap="round"/>
<path d="M451.81,143.74Q451.21,145.38 449.53,147.04" stroke="#c9c9c9" stroke-width="0.85" fill="none" stroke-linecap="round"/>
<path d="M449.53,147.04Q449.34,148.61 448.86,150.13" stroke="#c9c9c9" stroke-width="0.60" fill="none" stroke-linecap="round"/>
<path d="M449.53,147.04Q448.25,147.79 447.27,148.00" stroke="#c9c9c9" stroke-width="0.60" fill="none" stroke-linecap="round"/>
<path d="M451.81,143.74Q449.70,143.86 447.56,143.73" stroke="#c9c9c9" stroke-width="0.85" fill="none" stroke-linecap="round"/>
<path d="M447.56,143.73Q445.81,144.05 444.92,144.97" stroke="#c9c9c9" stroke-width="0.60" fill="none" stroke-linecap="round"/>
<path d="M447.56,143.73Q447.07,143.42 445.49,142.89" stroke="#c9c9c9" stroke-width="0.60" fill="none" stroke-linecap="round"/>
<path d="M455.53,139.26Q453.35,138.22 451.60,136.06" stroke="#c9c9c9" stroke-width="1.25" fill="none" stroke-linecap="round"/>
<path d="M451.60,136.06Q449.32,135.45 448.03,135.28" stroke="#c9c9c9" stroke-width="0.85" fill="none" stroke-linecap="round"/>
<path d="M448.03,135.28Q446.36,136.12 445.69,136.45" stroke="#c9c9c9" stroke-width="0.60" fill="none" stroke-linecap="round"/>
<path d="M448.03,135.28Q447.65,134.39 446.60,133.30" stroke="#c9c9c9" stroke-width="0.60" fill="none" stroke-linecap="round"/>
<path d="M451.60,136.06Q450.87,134.36 450.43,131.89" stroke="#c9c9c9" stroke-width="0.85" fill="none" stroke-linecap="round"/>
<path d="M450.43,131.89Q448.67,130.41 447.68,130.12" stroke="#c9c9c9" stroke-width="0.60" fill="none" stroke-linecap="round"/>
<path d="M450.43,131.89Q451.26,130.84 451.66,129.15" stroke="#c9c9c9" stroke-width="0.60" fill="none" stroke-linecap="round"/>
<path d="M456.66,138.51Q455.90,137.21 455.57,134.82" stroke="#c9c9c9" stroke-width="1.25" fill="none" stroke-linecap="round"/>
<path d="M455.57,134.82Q454.39,133.52 453.35,132.35" stroke="#c9c9c9" stroke-width="0.85" fill="none" stroke-linecap="round"/>
<path d="M453.35,132.35Q452.74,131.59 451.33,131.43" stroke="#c9c9c9" stroke-width="0.60" fill="none" stroke-linecap="round"/>
<path d="M453.35,132.35Q452.67,131.64 452.98,130.02" stroke="#c9c9c9" stroke-width="0.60" fill="none" stroke-linecap="round"/>
<path d="M455.57,134.82Q456.74,133.03 457.03,130.63" stroke="#c9c9c9" stroke-width="0.85" fill="none" stroke-linecap="round"/>
<path d="M457.03,130.63Q457.10,129.31 455.98,127.98" stroke="#c9c9c9" stroke-width="0.60" fill="none" stroke-linecap="round"/>
<path d="M457.03,130.63Q458.43,130.31 458.65,128.85" stroke="#c9c9c9" stroke-width="0.60" fill="none" stroke-linecap="round"/>
<path d="M458.49,138.75Q459.84,136.96 460.68,135.14" stroke="#c9c9c9" stroke-width="1.25" fill="none" stroke-linecap="round"/>
<path d="M460.68,135.14Q460.41,132.80 459.86,130.77" stroke="#c9c9c9" stroke-width="0.85" fill="none" stroke-linecap="round"/>
<path d="M459.86,130.77Q459.06,129.54 457.66,129.09" stroke="#c9c9c9" stroke-width="0.60" fill="none" stroke-linecap="round"/>
<path d="M459.86,130.77Q460.69,129.16 460.52,127.84" stroke="#c9c9c9" stroke-width="0.60" fill="none" stroke-linecap="round"/>
<path d="M460.68,135.14Q462.50,133.91 464.28,133.56" stroke="#c9c9c9" stroke-width="0.85" fill="none" stroke-linecap="round"/>
<path d="M464.28,133.56Q464.52,132.01 465.48,131.45" stroke="#c9c9c9" stroke-width="0.60" fill="none" stroke-linecap="round"/>
<path d="M464.28,133.56Q465.91,133.48 466.72,133.82" stroke="#c9c9c9" stroke-width="0.60" fill="none" stroke-linecap="round"/>
<path d="M457.30,140.70L494.90,140.70" stroke="#c9c9c9" stroke-width="1.25" fill="none"/>
<path d="M494.90,140.70Q495.57,139.10 496.97,137.76" stroke="#c9c9c9" stroke-width="0.85" fill="none" stroke-linecap="round"/>
<path d="M496.97,137.76Q496.82,135.90 497.26,134.39" stroke="#c9c9c9" stroke-width="0.70" fill="none" stroke-linecap="round"/>
<path d="M497.26,134.39Q496.40,133.79 496.03,132.28" stroke="#c9c9c9" stroke-width="0.55" fill="none" stroke-linecap="round"/>
<path d="M497.26,134.39Q497.53,133.50 497.98,132.80" stroke="#c9c9c9" stroke-width="0.55" fill="none" stroke-linecap="round"/>
<path d="M496.97,137.76Q498.72,136.95 500.45,136.62" stroke="#c9c9c9" stroke-width="0.70" fill="none" stroke-linecap="round"/>
<path d="M500.45,136.62Q500.95,135.68 502.03,135.18" stroke="#c9c9c9" stroke-width="0.55" fill="none" stroke-linecap="round"/>
<path d="M500.45,136.62Q501.08,136.24 502.80,136.61" stroke="#c9c9c9" stroke-width="0.55" fill="none" stroke-linecap="round"/>
<path d="M494.90,140.70Q497.02,140.91 498.85,140.79" stroke="#c9c9c9" stroke-width="0.85" fill="none" stroke-linecap="round"/>
<path d="M498.85,140.79Q501.13,139.90 502.28,139.27" stroke="#c9c9c9" stroke-width="0.70" fill="none" stroke-linecap="round"/>
<path d="M502.28,139.27Q502.73,138.11 503.34,137.74" stroke="#c9c9c9" stroke-width="0.55" fill="none" stroke-linecap="round"/>
<path d="M502.28,139.27Q503.13,139.78 504.61,139.82" stroke="#c9c9c9" stroke-width="0.55" fill="none" stroke-linecap="round"/>
<path d="M498.85,140.79Q500.29,141.88 500.99,142.41" stroke="#c9c9c9" stroke-width="0.70" fill="none" stroke-linecap="round"/>
<path d="M500.99,142.41Q501.76,142.03 503.53,142.76" stroke="#c9c9c9" stroke-width="0.55" fill="none" stroke-linecap="round"/>
<path d="M500.99,142.41Q500.79,143.62 501.78,144.58" stroke="#c9c9c9" stroke-width="0.55" fill="none" stroke-linecap="round"/>
<path d="M494.90,140.70Q495.54,142.51 497.08,143.55" stroke="#c9c9c9" stroke-width="0.85" fill="none" stroke-linecap="round"/>
<path d="M497.08,143.55Q498.17,144.39 499.93,145.14" stroke="#c9c9c9" stroke-width="0.70" fill="none" stroke-linecap="round"/>
<path d="M499.93,145.14Q501.38,144.88 502.11,145.29" stroke="#c9c9c9" stroke-width="0.55" fill="none" stroke-linecap="round"/>
<path d="M499.93,145.14Q499.97,145.72 500.91,147.29" stroke="#c9c9c9" stroke-width="0.55" fill="none" stroke-linecap="round"/>
<path d="M497.08,143.55Q497.56,145.55 497.09,146.52" stroke="#c9c9c9" stroke-width="0.70" fill="none" stroke-linecap="round"/>
<path d="M497.09,146.52Q497.40,147.52 498.39,148.52" stroke="#c9c9c9" stroke-width="0.55" fill="none" stroke-linecap="round"/>
<path d="M497.09,146.52Q496.20,148.16 496.18,148.78" stroke="#c9c9c9" stroke-width="0.55" fill="none" stroke-linecap="round"/>
<circle cx="457.30" cy="140.70" r="3.80" fill="#c4c4c4"/>
<circle cx="457.30" cy="140.70" r="2.28" fill="#666" opacity="0.18"/>
<circle cx="457.30" cy="140.70" r="0.61" fill="#666"/>
<path d="M421.1,141.6 Q423,150 420,157 Q417.5,163 419,168.5" stroke="#cf8cc5" stroke-width="0.9" fill="none"/>
<path d="M419.00,168.00Q421.39,169.12 423.81,170.82" stroke="#cf8cc5" stroke-width="0.85" fill="none" stroke-linecap="round"/>
<path d="M423.81,170.82Q425.96,170.68 428.18,169.93" stroke="#cf8cc5" stroke-width="0.70" fill="none" stroke-linecap="round"/>
<path d="M428.18,169.93Q429.07,169.23 430.51,167.80" stroke="#cf8cc5" stroke-width="0.55" fill="none" stroke-linecap="round"/>
<path d="M428.18,169.93Q429.50,170.66 430.73,170.94" stroke="#cf8cc5" stroke-width="0.55" fill="none" stroke-linecap="round"/>
<path d="M423.81,170.82Q425.39,172.29 426.23,174.34" stroke="#cf8cc5" stroke-width="0.70" fill="none" stroke-linecap="round"/>
<path d="M426.23,174.34Q427.92,174.98 428.79,176.02" stroke="#cf8cc5" stroke-width="0.55" fill="none" stroke-linecap="round"/>
<path d="M426.23,174.34Q427.00,175.82 427.03,177.43" stroke="#cf8cc5" stroke-width="0.55" fill="none" stroke-linecap="round"/>
<path d="M419.00,168.00Q419.34,169.91 419.35,172.33" stroke="#cf8cc5" stroke-width="0.85" fill="none" stroke-linecap="round"/>
<path d="M419.35,172.33Q419.97,174.44 421.31,176.19" stroke="#cf8cc5" stroke-width="0.70" fill="none" stroke-linecap="round"/>
<path d="M421.31,176.19Q423.22,177.09 424.15,177.96" stroke="#cf8cc5" stroke-width="0.55" fill="none" stroke-linecap="round"/>
<path d="M421.31,176.19Q421.55,178.29 421.07,179.25" stroke="#cf8cc5" stroke-width="0.55" fill="none" stroke-linecap="round"/>
<path d="M419.35,172.33Q418.89,173.98 418.19,176.10" stroke="#cf8cc5" stroke-width="0.70" fill="none" stroke-linecap="round"/>
<path d="M418.19,176.10Q418.84,177.31 418.58,178.45" stroke="#cf8cc5" stroke-width="0.55" fill="none" stroke-linecap="round"/>
<path d="M418.19,176.10Q417.04,176.94 416.34,178.51" stroke="#cf8cc5" stroke-width="0.55" fill="none" stroke-linecap="round"/>
<path d="M419.00,168.00Q416.77,169.40 415.24,169.93" stroke="#cf8cc5" stroke-width="0.85" fill="none" stroke-linecap="round"/>
<path d="M415.24,169.93Q414.60,170.72 413.29,172.67" stroke="#cf8cc5" stroke-width="0.70" fill="none" stroke-linecap="round"/>
<path d="M413.29,172.67Q413.33,174.09 413.08,175.98" stroke="#cf8cc5" stroke-width="0.55" fill="none" stroke-linecap="round"/>
<path d="M413.29,172.67Q411.65,173.93 410.90,173.98" stroke="#cf8cc5" stroke-width="0.55" fill="none" stroke-linecap="round"/>
<path d="M415.24,169.93Q413.52,169.98 411.20,170.27" stroke="#cf8cc5" stroke-width="0.70" fill="none" stroke-linecap="round"/>
<path d="M411.20,170.27Q410.60,171.25 408.85,171.28" stroke="#cf8cc5" stroke-width="0.55" fill="none" stroke-linecap="round"/>
<path d="M411.20,170.27Q409.67,169.92 408.27,168.77" stroke="#cf8cc5" stroke-width="0.55" fill="none" stroke-linecap="round"/>
<path d="M425.58,187.48Q428.35,187.30 430.37,187.65" stroke="#5873c6" stroke-width="1.25" fill="none" stroke-linecap="round"/>
<path d="M430.37,187.65Q432.72,186.18 434.09,185.47" stroke="#5873c6" stroke-width="0.85" fill="none" stroke-linecap="round"/>
<path d="M434.09,185.47Q434.83,184.79 435.57,182.99" stroke="#5873c6" stroke-width="0.60" fill="none" stroke-linecap="round"/>
<path d="M434.09,185.47Q435.97,185.68 436.79,185.57" stroke="#5873c6" stroke-width="0.60" fill="none" stroke-linecap="round"/>
<path d="M430.37,187.65Q431.80,188.06 433.24,189.55" stroke="#5873c6" stroke-width="0.85" fill="none" stroke-linecap="round"/>
<path d="M433.24,189.55Q434.66,190.06 436.26,189.74" stroke="#5873c6" stroke-width="0.60" fill="none" stroke-linecap="round"/>
<path d="M433.24,189.55Q433.84,190.44 434.01,192.26" stroke="#5873c6" stroke-width="0.60" fill="none" stroke-linecap="round"/>
<path d="M425.08,188.83Q426.94,190.18 429.32,192.22" stroke="#5873c6" stroke-width="1.25" fill="none" stroke-linecap="round"/>
<path d="M429.32,192.22Q430.87,192.41 433.33,193.03" stroke="#5873c6" stroke-width="0.85" fill="none" stroke-linecap="round"/>
<path d="M433.33,193.03Q433.87,192.51 435.59,191.93" stroke="#5873c6" stroke-width="0.60" fill="none" stroke-linecap="round"/>
<path d="M433.33,193.03Q433.98,193.40 435.38,194.70" stroke="#5873c6" stroke-width="0.60" fill="none" stroke-linecap="round"/>
<path d="M429.32,192.22Q430.53,194.23 431.15,196.09" stroke="#5873c6" stroke-width="0.85" fill="none" stroke-linecap="round"/>
<path d="M431.15,196.09Q431.77,196.37 433.30,197.09" stroke="#5873c6" stroke-width="0.60" fill="none" stroke-linecap="round"/>
<path d="M431.15,196.09Q430.85,196.97 431.26,198.60" stroke="#5873c6" stroke-width="0.60" fill="none" stroke-linecap="round"/>
<path d="M422.62,189.58Q421.93,191.54 421.29,193.85" stroke="#5873c6" stroke-width="1.25" fill="none" stroke-linecap="round"/>
<path d="M421.29,193.85Q421.69,195.32 422.54,197.81" stroke="#5873c6" stroke-width="0.85" fill="none" stroke-linecap="round"/>
<path d="M422.54,197.81Q423.88,198.19 424.55,199.51" stroke="#5873c6" stroke-width="0.60" fill="none" stroke-linecap="round"/>
<path d="M422.54,197.81Q422.17,198.77 421.70,199.87" stroke="#5873c6" stroke-width="0.60" fill="none" stroke-linecap="round"/>
<path d="M421.29,193.85Q419.91,194.86 418.05,196.68" stroke="#5873c6" stroke-width="0.85" fill="none" stroke-linecap="round"/>
<path d="M418.05,196.68Q417.07,197.56 417.21,199.44" stroke="#5873c6" stroke-width="0.60" fill="none" stroke-linecap="round"/>
<path d="M418.05,196.68Q416.51,196.77 415.06,197.04" stroke="#5873c6" stroke-width="0.60" fill="none" stroke-linecap="round"/>
<path d="M421.24,188.38Q419.84,189.82 417.53,190.16" stroke="#5873c6" stroke-width="1.25" fill="none" stroke-linecap="round"/>
<path d="M417.53,190.16Q416.68,191.84 416.09,192.80" stroke="#5873c6" stroke-width="0.85" fill="none" stroke-linecap="round"/>
<path d="M416.09,192.80Q415.85,194.21 416.37,195.11" stroke="#5873c6" stroke-width="0.60" fill="none" stroke-linecap="round"/>
<path d="M416.09,192.80Q415.11,193.68 413.83,193.94" stroke="#5873c6" stroke-width="0.60" fill="none" stroke-linecap="round"/>
<path d="M417.53,190.16Q415.46,189.82 413.55,188.74" stroke="#5873c6" stroke-width="0.85" fill="none" stroke-linecap="round"/>
<path d="M413.55,188.74Q412.27,188.94 410.39,188.94" stroke="#5873c6" stroke-width="0.60" fill="none" stroke-linecap="round"/>
<path d="M413.55,188.74Q412.73,187.77 411.61,186.26" stroke="#5873c6" stroke-width="0.60" fill="none" stroke-linecap="round"/>
<path d="M421.13,186.70Q419.04,186.21 417.50,185.53" stroke="#5873c6" stroke-width="1.25" fill="none" stroke-linecap="round"/>
<path d="M417.50,185.53Q415.56,186.52 414.36,186.43" stroke="#5873c6" stroke-width="0.85" fill="none" stroke-linecap="round"/>
<path d="M414.36,186.43Q413.80,187.88 412.59,189.14" stroke="#5873c6" stroke-width="0.60" fill="none" stroke-linecap="round"/>
<path d="M414.36,186.43Q412.44,186.31 411.70,185.13" stroke="#5873c6" stroke-width="0.60" fill="none" stroke-linecap="round"/>
<path d="M417.50,185.53Q416.53,183.39 414.81,182.12" stroke="#5873c6" stroke-width="0.85" fill="none" stroke-linecap="round"/>
<path d="M414.81,182.12Q414.05,182.27 412.61,181.72" stroke="#5873c6" stroke-width="0.60" fill="none" stroke-linecap="round"/>
<path d="M414.81,182.12Q414.41,181.33 414.32,179.83" stroke="#5873c6" stroke-width="0.60" fill="none" stroke-linecap="round"/>
<path d="M423.06,185.13Q423.35,182.84 422.52,179.94" stroke="#5873c6" stroke-width="1.25" fill="none" stroke-linecap="round"/>
<path d="M422.52,179.94Q421.08,179.14 420.82,177.46" stroke="#5873c6" stroke-width="0.85" fill="none" stroke-linecap="round"/>
<path d="M420.82,177.46Q419.21,176.70 418.51,176.34" stroke="#5873c6" stroke-width="0.60" fill="none" stroke-linecap="round"/>
<path d="M420.82,177.46Q420.61,175.74 420.53,174.72" stroke="#5873c6" stroke-width="0.60" fill="none" stroke-linecap="round"/>
<path d="M422.52,179.94Q422.66,177.92 423.69,176.87" stroke="#5873c6" stroke-width="0.85" fill="none" stroke-linecap="round"/>
<path d="M423.69,176.87Q423.79,175.78 423.17,174.58" stroke="#5873c6" stroke-width="0.60" fill="none" stroke-linecap="round"/>
<path d="M423.69,176.87Q424.53,175.40 425.99,175.08" stroke="#5873c6" stroke-width="0.60" fill="none" stroke-linecap="round"/>
<path d="M423.90,188.00 L449.94,161.64 L449.06,160.76 L422.70,186.80Z" fill="#5873c6"/>
<path d="M449.50,161.20Q448.67,158.79 448.97,156.89" stroke="#5873c6" stroke-width="0.85" fill="none" stroke-linecap="round"/>
<path d="M448.97,156.89Q447.70,155.22 447.32,153.92" stroke="#5873c6" stroke-width="0.70" fill="none" stroke-linecap="round"/>
<path d="M447.32,153.92Q445.94,153.71 445.70,152.54" stroke="#5873c6" stroke-width="0.55" fill="none" stroke-linecap="round"/>
<path d="M447.32,153.92Q447.30,152.74 446.99,151.65" stroke="#5873c6" stroke-width="0.55" fill="none" stroke-linecap="round"/>
<path d="M448.97,156.89Q449.87,155.28 450.52,154.59" stroke="#5873c6" stroke-width="0.70" fill="none" stroke-linecap="round"/>
<path d="M450.52,154.59Q450.78,154.09 451.01,152.79" stroke="#5873c6" stroke-width="0.55" fill="none" stroke-linecap="round"/>
<path d="M450.52,154.59Q451.83,154.69 452.24,153.97" stroke="#5873c6" stroke-width="0.55" fill="none" stroke-linecap="round"/>
<path d="M449.50,161.20Q450.59,159.26 452.33,158.15" stroke="#5873c6" stroke-width="0.85" fill="none" stroke-linecap="round"/>
<path d="M452.33,158.15Q452.83,156.64 452.56,155.22" stroke="#5873c6" stroke-width="0.70" fill="none" stroke-linecap="round"/>
<path d="M452.56,155.22Q451.91,153.92 451.95,152.77" stroke="#5873c6" stroke-width="0.55" fill="none" stroke-linecap="round"/>
<path d="M452.56,155.22Q453.14,154.29 453.46,153.16" stroke="#5873c6" stroke-width="0.55" fill="none" stroke-linecap="round"/>
<path d="M452.33,158.15Q453.38,157.88 455.37,156.79" stroke="#5873c6" stroke-width="0.70" fill="none" stroke-linecap="round"/>
<path d="M455.37,156.79Q456.49,156.60 456.46,155.33" stroke="#5873c6" stroke-width="0.55" fill="none" stroke-linecap="round"/>
<path d="M455.37,156.79Q456.39,156.85 457.92,156.83" stroke="#5873c6" stroke-width="0.55" fill="none" stroke-linecap="round"/>
<path d="M449.50,161.20Q451.07,160.92 453.67,161.74" stroke="#5873c6" stroke-width="0.85" fill="none" stroke-linecap="round"/>
<path d="M453.67,161.74Q455.33,161.22 456.27,160.16" stroke="#5873c6" stroke-width="0.70" fill="none" stroke-linecap="round"/>
<path d="M456.27,160.16Q456.35,158.48 457.17,157.96" stroke="#5873c6" stroke-width="0.55" fill="none" stroke-linecap="round"/>
<path d="M456.27,160.16Q458.02,160.01 458.80,160.01" stroke="#5873c6" stroke-width="0.55" fill="none" stroke-linecap="round"/>
<path d="M453.67,161.74Q454.25,163.28 455.65,163.72" stroke="#5873c6" stroke-width="0.70" fill="none" stroke-linecap="round"/>
<path d="M455.65,163.72Q456.34,164.38 457.42,164.38" stroke="#5873c6" stroke-width="0.55" fill="none" stroke-linecap="round"/>
<path d="M455.65,163.72Q456.43,164.26 456.47,165.44" stroke="#5873c6" stroke-width="0.55" fill="none" stroke-linecap="round"/>
<circle cx="423.30" cy="187.40" r="3.80" fill="#4461bd"/>
<circle cx="423.30" cy="187.40" r="2.28" fill="#253c8c" opacity="0.18"/>
<circle cx="423.30" cy="187.40" r="0.61" fill="#253c8c"/>
<text x="408.00" y="135.70" font-size="9.1" text-anchor="start" fill="#111">A</text>
<text x="466.80" y="135.00" font-size="9.1" text-anchor="start" fill="#111">B</text>
<text x="437.00" y="193.30" font-size="9.1" text-anchor="start" fill="#111">C</text>
<text x="392.80" y="217.10" font-size="10.3" text-anchor="start" fill="#111">Feedforward inhibition</text>
<rect x="530.6" y="121.4" width="152.4" height="95.8" rx="13" ry="13" fill="none" stroke="#222" stroke-width="1.1"/>
<text x="535.50" y="146.40" font-size="9.45" text-anchor="start" fill="#111">Inhibitory</text>
<text x="541.20" y="157.30" font-size="9.45" text-anchor="start" fill="#111">neuron</text>
<text x="546.60" y="189.70" font-size="9.45" text-anchor="start" fill="#111">Any</text>
<text x="541.30" y="201.00" font-size="9.45" text-anchor="start" fill="#111">neuron</text>
<text x="606.00" y="141.70" font-size="9.45" text-anchor="start" fill="#111">Excitatory neuron</text>
<text x="642.60" y="162.90" font-size="8.25" text-anchor="start" fill="#111">Dendrite</text>
<text x="646.80" y="195.40" font-size="8.25" text-anchor="start" fill="#111">Axon</text>
<text x="642.50" y="205.20" font-size="8.25" text-anchor="start" fill="#111">terminal</text>
<path d="M584.30,136.33Q585.10,136.75 586.71,136.19" stroke="#5873c6" stroke-width="0.94" fill="none" stroke-linecap="round"/>
<path d="M586.71,136.19Q587.72,135.32 588.60,134.74" stroke="#5873c6" stroke-width="0.64" fill="none" stroke-linecap="round"/>
<path d="M588.60,134.74Q589.30,134.17 589.33,133.21" stroke="#5873c6" stroke-width="0.45" fill="none" stroke-linecap="round"/>
<path d="M588.60,134.74Q588.99,134.34 590.20,134.79" stroke="#5873c6" stroke-width="0.45" fill="none" stroke-linecap="round"/>
<path d="M586.71,136.19Q587.66,136.90 588.25,137.33" stroke="#5873c6" stroke-width="0.64" fill="none" stroke-linecap="round"/>
<path d="M588.25,137.33Q588.60,137.70 590.07,137.19" stroke="#5873c6" stroke-width="0.45" fill="none" stroke-linecap="round"/>
<path d="M588.25,137.33Q588.70,138.32 588.61,138.74" stroke="#5873c6" stroke-width="0.45" fill="none" stroke-linecap="round"/>
<path d="M584.01,137.18Q584.65,138.62 586.20,139.07" stroke="#5873c6" stroke-width="0.94" fill="none" stroke-linecap="round"/>
<path d="M586.20,139.07Q586.97,139.06 588.81,139.48" stroke="#5873c6" stroke-width="0.64" fill="none" stroke-linecap="round"/>
<path d="M588.81,139.48Q589.23,139.65 590.41,138.88" stroke="#5873c6" stroke-width="0.45" fill="none" stroke-linecap="round"/>
<path d="M588.81,139.48Q588.89,140.25 589.81,140.61" stroke="#5873c6" stroke-width="0.45" fill="none" stroke-linecap="round"/>
<path d="M586.20,139.07Q586.51,140.08 586.84,141.34" stroke="#5873c6" stroke-width="0.64" fill="none" stroke-linecap="round"/>
<path d="M586.84,141.34Q587.38,141.99 588.02,142.09" stroke="#5873c6" stroke-width="0.45" fill="none" stroke-linecap="round"/>
<path d="M586.84,141.34Q586.66,142.66 586.38,143.08" stroke="#5873c6" stroke-width="0.45" fill="none" stroke-linecap="round"/>
<path d="M582.07,137.01Q580.55,137.06 580.08,138.20" stroke="#5873c6" stroke-width="0.94" fill="none" stroke-linecap="round"/>
<path d="M580.08,138.20Q579.72,138.82 578.76,140.38" stroke="#5873c6" stroke-width="0.64" fill="none" stroke-linecap="round"/>
<path d="M578.76,140.38Q579.20,141.26 578.70,141.77" stroke="#5873c6" stroke-width="0.45" fill="none" stroke-linecap="round"/>
<path d="M578.76,140.38Q577.87,141.11 577.18,141.01" stroke="#5873c6" stroke-width="0.45" fill="none" stroke-linecap="round"/>
<path d="M580.08,138.20Q579.04,138.24 578.16,137.71" stroke="#5873c6" stroke-width="0.64" fill="none" stroke-linecap="round"/>
<path d="M578.16,137.71Q577.33,138.47 576.62,138.10" stroke="#5873c6" stroke-width="0.45" fill="none" stroke-linecap="round"/>
<path d="M578.16,137.71Q577.84,136.96 577.07,136.75" stroke="#5873c6" stroke-width="0.45" fill="none" stroke-linecap="round"/>
<path d="M582.14,135.68Q581.65,134.77 580.14,134.16" stroke="#5873c6" stroke-width="0.94" fill="none" stroke-linecap="round"/>
<path d="M580.14,134.16Q579.21,133.61 577.73,133.75" stroke="#5873c6" stroke-width="0.64" fill="none" stroke-linecap="round"/>
<path d="M577.73,133.75Q576.77,134.28 576.57,134.41" stroke="#5873c6" stroke-width="0.45" fill="none" stroke-linecap="round"/>
<path d="M577.73,133.75Q577.19,132.95 576.49,132.97" stroke="#5873c6" stroke-width="0.45" fill="none" stroke-linecap="round"/>
<path d="M580.14,134.16Q579.99,132.78 579.43,132.31" stroke="#5873c6" stroke-width="0.64" fill="none" stroke-linecap="round"/>
<path d="M579.43,132.31Q579.11,131.75 578.28,131.06" stroke="#5873c6" stroke-width="0.45" fill="none" stroke-linecap="round"/>
<path d="M579.43,132.31Q580.09,131.74 579.80,130.40" stroke="#5873c6" stroke-width="0.45" fill="none" stroke-linecap="round"/>
<path d="M582.57,135.32Q582.48,134.23 581.32,132.81" stroke="#5873c6" stroke-width="0.94" fill="none" stroke-linecap="round"/>
<path d="M581.32,132.81Q579.91,132.53 579.26,131.70" stroke="#5873c6" stroke-width="0.64" fill="none" stroke-linecap="round"/>
<path d="M579.26,131.70Q578.59,131.78 577.90,131.64" stroke="#5873c6" stroke-width="0.45" fill="none" stroke-linecap="round"/>
<path d="M579.26,131.70Q579.29,131.44 578.31,130.21" stroke="#5873c6" stroke-width="0.45" fill="none" stroke-linecap="round"/>
<path d="M581.32,132.81Q581.84,132.00 581.50,130.91" stroke="#5873c6" stroke-width="0.64" fill="none" stroke-linecap="round"/>
<path d="M581.50,130.91Q580.91,130.13 580.86,129.15" stroke="#5873c6" stroke-width="0.45" fill="none" stroke-linecap="round"/>
<path d="M581.50,130.91Q582.23,129.83 582.50,129.38" stroke="#5873c6" stroke-width="0.45" fill="none" stroke-linecap="round"/>
<path d="M583.85,135.46Q584.40,133.98 585.60,133.27" stroke="#5873c6" stroke-width="0.94" fill="none" stroke-linecap="round"/>
<path d="M585.60,133.27Q585.63,132.88 585.68,131.43" stroke="#5873c6" stroke-width="0.64" fill="none" stroke-linecap="round"/>
<path d="M585.68,131.43Q585.81,131.07 585.16,130.19" stroke="#5873c6" stroke-width="0.45" fill="none" stroke-linecap="round"/>
<path d="M585.68,131.43Q586.41,130.55 586.51,130.40" stroke="#5873c6" stroke-width="0.45" fill="none" stroke-linecap="round"/>
<path d="M585.60,133.27Q586.45,132.70 587.63,132.92" stroke="#5873c6" stroke-width="0.64" fill="none" stroke-linecap="round"/>
<path d="M587.63,132.92Q588.68,132.53 588.83,132.11" stroke="#5873c6" stroke-width="0.45" fill="none" stroke-linecap="round"/>
<path d="M587.63,132.92Q588.50,132.58 589.31,133.37" stroke="#5873c6" stroke-width="0.45" fill="none" stroke-linecap="round"/>
<path d="M583.10,136.40L583.10,159.50" stroke="#5873c6" stroke-width="0.6" fill="none"/>
<path d="M583.10,159.50Q584.17,159.93 584.74,160.83" stroke="#5873c6" stroke-width="0.64" fill="none" stroke-linecap="round"/>
<path d="M584.74,160.83Q585.93,160.68 586.49,161.35" stroke="#5873c6" stroke-width="0.52" fill="none" stroke-linecap="round"/>
<path d="M586.49,161.35Q586.84,161.49 588.13,161.28" stroke="#5873c6" stroke-width="0.41" fill="none" stroke-linecap="round"/>
<path d="M586.49,161.35Q587.47,161.38 587.61,162.25" stroke="#5873c6" stroke-width="0.41" fill="none" stroke-linecap="round"/>
<path d="M584.74,160.83Q584.58,161.61 585.48,162.39" stroke="#5873c6" stroke-width="0.52" fill="none" stroke-linecap="round"/>
<path d="M585.48,162.39Q586.25,162.44 586.54,162.99" stroke="#5873c6" stroke-width="0.41" fill="none" stroke-linecap="round"/>
<path d="M585.48,162.39Q585.89,162.78 585.49,163.72" stroke="#5873c6" stroke-width="0.41" fill="none" stroke-linecap="round"/>
<path d="M583.10,159.50Q583.14,160.69 583.01,162.40" stroke="#5873c6" stroke-width="0.64" fill="none" stroke-linecap="round"/>
<path d="M583.01,162.40Q583.30,163.16 584.36,164.16" stroke="#5873c6" stroke-width="0.52" fill="none" stroke-linecap="round"/>
<path d="M584.36,164.16Q584.77,164.41 585.72,164.98" stroke="#5873c6" stroke-width="0.41" fill="none" stroke-linecap="round"/>
<path d="M584.36,164.16Q584.50,164.34 584.66,165.44" stroke="#5873c6" stroke-width="0.41" fill="none" stroke-linecap="round"/>
<path d="M583.01,162.40Q582.43,163.25 582.25,164.02" stroke="#5873c6" stroke-width="0.52" fill="none" stroke-linecap="round"/>
<path d="M582.25,164.02Q582.66,165.05 582.41,165.40" stroke="#5873c6" stroke-width="0.41" fill="none" stroke-linecap="round"/>
<path d="M582.25,164.02Q581.00,164.63 580.95,165.03" stroke="#5873c6" stroke-width="0.41" fill="none" stroke-linecap="round"/>
<path d="M583.10,159.50Q582.06,159.91 581.19,160.91" stroke="#5873c6" stroke-width="0.64" fill="none" stroke-linecap="round"/>
<path d="M581.19,160.91Q580.84,161.98 580.33,162.53" stroke="#5873c6" stroke-width="0.52" fill="none" stroke-linecap="round"/>
<path d="M580.33,162.53Q579.84,162.95 580.16,164.19" stroke="#5873c6" stroke-width="0.41" fill="none" stroke-linecap="round"/>
<path d="M580.33,162.53Q579.80,163.31 579.08,163.54" stroke="#5873c6" stroke-width="0.41" fill="none" stroke-linecap="round"/>
<path d="M581.19,160.91Q580.71,160.89 579.08,161.13" stroke="#5873c6" stroke-width="0.52" fill="none" stroke-linecap="round"/>
<path d="M579.08,161.13Q578.91,162.06 577.86,162.02" stroke="#5873c6" stroke-width="0.41" fill="none" stroke-linecap="round"/>
<path d="M579.08,161.13Q578.06,160.34 578.01,160.68" stroke="#5873c6" stroke-width="0.41" fill="none" stroke-linecap="round"/>
<circle cx="583.10" cy="136.40" r="2.00" fill="#4461bd"/>
<circle cx="583.10" cy="136.40" r="1.20" fill="#253c8c" opacity="0.18"/>
<circle cx="583.10" cy="136.40" r="0.45" fill="#253c8c"/>
<path d="M584.00,185.78Q584.82,185.53 586.18,185.94" stroke="#c9c9c9" stroke-width="0.94" fill="none" stroke-linecap="round"/>
<path d="M586.18,185.94Q587.71,184.91 588.30,184.87" stroke="#c9c9c9" stroke-width="0.64" fill="none" stroke-linecap="round"/>
<path d="M588.30,184.87Q588.30,184.30 588.96,183.72" stroke="#c9c9c9" stroke-width="0.45" fill="none" stroke-linecap="round"/>
<path d="M588.30,184.87Q589.20,184.87 589.74,184.76" stroke="#c9c9c9" stroke-width="0.45" fill="none" stroke-linecap="round"/>
<path d="M586.18,185.94Q587.51,185.98 588.09,187.21" stroke="#c9c9c9" stroke-width="0.64" fill="none" stroke-linecap="round"/>
<path d="M588.09,187.21Q588.77,186.92 589.84,187.46" stroke="#c9c9c9" stroke-width="0.45" fill="none" stroke-linecap="round"/>
<path d="M588.09,187.21Q587.80,187.47 588.48,188.69" stroke="#c9c9c9" stroke-width="0.45" fill="none" stroke-linecap="round"/>
<path d="M581.65,186.05Q580.28,187.05 578.83,186.91" stroke="#c9c9c9" stroke-width="0.94" fill="none" stroke-linecap="round"/>
<path d="M578.83,186.91Q578.57,187.98 577.53,188.76" stroke="#c9c9c9" stroke-width="0.64" fill="none" stroke-linecap="round"/>
<path d="M577.53,188.76Q577.62,189.05 577.22,190.42" stroke="#c9c9c9" stroke-width="0.45" fill="none" stroke-linecap="round"/>
<path d="M577.53,188.76Q576.36,188.80 576.21,189.48" stroke="#c9c9c9" stroke-width="0.45" fill="none" stroke-linecap="round"/>
<path d="M578.83,186.91Q578.00,186.56 576.84,186.55" stroke="#c9c9c9" stroke-width="0.64" fill="none" stroke-linecap="round"/>
<path d="M576.84,186.55Q575.90,187.37 575.52,187.14" stroke="#c9c9c9" stroke-width="0.45" fill="none" stroke-linecap="round"/>
<path d="M576.84,186.55Q575.85,186.21 575.64,185.33" stroke="#c9c9c9" stroke-width="0.45" fill="none" stroke-linecap="round"/>
<path d="M581.65,185.37Q581.00,185.18 579.17,184.65" stroke="#c9c9c9" stroke-width="0.94" fill="none" stroke-linecap="round"/>
<path d="M579.17,184.65Q578.45,185.36 576.91,185.40" stroke="#c9c9c9" stroke-width="0.64" fill="none" stroke-linecap="round"/>
<path d="M576.91,185.40Q576.32,185.67 576.17,186.50" stroke="#c9c9c9" stroke-width="0.45" fill="none" stroke-linecap="round"/>
<path d="M576.91,185.40Q576.41,185.05 575.00,185.14" stroke="#c9c9c9" stroke-width="0.45" fill="none" stroke-linecap="round"/>
<path d="M579.17,184.65Q579.06,183.74 577.95,182.92" stroke="#c9c9c9" stroke-width="0.64" fill="none" stroke-linecap="round"/>
<path d="M577.95,182.92Q577.32,182.41 576.55,182.47" stroke="#c9c9c9" stroke-width="0.45" fill="none" stroke-linecap="round"/>
<path d="M577.95,182.92Q577.80,181.63 577.90,181.02" stroke="#c9c9c9" stroke-width="0.45" fill="none" stroke-linecap="round"/>
<path d="M582.83,184.50Q582.37,182.60 582.90,181.78" stroke="#c9c9c9" stroke-width="0.94" fill="none" stroke-linecap="round"/>
<path d="M582.90,181.78Q582.46,180.83 581.33,180.06" stroke="#c9c9c9" stroke-width="0.64" fill="none" stroke-linecap="round"/>
<path d="M581.33,180.06Q581.15,180.00 579.78,179.87" stroke="#c9c9c9" stroke-width="0.45" fill="none" stroke-linecap="round"/>
<path d="M581.33,180.06Q580.74,179.39 581.32,178.18" stroke="#c9c9c9" stroke-width="0.45" fill="none" stroke-linecap="round"/>
<path d="M582.90,181.78Q583.35,181.10 584.36,180.08" stroke="#c9c9c9" stroke-width="0.64" fill="none" stroke-linecap="round"/>
<path d="M584.36,180.08Q584.31,179.83 584.38,178.48" stroke="#c9c9c9" stroke-width="0.45" fill="none" stroke-linecap="round"/>
<path d="M584.36,180.08Q585.09,179.57 585.82,179.83" stroke="#c9c9c9" stroke-width="0.45" fill="none" stroke-linecap="round"/>
<path d="M583.72,184.93Q584.68,184.11 586.12,182.95" stroke="#c9c9c9" stroke-width="0.94" fill="none" stroke-linecap="round"/>
<path d="M586.12,182.95Q586.71,182.09 586.68,181.13" stroke="#c9c9c9" stroke-width="0.64" fill="none" stroke-linecap="round"/>
<path d="M586.68,181.13Q585.95,180.10 586.42,179.49" stroke="#c9c9c9" stroke-width="0.45" fill="none" stroke-linecap="round"/>
<path d="M586.68,181.13Q587.74,180.79 587.89,179.64" stroke="#c9c9c9" stroke-width="0.45" fill="none" stroke-linecap="round"/>
<path d="M586.12,182.95Q587.47,183.36 587.92,182.70" stroke="#c9c9c9" stroke-width="0.64" fill="none" stroke-linecap="round"/>
<path d="M587.92,182.70Q587.95,182.40 589.00,181.48" stroke="#c9c9c9" stroke-width="0.45" fill="none" stroke-linecap="round"/>
<path d="M587.92,182.70Q588.50,183.10 589.14,183.38" stroke="#c9c9c9" stroke-width="0.45" fill="none" stroke-linecap="round"/>
<path d="M582.80,185.70L582.80,208.50" stroke="#c9c9c9" stroke-width="0.6" fill="none"/>
<path d="M582.80,208.50Q583.33,209.46 584.79,209.81" stroke="#c9c9c9" stroke-width="0.64" fill="none" stroke-linecap="round"/>
<path d="M584.79,209.81Q585.10,210.13 586.50,209.88" stroke="#c9c9c9" stroke-width="0.52" fill="none" stroke-linecap="round"/>
<path d="M586.50,209.88Q587.31,209.46 587.80,209.02" stroke="#c9c9c9" stroke-width="0.41" fill="none" stroke-linecap="round"/>
<path d="M586.50,209.88Q587.17,210.22 587.67,210.79" stroke="#c9c9c9" stroke-width="0.41" fill="none" stroke-linecap="round"/>
<path d="M584.79,209.81Q585.15,210.44 585.69,211.36" stroke="#c9c9c9" stroke-width="0.52" fill="none" stroke-linecap="round"/>
<path d="M585.69,211.36Q586.08,212.28 586.72,212.14" stroke="#c9c9c9" stroke-width="0.41" fill="none" stroke-linecap="round"/>
<path d="M585.69,211.36Q585.90,212.61 585.67,212.88" stroke="#c9c9c9" stroke-width="0.41" fill="none" stroke-linecap="round"/>
<path d="M582.80,208.50Q582.36,209.57 582.96,211.23" stroke="#c9c9c9" stroke-width="0.64" fill="none" stroke-linecap="round"/>
<path d="M582.96,211.23Q583.47,211.71 584.01,212.86" stroke="#c9c9c9" stroke-width="0.52" fill="none" stroke-linecap="round"/>
<path d="M584.01,212.86Q584.78,213.37 585.29,213.42" stroke="#c9c9c9" stroke-width="0.41" fill="none" stroke-linecap="round"/>
<path d="M584.01,212.86Q584.63,213.87 584.12,214.21" stroke="#c9c9c9" stroke-width="0.41" fill="none" stroke-linecap="round"/>
<path d="M582.96,211.23Q582.02,211.80 581.93,213.09" stroke="#c9c9c9" stroke-width="0.52" fill="none" stroke-linecap="round"/>
<path d="M581.93,213.09Q582.43,213.40 582.15,214.75" stroke="#c9c9c9" stroke-width="0.41" fill="none" stroke-linecap="round"/>
<path d="M581.93,213.09Q581.53,213.34 580.74,213.73" stroke="#c9c9c9" stroke-width="0.41" fill="none" stroke-linecap="round"/>
<path d="M582.80,208.50Q581.65,209.08 581.24,209.83" stroke="#c9c9c9" stroke-width="0.64" fill="none" stroke-linecap="round"/>
<path d="M581.24,209.83Q580.82,211.22 580.55,211.49" stroke="#c9c9c9" stroke-width="0.52" fill="none" stroke-linecap="round"/>
<path d="M580.55,211.49Q581.14,212.34 580.88,212.83" stroke="#c9c9c9" stroke-width="0.41" fill="none" stroke-linecap="round"/>
<path d="M580.55,211.49Q580.08,211.54 579.26,212.23" stroke="#c9c9c9" stroke-width="0.41" fill="none" stroke-linecap="round"/>
<path d="M581.24,209.83Q580.65,210.23 579.17,210.22" stroke="#c9c9c9" stroke-width="0.52" fill="none" stroke-linecap="round"/>
<path d="M579.17,210.22Q578.69,211.04 577.94,211.32" stroke="#c9c9c9" stroke-width="0.41" fill="none" stroke-linecap="round"/>
<path d="M579.17,210.22Q578.65,210.02 577.90,209.98" stroke="#c9c9c9" stroke-width="0.41" fill="none" stroke-linecap="round"/>
<circle cx="582.80" cy="185.70" r="2.00" fill="#c4c4c4"/>
<circle cx="582.80" cy="185.70" r="1.20" fill="#c07070" opacity="0.18"/>
<circle cx="582.80" cy="185.70" r="0.45" fill="#c07070"/>
<path d="M628.59,159.33Q630.50,158.74 633.26,158.23" stroke="#cf8cc5" stroke-width="1.50" fill="none" stroke-linecap="round"/>
<path d="M633.26,158.23Q634.64,156.79 636.13,155.35" stroke="#cf8cc5" stroke-width="1.02" fill="none" stroke-linecap="round"/>
<path d="M636.13,155.35Q636.05,154.46 636.27,152.72" stroke="#cf8cc5" stroke-width="0.72" fill="none" stroke-linecap="round"/>
<path d="M636.13,155.35Q637.51,154.64 639.04,154.71" stroke="#cf8cc5" stroke-width="0.72" fill="none" stroke-linecap="round"/>
<path d="M633.26,158.23Q634.90,158.76 636.84,160.26" stroke="#cf8cc5" stroke-width="1.02" fill="none" stroke-linecap="round"/>
<path d="M636.84,160.26Q638.51,160.33 639.53,160.16" stroke="#cf8cc5" stroke-width="0.72" fill="none" stroke-linecap="round"/>
<path d="M636.84,160.26Q637.35,160.94 638.16,162.71" stroke="#cf8cc5" stroke-width="0.72" fill="none" stroke-linecap="round"/>
<path d="M628.32,160.89Q630.94,162.06 632.75,163.71" stroke="#cf8cc5" stroke-width="1.50" fill="none" stroke-linecap="round"/>
<path d="M632.75,163.71Q634.10,164.29 636.41,164.02" stroke="#cf8cc5" stroke-width="1.02" fill="none" stroke-linecap="round"/>
<path d="M636.41,164.02Q638.06,162.86 639.27,162.67" stroke="#cf8cc5" stroke-width="0.72" fill="none" stroke-linecap="round"/>
<path d="M636.41,164.02Q638.05,164.77 638.74,165.93" stroke="#cf8cc5" stroke-width="0.72" fill="none" stroke-linecap="round"/>
<path d="M632.75,163.71Q633.07,165.96 634.19,167.37" stroke="#cf8cc5" stroke-width="1.02" fill="none" stroke-linecap="round"/>
<path d="M634.19,167.37Q635.11,167.96 635.82,168.86" stroke="#cf8cc5" stroke-width="0.72" fill="none" stroke-linecap="round"/>
<path d="M634.19,167.37Q634.65,168.84 633.99,170.18" stroke="#cf8cc5" stroke-width="0.72" fill="none" stroke-linecap="round"/>
<path d="M625.16,161.25Q623.96,163.26 621.67,164.76" stroke="#cf8cc5" stroke-width="1.50" fill="none" stroke-linecap="round"/>
<path d="M621.67,164.76Q621.80,166.42 621.68,169.08" stroke="#cf8cc5" stroke-width="1.02" fill="none" stroke-linecap="round"/>
<path d="M621.68,169.08Q622.60,169.53 623.12,170.81" stroke="#cf8cc5" stroke-width="0.72" fill="none" stroke-linecap="round"/>
<path d="M621.68,169.08Q621.02,169.91 620.27,170.87" stroke="#cf8cc5" stroke-width="0.72" fill="none" stroke-linecap="round"/>
<path d="M621.67,164.76Q620.77,165.81 618.91,165.71" stroke="#cf8cc5" stroke-width="1.02" fill="none" stroke-linecap="round"/>
<path d="M618.91,165.71Q618.73,167.46 617.38,168.24" stroke="#cf8cc5" stroke-width="0.72" fill="none" stroke-linecap="round"/>
<path d="M618.91,165.71Q617.99,165.27 616.55,164.82" stroke="#cf8cc5" stroke-width="0.72" fill="none" stroke-linecap="round"/>
<path d="M624.61,159.36Q622.67,159.26 619.91,158.31" stroke="#cf8cc5" stroke-width="1.50" fill="none" stroke-linecap="round"/>
<path d="M619.91,158.31Q617.63,158.81 616.33,160.01" stroke="#cf8cc5" stroke-width="1.02" fill="none" stroke-linecap="round"/>
<path d="M616.33,160.01Q615.69,161.07 614.61,161.95" stroke="#cf8cc5" stroke-width="0.72" fill="none" stroke-linecap="round"/>
<path d="M616.33,160.01Q615.43,159.76 613.54,159.92" stroke="#cf8cc5" stroke-width="0.72" fill="none" stroke-linecap="round"/>
<path d="M619.91,158.31Q618.39,157.58 617.65,156.06" stroke="#cf8cc5" stroke-width="1.02" fill="none" stroke-linecap="round"/>
<path d="M617.65,156.06Q616.32,156.14 614.59,155.12" stroke="#cf8cc5" stroke-width="0.72" fill="none" stroke-linecap="round"/>
<path d="M617.65,156.06Q616.93,154.81 616.88,153.83" stroke="#cf8cc5" stroke-width="0.72" fill="none" stroke-linecap="round"/>
<path d="M625.55,158.05Q624.48,155.82 623.51,154.65" stroke="#cf8cc5" stroke-width="1.50" fill="none" stroke-linecap="round"/>
<path d="M623.51,154.65Q621.84,154.22 619.90,153.77" stroke="#cf8cc5" stroke-width="1.02" fill="none" stroke-linecap="round"/>
<path d="M619.90,153.77Q618.92,154.12 616.86,154.29" stroke="#cf8cc5" stroke-width="0.72" fill="none" stroke-linecap="round"/>
<path d="M619.90,153.77Q619.35,152.60 618.16,152.26" stroke="#cf8cc5" stroke-width="0.72" fill="none" stroke-linecap="round"/>
<path d="M623.51,154.65Q622.87,152.84 623.12,150.74" stroke="#cf8cc5" stroke-width="1.02" fill="none" stroke-linecap="round"/>
<path d="M623.12,150.74Q621.63,149.64 621.31,148.84" stroke="#cf8cc5" stroke-width="0.72" fill="none" stroke-linecap="round"/>
<path d="M623.12,150.74Q623.16,149.70 624.07,148.48" stroke="#cf8cc5" stroke-width="0.72" fill="none" stroke-linecap="round"/>
<path d="M626.80,157.77Q626.44,155.54 627.17,153.87" stroke="#cf8cc5" stroke-width="1.50" fill="none" stroke-linecap="round"/>
<path d="M627.17,153.87Q626.63,151.87 625.73,150.89" stroke="#cf8cc5" stroke-width="1.02" fill="none" stroke-linecap="round"/>
<path d="M625.73,150.89Q624.46,150.48 623.86,149.52" stroke="#cf8cc5" stroke-width="0.72" fill="none" stroke-linecap="round"/>
<path d="M625.73,150.89Q625.61,149.67 626.00,148.05" stroke="#cf8cc5" stroke-width="0.72" fill="none" stroke-linecap="round"/>
<path d="M627.17,153.87Q628.19,152.92 629.34,150.97" stroke="#cf8cc5" stroke-width="1.02" fill="none" stroke-linecap="round"/>
<path d="M629.34,150.97Q630.00,149.75 629.83,148.27" stroke="#cf8cc5" stroke-width="0.72" fill="none" stroke-linecap="round"/>
<path d="M629.34,150.97Q630.74,150.24 631.95,150.20" stroke="#cf8cc5" stroke-width="0.72" fill="none" stroke-linecap="round"/>
<path d="M628.32,158.70Q630.68,157.56 632.28,156.16" stroke="#cf8cc5" stroke-width="1.50" fill="none" stroke-linecap="round"/>
<path d="M632.28,156.16Q633.05,154.90 632.92,153.15" stroke="#cf8cc5" stroke-width="1.02" fill="none" stroke-linecap="round"/>
<path d="M632.92,153.15Q632.28,152.21 632.29,150.09" stroke="#cf8cc5" stroke-width="0.72" fill="none" stroke-linecap="round"/>
<path d="M632.92,153.15Q634.00,151.84 635.05,151.12" stroke="#cf8cc5" stroke-width="0.72" fill="none" stroke-linecap="round"/>
<path d="M632.28,156.16Q633.83,156.05 635.86,156.32" stroke="#cf8cc5" stroke-width="1.02" fill="none" stroke-linecap="round"/>
<path d="M635.86,156.32Q636.48,156.06 637.97,155.08" stroke="#cf8cc5" stroke-width="0.72" fill="none" stroke-linecap="round"/>
<path d="M635.86,156.32Q637.29,157.23 638.04,157.66" stroke="#cf8cc5" stroke-width="0.72" fill="none" stroke-linecap="round"/>
<path d="M625.50,159.83 L627.00,197.02 L628.20,196.98 L627.70,159.77Z" fill="#cf8cc5"/>
<path d="M627.60,197.00Q629.47,197.84 631.02,199.31" stroke="#cf8cc5" stroke-width="1.02" fill="none" stroke-linecap="round"/>
<path d="M631.02,199.31Q632.81,199.16 635.59,199.46" stroke="#cf8cc5" stroke-width="0.84" fill="none" stroke-linecap="round"/>
<path d="M635.59,199.46Q636.18,199.43 637.61,198.61" stroke="#cf8cc5" stroke-width="0.66" fill="none" stroke-linecap="round"/>
<path d="M635.59,199.46Q636.15,200.81 637.45,201.03" stroke="#cf8cc5" stroke-width="0.66" fill="none" stroke-linecap="round"/>
<path d="M631.02,199.31Q632.09,201.24 632.90,202.85" stroke="#cf8cc5" stroke-width="0.84" fill="none" stroke-linecap="round"/>
<path d="M632.90,202.85Q634.29,204.28 635.21,204.94" stroke="#cf8cc5" stroke-width="0.66" fill="none" stroke-linecap="round"/>
<path d="M632.90,202.85Q632.66,203.90 632.59,205.60" stroke="#cf8cc5" stroke-width="0.66" fill="none" stroke-linecap="round"/>
<path d="M627.60,197.00Q628.04,199.19 627.99,202.32" stroke="#cf8cc5" stroke-width="1.02" fill="none" stroke-linecap="round"/>
<path d="M627.99,202.32Q629.02,203.82 629.59,205.43" stroke="#cf8cc5" stroke-width="0.84" fill="none" stroke-linecap="round"/>
<path d="M629.59,205.43Q630.70,205.89 631.61,206.57" stroke="#cf8cc5" stroke-width="0.66" fill="none" stroke-linecap="round"/>
<path d="M629.59,205.43Q629.89,207.26 629.41,208.25" stroke="#cf8cc5" stroke-width="0.66" fill="none" stroke-linecap="round"/>
<path d="M627.99,202.32Q626.85,204.76 625.72,206.28" stroke="#cf8cc5" stroke-width="0.84" fill="none" stroke-linecap="round"/>
<path d="M625.72,206.28Q625.06,207.83 625.30,209.21" stroke="#cf8cc5" stroke-width="0.66" fill="none" stroke-linecap="round"/>
<path d="M625.72,206.28Q624.62,206.87 623.84,207.42" stroke="#cf8cc5" stroke-width="0.66" fill="none" stroke-linecap="round"/>
<path d="M627.60,197.00Q626.36,198.13 624.92,199.48" stroke="#cf8cc5" stroke-width="1.02" fill="none" stroke-linecap="round"/>
<path d="M624.92,199.48Q624.36,201.83 623.02,203.44" stroke="#cf8cc5" stroke-width="0.84" fill="none" stroke-linecap="round"/>
<path d="M623.02,203.44Q622.75,204.42 623.44,206.27" stroke="#cf8cc5" stroke-width="0.66" fill="none" stroke-linecap="round"/>
<path d="M623.02,203.44Q621.54,204.20 621.18,204.91" stroke="#cf8cc5" stroke-width="0.66" fill="none" stroke-linecap="round"/>
<path d="M624.92,199.48Q623.00,200.04 621.72,199.57" stroke="#cf8cc5" stroke-width="0.84" fill="none" stroke-linecap="round"/>
<path d="M621.72,199.57Q620.49,200.59 619.46,200.85" stroke="#cf8cc5" stroke-width="0.66" fill="none" stroke-linecap="round"/>
<path d="M621.72,199.57Q620.42,199.35 619.45,198.46" stroke="#cf8cc5" stroke-width="0.66" fill="none" stroke-linecap="round"/>
<circle cx="626.60" cy="159.80" r="3.40" fill="#c772b9"/>
<circle cx="626.60" cy="159.80" r="2.04" fill="#8e3a88" opacity="0.18"/>
<circle cx="626.60" cy="159.80" r="0.54" fill="#8e3a88"/>
<rect x="615.2" y="147.3" width="23.6" height="25.1" fill="none" stroke="#2a2a2a" stroke-width="0.9" stroke-dasharray="2 1.3"/>
<rect x="620.3" y="192.1" width="15.4" height="16.4" fill="none" stroke="#2a2a2a" stroke-width="0.9" stroke-dasharray="2 1.3"/>
<rect x="28.8" y="237.9" width="132.4" height="163.3" fill="none" stroke="#3a3a3a" stroke-width="1.1"/>
<line x1="28.8" y1="251.40" x2="31.0" y2="251.40" stroke="#3a3a3a" stroke-width="1"/>
<text x="26.20" y="255.50" font-size="11.6" text-anchor="end" fill="#1a1a1a">1</text>
<line x1="28.8" y1="387.20" x2="31.0" y2="387.20" stroke="#3a3a3a" stroke-width="1"/>
<text x="26.20" y="391.30" font-size="11.6" text-anchor="end" fill="#1a1a1a">0</text>
<line x1="28.8" y1="319.30" x2="30.400000000000002" y2="319.30" stroke="#3a3a3a" stroke-width="0.9"/>
<line x1="38.20" y1="401.20000000000005" x2="38.20" y2="399.00000000000006" stroke="#3a3a3a" stroke-width="1"/>
<text x="38.20" y="412.7" font-size="11.6" text-anchor="middle" fill="#1a1a1a">0</text>
<line x1="76.33" y1="401.20000000000005" x2="76.33" y2="399.00000000000006" stroke="#3a3a3a" stroke-width="1"/>
<text x="76.33" y="412.7" font-size="11.6" text-anchor="middle" fill="#1a1a1a">40</text>
<line x1="114.46" y1="401.20000000000005" x2="114.46" y2="399.00000000000006" stroke="#3a3a3a" stroke-width="1"/>
<text x="114.46" y="412.7" font-size="11.6" text-anchor="middle" fill="#1a1a1a">80</text>
<line x1="152.60" y1="401.20000000000005" x2="152.60" y2="399.00000000000006" stroke="#3a3a3a" stroke-width="1"/>
<text x="152.60" y="412.7" font-size="11.6" text-anchor="middle" fill="#1a1a1a">120</text>
<line x1="57.27" y1="401.20000000000005" x2="57.27" y2="399.6" stroke="#3a3a3a" stroke-width="0.9"/>
<line x1="95.40" y1="401.20000000000005" x2="95.40" y2="399.6" stroke="#3a3a3a" stroke-width="0.9"/>
<line x1="133.53" y1="401.20000000000005" x2="133.53" y2="399.6" stroke="#3a3a3a" stroke-width="0.9"/>
<text x="95.00" y="426.6" font-size="12.85" text-anchor="middle" fill="#1a1a1a">Adaptation time (s)</text>
<text transform="translate(16.30,319.55) rotate(-90)" x="0" y="0" font-size="12.85" text-anchor="middle" fill="#1a1a1a">Intensity (a.u.)</text>
<polyline points="38.20,387.20 38.21,386.52 38.23,385.84 38.24,385.15 38.26,384.47 38.27,383.79 38.29,383.11 38.30,382.42 38.31,381.74 38.33,381.06 38.34,380.38 38.36,379.69 38.37,379.01 38.39,378.33 38.40,377.65 38.42,376.96 38.43,376.28 38.44,375.60 38.46,374.92 38.47,374.23 38.49,373.55 38.50,372.87 38.52,372.19 38.53,371.50 38.54,370.82 38.56,370.14 38.57,369.46 38.59,368.77 38.60,368.09 38.62,367.41 38.63,366.73 38.65,366.05 38.66,365.36 38.67,364.68 38.69,364.00 38.70,363.32 38.72,362.63 38.73,361.95 38.75,361.27 38.76,360.59 38.77,359.90 38.79,359.22 38.80,358.54 38.82,357.86 38.83,357.17 38.85,356.49 38.86,355.81 38.88,355.13 38.89,354.44 38.90,353.76 38.92,353.08 38.93,352.40 38.95,351.71 38.96,351.03 38.98,350.35 38.99,349.67 39.00,348.98 39.02,348.30 39.03,347.62 39.05,346.94 39.06,346.26 39.08,345.57 39.09,344.89 39.11,344.21 39.12,343.53 39.13,342.84 39.15,342.16 39.16,341.48 39.18,340.80 39.19,340.11 39.21,339.43 39.22,338.75 39.23,338.07 39.25,337.38 39.26,336.70 39.28,336.02 39.29,335.34 39.31,334.65 39.32,333.97 39.34,333.29 39.35,332.61 39.36,331.92 39.38,331.24 39.39,330.56 39.41,329.88 39.42,329.19 39.44,328.51 39.45,327.83 39.46,327.15 39.48,326.47 39.49,325.78 39.51,325.10 39.52,324.42 39.54,323.74 39.55,323.05 39.57,322.37 39.58,321.69 39.59,321.01 39.61,320.32 39.62,319.64 39.64,318.96 39.65,318.28 39.67,317.59 39.68,316.91 39.69,316.23 39.71,315.55 39.72,314.86 39.74,314.18 39.75,313.50 39.77,312.82 39.78,312.13 39.80,311.45 39.81,310.77 39.82,310.09 39.84,309.41 39.85,308.72 39.87,308.04 39.88,307.36 39.90,306.68 39.91,305.99 39.92,305.31 39.94,304.63 39.95,303.95 39.97,303.26 39.98,302.58 40.00,301.90 40.01,301.22 40.03,300.53 40.04,299.85 40.05,299.17 40.07,298.49 40.08,297.80 40.10,297.12 40.11,296.44 40.13,295.76 40.14,295.07 40.15,294.39 40.17,293.71 40.18,293.03 40.20,292.34 40.21,291.66 40.23,290.98 40.24,290.30 40.26,289.62 40.27,288.93 40.28,288.25 40.30,287.57 40.31,286.89 40.33,286.20 40.34,285.52 40.36,284.84 40.37,284.16 40.38,283.47 40.40,282.79 40.41,282.11 40.43,281.43 40.44,280.74 40.46,280.06 40.47,279.38 40.49,278.70 40.50,278.01 40.51,277.33 40.53,276.65 40.54,275.97 40.56,275.28 40.57,274.60 40.59,273.92 40.60,273.24 40.61,272.55 40.63,271.87 40.64,271.19 40.66,270.51 40.67,269.83 40.69,269.14 40.70,268.46 40.71,267.78 40.73,267.10 40.74,266.41 40.76,265.73 40.77,265.05 40.79,264.37 40.80,263.68 40.82,263.00 40.83,262.32 40.84,261.64 40.86,260.95 40.87,260.27 40.89,259.59 40.90,258.91 40.92,258.22 40.93,257.54 40.94,256.86 40.96,256.18 40.97,255.49 40.99,254.81 41.00,254.13 41.02,253.45 41.03,252.76 41.05,252.08 41.06,251.40" fill="none" stroke="#b71f33" stroke-width="1.9" />
<polyline points="41.06,251.40 41.62,252.81 42.18,254.21 42.73,255.62 43.29,257.02 43.85,258.42 44.41,259.81 44.97,261.20 45.52,262.59 46.08,263.97 46.64,265.35 47.20,266.72 47.76,268.08 48.32,269.43 48.87,270.78 49.43,272.12 49.99,273.44 50.55,274.76 51.11,276.07 51.66,277.36 52.22,278.65 52.78,279.92 53.34,281.18 53.90,282.42 54.45,283.66 55.01,284.88 55.57,286.08 56.13,287.27 56.69,288.45 57.24,289.61 57.80,290.76 58.36,291.89 58.92,293.01 59.48,294.11 60.03,295.19 60.59,296.26 61.15,297.31 61.71,298.34 62.27,299.36 62.83,300.36 63.38,301.35 63.94,302.31 64.50,303.26 65.06,304.20 65.62,305.12 66.17,306.02 66.73,306.90 67.29,307.77 67.85,308.62 68.41,309.45 68.96,310.27 69.52,311.07 70.08,311.85 70.64,312.62 71.20,313.37 71.75,314.11 72.31,314.83 72.87,315.53 73.43,316.22 73.99,316.89 74.55,317.55 75.10,318.20 75.66,318.83 76.22,319.44 76.78,320.04 77.34,320.63 77.89,321.20 78.45,321.76 79.01,322.31 79.57,322.84 80.13,323.36 80.68,323.87 81.24,324.36 81.80,324.84 82.36,325.31 82.92,325.77 83.47,326.22 84.03,326.65 84.59,327.08 85.15,327.49 85.71,327.89 86.27,328.29 86.82,328.67 87.38,329.04 87.94,329.40 88.50,329.75 89.06,330.10 89.61,330.43 90.17,330.76 90.73,331.07 91.29,331.38 91.85,331.68 92.40,331.97 92.96,332.25 93.52,332.53 94.08,332.79 94.64,333.05 95.19,333.31 95.75,333.55 96.31,333.79 96.87,334.02 97.43,334.25 97.98,334.47 98.54,334.68 99.10,334.89 99.66,335.09 100.22,335.29 100.78,335.48 101.33,335.66 101.89,335.84 102.45,336.02 103.01,336.18 103.57,336.35 104.12,336.51 104.68,336.66 105.24,336.81 105.80,336.96 106.36,337.10 106.91,337.24 107.47,337.37 108.03,337.50 108.59,337.63 109.15,337.75 109.70,337.87 110.26,337.99 110.82,338.10 111.38,338.21 111.94,338.31 112.50,338.41 113.05,338.51 113.61,338.61 114.17,338.70 114.73,338.79 115.29,338.88 115.84,338.97 116.40,339.05 116.96,339.13 117.52,339.21 118.08,339.28 118.63,339.36 119.19,339.43 119.75,339.50 120.31,339.56 120.87,339.63 121.42,339.69 121.98,339.75 122.54,339.81 123.10,339.87 123.66,339.92 124.21,339.98 124.77,340.03 125.33,340.08 125.89,340.13 126.45,340.18 127.01,340.23 127.56,340.27 128.12,340.31 128.68,340.36 129.24,340.40 129.80,340.44 130.35,340.48 130.91,340.51 131.47,340.55 132.03,340.59 132.59,340.62 133.14,340.65 133.70,340.69 134.26,340.72 134.82,340.75 135.38,340.78 135.93,340.80 136.49,340.83 137.05,340.86 137.61,340.88 138.17,340.91 138.73,340.93 139.28,340.96 139.84,340.98 140.40,341.00 140.96,341.02 141.52,341.04 142.07,341.07 142.63,341.08 143.19,341.10 143.75,341.12 144.31,341.14 144.86,341.16 145.42,341.17 145.98,341.19 146.54,341.21 147.10,341.22 147.65,341.24 148.21,341.25 148.77,341.26 149.33,341.28 149.89,341.29 150.45,341.30 151.00,341.32 151.56,341.33 152.12,341.34" fill="none" stroke="#b71f33" stroke-width="1.6" stroke-dasharray="1.6 1.9"/>
<rect x="196.7" y="237.9" width="132.6" height="163.3" fill="none" stroke="#3a3a3a" stroke-width="1.1"/>
<line x1="196.7" y1="251.40" x2="198.89999999999998" y2="251.40" stroke="#3a3a3a" stroke-width="1"/>
<text x="194.10" y="255.50" font-size="11.6" text-anchor="end" fill="#1a1a1a">1</text>
<line x1="196.7" y1="387.20" x2="198.89999999999998" y2="387.20" stroke="#3a3a3a" stroke-width="1"/>
<text x="194.10" y="391.30" font-size="11.6" text-anchor="end" fill="#1a1a1a">0</text>
<line x1="196.7" y1="319.30" x2="198.29999999999998" y2="319.30" stroke="#3a3a3a" stroke-width="0.9"/>
<line x1="206.10" y1="401.20000000000005" x2="206.10" y2="399.00000000000006" stroke="#3a3a3a" stroke-width="1"/>
<text x="206.10" y="412.7" font-size="11.6" text-anchor="middle" fill="#1a1a1a">0</text>
<line x1="244.23" y1="401.20000000000005" x2="244.23" y2="399.00000000000006" stroke="#3a3a3a" stroke-width="1"/>
<text x="244.23" y="412.7" font-size="11.6" text-anchor="middle" fill="#1a1a1a">40</text>
<line x1="282.36" y1="401.20000000000005" x2="282.36" y2="399.00000000000006" stroke="#3a3a3a" stroke-width="1"/>
<text x="282.36" y="412.7" font-size="11.6" text-anchor="middle" fill="#1a1a1a">80</text>
<line x1="320.50" y1="401.20000000000005" x2="320.50" y2="399.00000000000006" stroke="#3a3a3a" stroke-width="1"/>
<text x="320.50" y="412.7" font-size="11.6" text-anchor="middle" fill="#1a1a1a">120</text>
<line x1="225.17" y1="401.20000000000005" x2="225.17" y2="399.6" stroke="#3a3a3a" stroke-width="0.9"/>
<line x1="263.30" y1="401.20000000000005" x2="263.30" y2="399.6" stroke="#3a3a3a" stroke-width="0.9"/>
<line x1="301.43" y1="401.20000000000005" x2="301.43" y2="399.6" stroke="#3a3a3a" stroke-width="0.9"/>
<text x="263.00" y="426.6" font-size="12.85" text-anchor="middle" fill="#1a1a1a">Adaptation time (s)</text>
<text transform="translate(184.20,319.55) rotate(-90)" x="0" y="0" font-size="12.85" text-anchor="middle" fill="#1a1a1a">Intensity (a.u.)</text>
<polyline points="206.10,251.40 206.11,252.08 206.13,252.76 206.14,253.45 206.16,254.13 206.17,254.81 206.19,255.49 206.20,256.18 206.21,256.86 206.23,257.54 206.24,258.22 206.26,258.91 206.27,259.59 206.29,260.27 206.30,260.95 206.32,261.64 206.33,262.32 206.34,263.00 206.36,263.68 206.37,264.37 206.39,265.05 206.40,265.73 206.42,266.41 206.43,267.10 206.44,267.78 206.46,268.46 206.47,269.14 206.49,269.83 206.50,270.51 206.52,271.19 206.53,271.87 206.55,272.55 206.56,273.24 206.57,273.92 206.59,274.60 206.60,275.28 206.62,275.97 206.63,276.65 206.65,277.33 206.66,278.01 206.67,278.70 206.69,279.38 206.70,280.06 206.72,280.74 206.73,281.43 206.75,282.11 206.76,282.79 206.78,283.47 206.79,284.16 206.80,284.84 206.82,285.52 206.83,286.20 206.85,286.89 206.86,287.57 206.88,288.25 206.89,288.93 206.90,289.62 206.92,290.30 206.93,290.98 206.95,291.66 206.96,292.34 206.98,293.03 206.99,293.71 207.01,294.39 207.02,295.07 207.03,295.76 207.05,296.44 207.06,297.12 207.08,297.80 207.09,298.49 207.11,299.17 207.12,299.85 207.13,300.53 207.15,301.22 207.16,301.90 207.18,302.58 207.19,303.26 207.21,303.95 207.22,304.63 207.24,305.31 207.25,305.99 207.26,306.68 207.28,307.36 207.29,308.04 207.31,308.72 207.32,309.41 207.34,310.09 207.35,310.77 207.36,311.45 207.38,312.13 207.39,312.82 207.41,313.50 207.42,314.18 207.44,314.86 207.45,315.55 207.47,316.23 207.48,316.91 207.49,317.59 207.51,318.28 207.52,318.96 207.54,319.64 207.55,320.32 207.57,321.01 207.58,321.69 207.59,322.37 207.61,323.05 207.62,323.74 207.64,324.42 207.65,325.10 207.67,325.78 207.68,326.47 207.70,327.15 207.71,327.83 207.72,328.51 207.74,329.19 207.75,329.88 207.77,330.56 207.78,331.24 207.80,331.92 207.81,332.61 207.82,333.29 207.84,333.97 207.85,334.65 207.87,335.34 207.88,336.02 207.90,336.70 207.91,337.38 207.93,338.07 207.94,338.75 207.95,339.43 207.97,340.11 207.98,340.80 208.00,341.48 208.01,342.16 208.03,342.84 208.04,343.53 208.05,344.21 208.07,344.89 208.08,345.57 208.10,346.26 208.11,346.94 208.13,347.62 208.14,348.30 208.16,348.98 208.17,349.67 208.18,350.35 208.20,351.03 208.21,351.71 208.23,352.40 208.24,353.08 208.26,353.76 208.27,354.44 208.28,355.13 208.30,355.81 208.31,356.49 208.33,357.17 208.34,357.86 208.36,358.54 208.37,359.22 208.39,359.90 208.40,360.59 208.41,361.27 208.43,361.95 208.44,362.63 208.46,363.32 208.47,364.00 208.49,364.68 208.50,365.36 208.51,366.05 208.53,366.73 208.54,367.41 208.56,368.09 208.57,368.77 208.59,369.46 208.60,370.14 208.61,370.82 208.63,371.50 208.64,372.19 208.66,372.87 208.67,373.55 208.69,374.23 208.70,374.92 208.72,375.60 208.73,376.28 208.74,376.96 208.76,377.65 208.77,378.33 208.79,379.01 208.80,379.69 208.82,380.38 208.83,381.06 208.84,381.74 208.86,382.42 208.87,383.11 208.89,383.79 208.90,384.47 208.92,385.15 208.93,385.84 208.95,386.52 208.96,387.20" fill="none" stroke="#234b8a" stroke-width="1.9" />
<polyline points="208.96,387.20 209.51,385.67 210.07,384.14 210.62,382.61 211.17,381.09 211.73,379.57 212.28,378.05 212.83,376.54 213.39,375.04 213.94,373.54 214.49,372.05 215.05,370.56 215.60,369.09 216.15,367.63 216.71,366.18 217.26,364.74 217.81,363.31 218.37,361.90 218.92,360.50 219.47,359.11 220.03,357.74 220.58,356.38 221.13,355.04 221.69,353.71 222.24,352.41 222.79,351.11 223.35,349.84 223.90,348.59 224.45,347.35 225.01,346.13 225.56,344.93 226.11,343.75 226.67,342.59 227.22,341.45 227.77,340.33 228.33,339.23 228.88,338.15 229.43,337.08 229.99,336.04 230.54,335.02 231.09,334.02 231.65,333.04 232.20,332.08 232.75,331.14 233.30,330.21 233.86,329.31 234.41,328.43 234.96,327.57 235.52,326.72 236.07,325.90 236.62,325.10 237.18,324.31 237.73,323.54 238.28,322.79 238.84,322.06 239.39,321.35 239.94,320.65 240.50,319.98 241.05,319.32 241.60,318.67 242.16,318.04 242.71,317.43 243.26,316.84 243.82,316.26 244.37,315.70 244.92,315.15 245.48,314.61 246.03,314.09 246.58,313.59 247.14,313.10 247.69,312.62 248.24,312.16 248.80,311.71 249.35,311.27 249.90,310.84 250.46,310.43 251.01,310.03 251.56,309.64 252.12,309.26 252.67,308.89 253.22,308.53 253.78,308.19 254.33,307.85 254.88,307.53 255.44,307.21 255.99,306.90 256.54,306.61 257.10,306.32 257.65,306.04 258.20,305.77 258.76,305.50 259.31,305.25 259.86,305.00 260.42,304.76 260.97,304.53 261.52,304.31 262.08,304.09 262.63,303.88 263.18,303.67 263.74,303.47 264.29,303.28 264.84,303.10 265.40,302.92 265.95,302.74 266.50,302.57 267.06,302.41 267.61,302.25 268.16,302.10 268.72,301.95 269.27,301.81 269.82,301.67 270.38,301.53 270.93,301.40 271.48,301.28 272.04,301.16 272.59,301.04 273.14,300.92 273.70,300.81 274.25,300.71 274.80,300.60 275.36,300.50 275.91,300.41 276.46,300.31 277.02,300.22 277.57,300.13 278.12,300.05 278.68,299.97 279.23,299.89 279.78,299.81 280.34,299.74 280.89,299.67 281.44,299.60 282.00,299.53 282.55,299.46 283.10,299.40 283.66,299.34 284.21,299.28 284.76,299.22 285.31,299.17 285.87,299.12 286.42,299.06 286.97,299.02 287.53,298.97 288.08,298.92 288.63,298.88 289.19,298.83 289.74,298.79 290.29,298.75 290.85,298.71 291.40,298.67 291.95,298.64 292.51,298.60 293.06,298.57 293.61,298.53 294.17,298.50 294.72,298.47 295.27,298.44 295.83,298.41 296.38,298.38 296.93,298.36 297.49,298.33 298.04,298.30 298.59,298.28 299.15,298.26 299.70,298.23 300.25,298.21 300.81,298.19 301.36,298.17 301.91,298.15 302.47,298.13 303.02,298.11 303.57,298.09 304.13,298.08 304.68,298.06 305.23,298.04 305.79,298.03 306.34,298.01 306.89,298.00 307.45,297.98 308.00,297.97 308.55,297.96 309.11,297.94 309.66,297.93 310.21,297.92 310.77,297.91 311.32,297.90 311.87,297.88 312.43,297.87 312.98,297.86 313.53,297.85 314.09,297.84 314.64,297.84 315.19,297.83 315.75,297.82 316.30,297.81 316.85,297.80 317.41,297.79 317.96,297.79 318.51,297.78 319.07,297.77" fill="none" stroke="#234b8a" stroke-width="1.6" stroke-dasharray="1.6 1.9"/>
<rect x="380.4" y="238.0" width="132.1" height="163.3" fill="none" stroke="#3a3a3a" stroke-width="1.1"/>
<line x1="380.4" y1="251.30" x2="382.59999999999997" y2="251.30" stroke="#3a3a3a" stroke-width="1"/>
<text x="377.80" y="255.40" font-size="11.6" text-anchor="end" fill="#1a1a1a">1</text>
<line x1="380.4" y1="387.20" x2="382.59999999999997" y2="387.20" stroke="#3a3a3a" stroke-width="1"/>
<text x="377.80" y="391.30" font-size="11.6" text-anchor="end" fill="#1a1a1a">0</text>
<line x1="380.4" y1="319.25" x2="382.0" y2="319.25" stroke="#3a3a3a" stroke-width="0.9"/>
<line x1="389.70" y1="401.3" x2="389.70" y2="399.1" stroke="#3a3a3a" stroke-width="1"/>
<text x="389.70" y="412.7" font-size="11.6" text-anchor="middle" fill="#1a1a1a">0</text>
<line x1="437.40" y1="401.3" x2="437.40" y2="399.1" stroke="#3a3a3a" stroke-width="1"/>
<text x="437.40" y="412.7" font-size="11.6" text-anchor="middle" fill="#1a1a1a">50</text>
<line x1="485.10" y1="401.3" x2="485.10" y2="399.1" stroke="#3a3a3a" stroke-width="1"/>
<text x="485.10" y="412.7" font-size="11.6" text-anchor="middle" fill="#1a1a1a">100</text>
<line x1="413.55" y1="401.3" x2="413.55" y2="399.7" stroke="#3a3a3a" stroke-width="0.9"/>
<line x1="461.25" y1="401.3" x2="461.25" y2="399.7" stroke="#3a3a3a" stroke-width="0.9"/>
<line x1="508.95" y1="401.3" x2="508.95" y2="399.7" stroke="#3a3a3a" stroke-width="0.9"/>
<text x="446.45" y="426.6" font-size="12.85" text-anchor="middle" fill="#1a1a1a">Adaptation time (μs)</text>
<text transform="translate(367.90,319.65) rotate(-90)" x="0" y="0" font-size="12.85" text-anchor="middle" fill="#1a1a1a">Intensity (a.u.)</text>
<polyline points="389.70,251.30 390.26,253.48 390.81,255.66 391.37,257.84 391.92,260.02 392.48,262.19 393.04,264.35 393.59,266.51 394.15,268.66 394.70,270.81 395.26,272.94 395.82,275.06 396.37,277.17 396.93,279.27 397.49,281.35 398.04,283.42 398.60,285.47 399.15,287.50 399.71,289.52 400.27,291.52 400.82,293.51 401.38,295.47 401.93,297.41 402.49,299.33 403.05,301.23 403.60,303.10 404.16,304.96 404.71,306.79 405.27,308.59 405.83,310.38 406.38,312.13 406.94,313.87 407.50,315.57 408.05,317.26 408.61,318.91 409.16,320.54 409.72,322.14 410.28,323.72 410.83,325.27 411.39,326.79 411.94,328.29 412.50,329.75 413.06,331.20 413.61,332.61 414.17,334.00 414.72,335.36 415.28,336.69 415.84,338.00 416.39,339.28 416.95,340.54 417.51,341.76 418.06,342.97 418.62,344.14 419.17,345.29 419.73,346.42 420.29,347.52 420.84,348.60 421.40,349.65 421.95,350.67 422.51,351.68 423.07,352.66 423.62,353.62 424.18,354.55 424.73,355.46 425.29,356.35 425.85,357.22 426.40,358.06 426.96,358.89 427.51,359.69 428.07,360.48 428.63,361.24 429.18,361.99 429.74,362.71 430.30,363.42 430.85,364.10 431.41,364.77 431.96,365.43 432.52,366.06 433.08,366.68 433.63,367.28 434.19,367.86 434.74,368.43 435.30,368.99 435.86,369.52 436.41,370.05 436.97,370.56 437.52,371.05 438.08,371.53 438.64,372.00 439.19,372.45 439.75,372.90 440.31,373.33 440.86,373.74 441.42,374.15 441.97,374.54 442.53,374.92 443.09,375.29 443.64,375.65 444.20,376.00 444.75,376.34 445.31,376.67 445.87,376.99 446.42,377.30 446.98,377.61 447.53,377.90 448.09,378.18 448.65,378.46 449.20,378.73 449.76,378.99 450.31,379.24 450.87,379.48 451.43,379.72 451.98,379.95 452.54,380.17 453.10,380.39 453.65,380.60 454.21,380.80 454.76,381.00 455.32,381.19 455.88,381.38 456.43,381.56 456.99,381.73 457.54,381.90 458.10,382.07 458.66,382.23 459.21,382.38 459.77,382.53 460.32,382.68 460.88,382.82 461.44,382.95 461.99,383.08 462.55,383.21 463.11,383.34 463.66,383.46 464.22,383.57 464.77,383.69 465.33,383.80 465.89,383.90 466.44,384.01 467.00,384.11 467.55,384.20 468.11,384.30 468.67,384.39 469.22,384.48 469.78,384.56 470.33,384.64 470.89,384.72 471.45,384.80 472.00,384.88 472.56,384.95 473.12,385.02 473.67,385.09 474.23,385.15 474.78,385.22 475.34,385.28 475.90,385.34 476.45,385.40 477.01,385.46 477.56,385.51 478.12,385.56 478.68,385.62 479.23,385.66 479.79,385.71 480.34,385.76 480.90,385.81 481.46,385.85 482.01,385.89 482.57,385.93 483.12,385.97 483.68,386.01 484.24,386.05 484.79,386.08 485.35,386.12 485.91,386.15 486.46,386.19 487.02,386.22 487.57,386.25 488.13,386.28 488.69,386.31 489.24,386.34 489.80,386.36 490.35,386.39 490.91,386.42 491.47,386.44 492.02,386.46 492.58,386.49 493.13,386.51 493.69,386.53 494.25,386.55 494.80,386.57 495.36,386.59 495.92,386.61 496.47,386.63 497.03,386.65 497.58,386.67 498.14,386.68 498.70,386.70 499.25,386.72 499.81,386.73 500.36,386.75" fill="none" stroke="#b71f33" stroke-width="1.6" stroke-dasharray="1.6 1.9"/>
<rect x="550.8" y="238.0" width="131.8" height="163.0" fill="none" stroke="#3a3a3a" stroke-width="1.1"/>
<line x1="550.8" y1="251.20" x2="553.0" y2="251.20" stroke="#3a3a3a" stroke-width="1"/>
<text x="548.20" y="255.30" font-size="11.6" text-anchor="end" fill="#1a1a1a">1</text>
<line x1="550.8" y1="387.20" x2="553.0" y2="387.20" stroke="#3a3a3a" stroke-width="1"/>
<text x="548.20" y="391.30" font-size="11.6" text-anchor="end" fill="#1a1a1a">0</text>
<line x1="550.8" y1="319.20" x2="552.4" y2="319.20" stroke="#3a3a3a" stroke-width="0.9"/>
<line x1="560.10" y1="401.0" x2="560.10" y2="398.8" stroke="#3a3a3a" stroke-width="1"/>
<text x="560.10" y="412.7" font-size="11.6" text-anchor="middle" fill="#1a1a1a">0</text>
<line x1="607.80" y1="401.0" x2="607.80" y2="398.8" stroke="#3a3a3a" stroke-width="1"/>
<text x="607.80" y="412.7" font-size="11.6" text-anchor="middle" fill="#1a1a1a">50</text>
<line x1="655.50" y1="401.0" x2="655.50" y2="398.8" stroke="#3a3a3a" stroke-width="1"/>
<text x="655.50" y="412.7" font-size="11.6" text-anchor="middle" fill="#1a1a1a">100</text>
<line x1="583.95" y1="401.0" x2="583.95" y2="399.4" stroke="#3a3a3a" stroke-width="0.9"/>
<line x1="631.65" y1="401.0" x2="631.65" y2="399.4" stroke="#3a3a3a" stroke-width="0.9"/>
<line x1="679.35" y1="401.0" x2="679.35" y2="399.4" stroke="#3a3a3a" stroke-width="0.9"/>
<text x="616.70" y="426.6" font-size="12.85" text-anchor="middle" fill="#1a1a1a">Adaptation time (μs)</text>
<text transform="translate(538.30,319.50) rotate(-90)" x="0" y="0" font-size="12.85" text-anchor="middle" fill="#1a1a1a">Intensity (a.u.)</text>
<polyline points="560.10,387.20 560.66,386.24 561.21,384.92 561.77,383.43 562.32,381.83 562.88,380.14 563.44,378.39 563.99,376.59 564.55,374.74 565.10,372.87 565.66,370.97 566.22,369.05 566.77,367.12 567.33,365.18 567.89,363.24 568.44,361.29 569.00,359.35 569.55,357.41 570.11,355.48 570.67,353.55 571.22,351.64 571.78,349.73 572.33,347.84 572.89,345.97 573.45,344.11 574.00,342.27 574.56,340.45 575.11,338.65 575.67,336.86 576.23,335.10 576.78,333.36 577.34,331.64 577.90,329.94 578.45,328.26 579.01,326.61 579.56,324.98 580.12,323.38 580.68,321.80 581.23,320.24 581.79,318.71 582.34,317.20 582.90,315.72 583.46,314.26 584.01,312.82 584.57,311.41 585.12,310.03 585.68,308.67 586.24,307.33 586.79,306.01 587.35,304.73 587.91,303.46 588.46,302.22 589.02,301.00 589.57,299.81 590.13,298.63 590.69,297.48 591.24,296.36 591.80,295.26 592.35,294.17 592.91,293.11 593.47,292.08 594.02,291.06 594.58,290.06 595.13,289.09 595.69,288.14 596.25,287.20 596.80,286.29 597.36,285.40 597.91,284.52 598.47,283.67 599.03,282.83 599.58,282.02 600.14,281.22 600.70,280.44 601.25,279.67 601.81,278.93 602.36,278.20 602.92,277.49 603.48,276.79 604.03,276.11 604.59,275.45 605.14,274.80 605.70,274.17 606.26,273.55 606.81,272.95 607.37,272.36 607.92,271.79 608.48,271.23 609.04,270.68 609.59,270.15 610.15,269.63 610.71,269.12 611.26,268.63 611.82,268.15 612.37,267.68 612.93,267.22 613.49,266.77 614.04,266.34 614.60,265.91 615.15,265.50 615.71,265.10 616.27,264.70 616.82,264.32 617.38,263.95 617.93,263.59 618.49,263.23 619.05,262.89 619.60,262.55 620.16,262.23 620.71,261.91 621.27,261.60 621.83,261.30 622.38,261.01 622.94,260.72 623.50,260.45 624.05,260.18 624.61,259.91 625.16,259.66 625.72,259.41 626.28,259.17 626.83,258.93 627.39,258.71 627.94,258.48 628.50,258.27 629.06,258.06 629.61,257.85 630.17,257.65 630.72,257.46 631.28,257.27 631.84,257.09 632.39,256.91 632.95,256.74 633.51,256.57 634.06,256.41 634.62,256.25 635.17,256.10 635.73,255.95 636.29,255.81 636.84,255.67 637.40,255.53 637.95,255.40 638.51,255.27 639.07,255.14 639.62,255.02 640.18,254.90 640.73,254.79 641.29,254.68 641.85,254.57 642.40,254.46 642.96,254.36 643.52,254.26 644.07,254.17 644.63,254.08 645.18,253.99 645.74,253.90 646.30,253.81 646.85,253.73 647.41,253.65 647.96,253.57 648.52,253.50 649.08,253.43 649.63,253.36 650.19,253.29 650.74,253.22 651.30,253.16 651.86,253.09 652.41,253.03 652.97,252.97 653.52,252.92 654.08,252.86 654.64,252.81 655.19,252.76 655.75,252.71 656.31,252.66 656.86,252.61 657.42,252.56 657.97,252.52 658.53,252.48 659.09,252.44 659.64,252.40 660.20,252.36 660.75,252.32 661.31,252.28 661.87,252.25 662.42,252.21 662.98,252.18 663.53,252.15 664.09,252.12 664.65,252.09 665.20,252.06 665.76,252.03 666.32,252.00 666.87,251.97 667.43,251.95 667.98,251.92 668.54,251.90 669.10,251.88 669.65,251.85 670.21,251.83 670.76,251.81" fill="none" stroke="#234b8a" stroke-width="1.6" stroke-dasharray="1.6 1.9"/>
<text x="159.10" y="248.60" font-size="9.95" text-anchor="end" fill="#1a1a1a" >Photopic adaptation</text>
<text x="159.10" y="260.50" font-size="9.95" text-anchor="end" fill="#1a1a1a" >Process 1</text>
<line x1="93" y1="257.5" x2="105.7" y2="257.5" stroke="#b71f33" stroke-width="1.9" />
<text x="159.10" y="272.80" font-size="9.95" text-anchor="end" fill="#1a1a1a" >Process 2</text>
<line x1="93" y1="269.9" x2="105.7" y2="269.9" stroke="#b71f33" stroke-width="1.6" stroke-dasharray="1.6 1.9"/>
<text x="128.6" y="284.3" font-size="9.95" fill="#1a1a1a">+</text><text x="137.6" y="284.3" font-size="9.95" font-style="italic" fill="#1a1a1a">V</text><text x="144.2" y="286.7" font-size="6.9" fill="#1a1a1a">GS</text>
<text x="159.00" y="391.60" font-size="9.95" text-anchor="end" fill="#1a1a1a" >Feedback inhibition</text>
<text x="326.40" y="248.70" font-size="9.95" text-anchor="end" fill="#1a1a1a" >Scotopic adaptation</text>
<text x="326.40" y="260.60" font-size="9.95" text-anchor="end" fill="#1a1a1a" >Process 1</text>
<line x1="260.6" y1="257.6" x2="273.7" y2="257.6" stroke="#234b8a" stroke-width="1.9" />
<text x="326.40" y="272.60" font-size="9.95" text-anchor="end" fill="#1a1a1a" >Process 2</text>
<line x1="260.6" y1="270.0" x2="273.7" y2="270.0" stroke="#234b8a" stroke-width="1.6" stroke-dasharray="1.6 1.9"/>
<text x="297.0" y="284.8" font-size="9.95" fill="#1a1a1a">-</text><text x="303.4" y="284.8" font-size="9.95" font-style="italic" fill="#1a1a1a">V</text><text x="310.0" y="287.2" font-size="6.9" fill="#1a1a1a">GS</text>
<text x="327.70" y="391.60" font-size="9.95" text-anchor="end" fill="#1a1a1a" >Feedback inhibition</text>
<text x="509.90" y="248.80" font-size="9.95" text-anchor="end" fill="#1a1a1a" >Photopic adaptation</text>
<text x="508.90" y="260.90" font-size="9.95" text-anchor="end" fill="#1a1a1a" >Process 2</text>
<line x1="444.3" y1="257.7" x2="456.7" y2="257.7" stroke="#b71f33" stroke-width="1.6" stroke-dasharray="1.6 1.9"/>
<text x="509.40" y="273.70" font-size="9.95" text-anchor="end" fill="#1a1a1a" >Feedforward inhibition</text>
<text x="679.10" y="364.50" font-size="9.95" text-anchor="end" fill="#1a1a1a" >Scotopic adaptation</text>
<text x="676.60" y="377.70" font-size="9.95" text-anchor="end" fill="#1a1a1a" >Process 2</text>
<line x1="611.6" y1="375.0" x2="624.0" y2="375.0" stroke="#234b8a" stroke-width="1.6" stroke-dasharray="1.6 1.9"/>
<text x="681.50" y="391.30" font-size="9.95" text-anchor="end" fill="#1a1a1a" >Feedforward inhibition</text>
<text x="1.00" y="17.20" font-size="24.5" text-anchor="start" fill="#000" >a</text>
<text x="336.50" y="22.60" font-size="24.5" text-anchor="start" fill="#000" >b</text>
<text x="0.20" y="249.60" font-size="24.5" text-anchor="start" fill="#000" >c</text>
<text x="348.40" y="249.90" font-size="24.5" text-anchor="start" fill="#000" >d</text>
</svg>
</body></html>
